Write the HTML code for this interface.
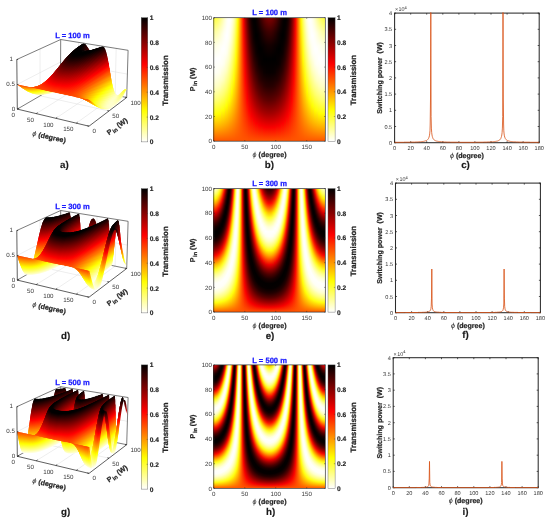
<!DOCTYPE html>
<html><head><meta charset="utf-8"><title>Transmission and switching power</title>
<style>
html,body{margin:0;padding:0;background:#fff}
#fig{position:relative;width:550px;height:520px;overflow:hidden;background:#fff;font-family:"Liberation Sans",sans-serif}
.hm{position:absolute;width:112px;display:flex}
.hm i{display:block;width:1px;height:100%}
svg{position:absolute;left:0;top:0}
text{font-family:"Liberation Sans",sans-serif;fill:#262626;text-rendering:geometricPrecision}
.tk{font-size:6.2px;fill:#383838}
.t2{font-size:5.6px}
.cbt{font-size:6.6px;font-weight:bold;stroke:#262626;stroke-width:.2px}
.cbl{font-size:7.8px;font-weight:bold;stroke:#262626;stroke-width:.25px}
.al{font-size:7.1px;font-weight:bold;stroke:#262626;stroke-width:.22px}
.ph{stroke:none;font-weight:normal;font-style:italic;font-family:"Liberation Sans","DejaVu Sans",sans-serif;font-size:7.2px}
.ti{font-size:7.6px;font-weight:bold;fill:#1a1aff;stroke:#1a1aff;stroke-width:.25px}
.pl{font-size:9.8px;font-weight:bold;fill:#1a1a1a;stroke:#1a1a1a;stroke-width:.15px}
.ex{font-size:5.4px;fill:#333}
.gr{stroke:#dcdcdc;stroke-width:.5;fill:none}
.bx{stroke:#444;stroke-width:.7;fill:none}
.ax{stroke:#222;stroke-width:.72;fill:none}
.ax2{stroke:#262626;stroke-width:.45;fill:none}
.ax3{stroke:#222;stroke-width:.75;fill:none}
.s3{position:absolute;left:0;top:0;width:5500px;height:5200px;transform:scale(.1);transform-origin:0 0}
.s3 i{position:absolute;display:block}
</style></head><body>
<div id="fig">
<svg width="550" height="520" viewBox="0 0 550 520">
<path d="M36.2 113.6L78 87.6" class="gr"/>
<path d="M78 87.6L78.6 42.4" class="gr"/>
<path d="M55.9 118.3L96.2 91.3" class="gr"/>
<path d="M96.2 91.3L97.1 45.3" class="gr"/>
<path d="M76.3 123.2L115.1 95.2" class="gr"/>
<path d="M115.1 95.2L116.2 48.4" class="gr"/>
<path d="M40.1 95.8L109 111" class="gr"/>
<path d="M40.1 95.8L40 48.9" class="gr"/>
<path d="M17.1 84.5L60.6 62" class="gr"/>
<path d="M60.6 62L127.4 74.1" class="gr"/>
<path d="M16.8 59.5L60.7 39.5" class="bx"/>
<path d="M60.7 39.5L128.1 50.3" class="bx"/>
<path d="M128.1 50.3L126.7 97.5" class="bx"/>
<path d="M60.7 39.5L60.5 84" class="bx"/>
<path d="M17.3 109.1L60.5 84" class="bx"/>
<path d="M60.5 84L126.7 97.5" class="bx"/>
<path d="M36.2 284.6L78 258.6" class="gr"/>
<path d="M78 258.6L78.6 213.4" class="gr"/>
<path d="M55.9 289.3L96.2 262.3" class="gr"/>
<path d="M96.2 262.3L97.1 216.3" class="gr"/>
<path d="M76.3 294.2L115.1 266.2" class="gr"/>
<path d="M115.1 266.2L116.2 219.4" class="gr"/>
<path d="M40.1 266.8L109 282" class="gr"/>
<path d="M40.1 266.8L40 219.9" class="gr"/>
<path d="M17.1 255.5L60.6 233" class="gr"/>
<path d="M60.6 233L127.4 245.1" class="gr"/>
<path d="M16.8 230.5L60.7 210.5" class="bx"/>
<path d="M60.7 210.5L128.1 221.3" class="bx"/>
<path d="M128.1 221.3L126.7 268.5" class="bx"/>
<path d="M60.7 210.5L60.5 255" class="bx"/>
<path d="M17.3 280.1L60.5 255" class="bx"/>
<path d="M60.5 255L126.7 268.5" class="bx"/>
<path d="M36.2 460.8L78 434.8" class="gr"/>
<path d="M78 434.8L78.6 389.6" class="gr"/>
<path d="M55.9 465.5L96.2 438.5" class="gr"/>
<path d="M96.2 438.5L97.1 392.5" class="gr"/>
<path d="M76.3 470.4L115.1 442.4" class="gr"/>
<path d="M115.1 442.4L116.2 395.6" class="gr"/>
<path d="M40.1 443L109 458.2" class="gr"/>
<path d="M40.1 443L40 396.1" class="gr"/>
<path d="M17.1 431.7L60.6 409.2" class="gr"/>
<path d="M60.6 409.2L127.4 421.3" class="gr"/>
<path d="M16.8 406.7L60.7 386.7" class="bx"/>
<path d="M60.7 386.7L128.1 397.5" class="bx"/>
<path d="M128.1 397.5L126.7 444.7" class="bx"/>
<path d="M60.7 386.7L60.5 431.2" class="bx"/>
<path d="M17.3 456.3L60.5 431.2" class="bx"/>
<path d="M60.5 431.2L126.7 444.7" class="bx"/>
</svg>
<div class="s3"><i style="left:168px;top:756px;width:448px;height:194px;clip-path:path('M3 89l54 38 52 32 51 23 49 8 48-6 47-23 45-39 45-54 43-66 9 4 -44 65 -44 53 -45 39 -47 22 -48 7 -49-9 -51-22 -52-32 -54-38z');background:linear-gradient(-27.4deg,#fff 87px,#ff0 192px,red 349px,#000 506px)"></i><i style="left:168px;top:756px;width:457px;height:195px;clip-path:path('M3 89l54 38 52 32 51 23 49 8 48-6 47-23 45-39 45-54 43-66 17 10 -43 64 -44 52 -46 37 -46 22 -48 6 -49-9 -50-22 -53-32 -54-37z');background:linear-gradient(-27.5deg,#fff 86px,#ff0 191px,red 348px,#000 505px)"></i><i style="left:172px;top:757px;width:462px;height:194px;clip-path:path('M2 89l55 38 52 32 51 22 49 9 48-6 46-23 46-39 44-54 44-66 22 18 -43 62 -44 49 -46 35 -46 20 -48 5 -49-9 -50-21 -52-31 -54-36z');background:linear-gradient(-27.5deg,#fff 85px,#ff0 190px,red 347px,#000 504px)"></i><i style="left:181px;top:761px;width:461px;height:190px;clip-path:path('M3 87l54 38 52 31 51 22 49 9 48-6 46-22 45-39 45-52 43-65 23 25 -43 58 -45 46 -45 32 -46 18 -48 4 -49-10 -50-20 -52-30 -54-34z');background:linear-gradient(-27.6deg,#fff 83px,#ff0 188px,red 345px,#000 502px)"></i><i style="left:191px;top:769px;width:460px;height:182px;clip-path:path('M2 81l54 37 52 31 51 21 49 10 48-6 46-21 45-37 45-51 43-63 22 32 -43 53 -44 41 -45 29 -46 16 -48 2 -48-9 -51-20 -52-28 -53-32z');background:linear-gradient(-27.7deg,#fff 81px,#ff0 186px,red 343px,#000 500px)"></i><i style="left:200px;top:779px;width:460px;height:171px;clip-path:path('M3 73l60 39 58 33 56 19 55 4 53-14 51-33 50-52 49-66 22 35 -48 53 -50 39 -51 24 -53 8 -54-5 -56-18 -58-28 -60-33z');background:linear-gradient(-27.8deg,#fff 79px,#ff0 184px,red 341px,#000 498px)"></i><i style="left:210px;top:792px;width:458px;height:156px;clip-path:path('M2 62l60 37 58 31 57 19 54 5 53-12 51-30 50-48 48-62 23 37 -49 46 -49 33 -51 20 -53 6 -54-6 -56-16 -57-25 -60-30z');background:linear-gradient(-27.8deg,#fff 75px,#ff0 180px,red 337px,#000 494px)"></i><i style="left:219px;top:806px;width:458px;height:140px;clip-path:path('M2 50l61 35 58 28 56 19 54 5 52-10 52-26 49-42 49-57 22 35 -48 39 -49 28 -51 16 -53 4 -54-6 -55-15 -58-22 -60-26z');background:linear-gradient(-27.9deg,#fff 72px,#ff0 177px,red 334px,#000 491px)"></i><i style="left:228px;top:820px;width:458px;height:120px;clip-path:path('M3 38l68 36 66 28 63 16 61-1 59-20 57-38 55-56 23 30 -55 35 -57 23 -58 10 -61-2 -63-12 -65-20 -68-24z');background:linear-gradient(-28.0deg,#fff 65px,#ff0 170px,red 327px,#000 484px)"></i><i style="left:238px;top:834px;width:456px;height:101px;clip-path:path('M2 26l69 32 65 25 63 15 61 0 59-15 57-32 55-49 23 22 -55 28 -57 17 -58 8 -61-2 -63-10 -65-15 -68-19z');background:linear-gradient(-28.1deg,#fff 59px,#ff0 163px,red 321px,#000 478px)"></i><i style="left:247px;top:845px;width:456px;height:83px;clip-path:path('M3 17l68 27 65 22 63 13 61 2 59-12 57-26 55-40 23 9 -55 21 -57 14 -58 6 -61-1 -62-6 -66-11 -67-13z');background:linear-gradient(-28.2deg,#fff 51px,#ff0 156px,red 313px,#000 470px)"></i><i style="left:257px;top:847px;width:455px;height:73px;clip-path:path('M2 17l79 25 76 20 72 8 70-4 66-21 65-36 22-7 -63 19 -67 11 -69 4 -72-1 -75-5 -79-8z');background:linear-gradient(-28.3deg,#fff 42px,#ff0 147px,red 304px,#000 461px)"></i><i style="left:266px;top:831px;width:455px;height:78px;clip-path:path('M3 35l79 19 75 14 72 7 70-4 66-15 64-29 23-25 -63 16 -67 11 -69 6 -72 4 -75 1 -78 0z');background:linear-gradient(-28.3deg,#fff 31px,#ff0 136px,red 293px,#000 450px)"></i><i style="left:276px;top:806px;width:454px;height:88px;clip-path:path('M2 62l94 14 90 9 84 0 81-11 77-25 24-46 -77 18 -81 14 -84 12 -89 11 -94 9z');background:linear-gradient(-28.4deg,#fff 17px,#ff0 121px,red 278px,#000 435px)"></i><i style="left:286px;top:775px;width:453px;height:104px;clip-path:path('M2 95l117 6 109 1 102-10 97-23 24-67 -97 26 -102 24 -109 24 -116 24z');background:linear-gradient(-28.5deg,#fff 2px,#ff0 106px,red 263px,#000 420px)"></i><i style="left:295px;top:736px;width:454px;height:144px;clip-path:path('M3 136l116-5 109-8 102-13 97-22 24-86 -96 33 -103 34 -109 35 -115 37z');background:linear-gradient(-28.6deg,#fff 2px,#ff0 106px,red 263px,#000 420px)"></i><i style="left:305px;top:692px;width:453px;height:190px;clip-path:path('M2 182l153-23 141-24 130-30 24-102 -130 57 -140 61 -153 66z');background:linear-gradient(-28.7deg,#fff 2px,#ff0 107px,red 263px,#000 420px)"></i><i style="left:314px;top:646px;width:453px;height:238px;clip-path:path('M3 230l225-58 198-56 25-114 -199 110 -224 124z');background:linear-gradient(-28.8deg,#fff 2px,#ff0 107px,red 264px,#000 421px)"></i><i style="left:324px;top:599px;width:453px;height:287px;clip-path:path('M2 279l225-82 199-75 24-119 -199 132 -223 150z');background:linear-gradient(-28.8deg,#fff 3px,#ff0 107px,red 264px,#000 421px)"></i><i style="left:334px;top:555px;width:453px;height:333px;clip-path:path('M2 325l224-108 199-96 25-118 -199 153 -224 175z');background:linear-gradient(-28.9deg,#fff 3px,#ff0 108px,red 265px,#000 422px)"></i><i style="left:343px;top:515px;width:453px;height:375px;clip-path:path('M3 367l152-91 141-84 130-77 25-112 -131 110 -140 124 -152 136z');background:linear-gradient(-29.0deg,#fff 4px,#ff0 108px,red 265px,#000 422px)"></i><i style="left:353px;top:482px;width:453px;height:410px;clip-path:path('M3 402l151-108 141-100 130-92 25-99 -130 117 -141 136 -151 152z');background:linear-gradient(-29.1deg,#fff 4px,#ff0 109px,red 266px,#000 423px)"></i><i style="left:363px;top:457px;width:452px;height:437px;clip-path:path('M2 429l115-95 109-89 102-83 97-78 25-81 -97 86 -103 102 -108 116 -114 128z');background:linear-gradient(-29.2deg,#fff 4px,#ff0 109px,red 266px,#000 423px)"></i><i style="left:372px;top:440px;width:452px;height:456px;clip-path:path('M3 449l92-87 88-83 85-77 80-72 77-66 25-61 -77 64 -80 79 -85 92 -88 104 -92 112z');background:linear-gradient(-29.3deg,#fff 5px,#ff0 109px,red 266px,#000 423px)"></i><i style="left:382px;top:431px;width:452px;height:468px;clip-path:path('M3 460l92-97 88-92 84-84 81-76 77-68 24-40 -77 57 -80 78 -84 95 -88 111 -92 121z');background:linear-gradient(-29.4deg,#fff 6px,#ff0 111px,red 267px,#000 424px)"></i><i style="left:392px;top:430px;width:451px;height:471px;clip-path:path('M3 463l77-90 74-84 71-78 69-72 66-63 64-54 24-20 -63 39 -66 57 -69 73 -71 88 -74 101 -77 108z');background:linear-gradient(-29.5deg,#fff 6px,#ff0 111px,red 267px,#000 424px)"></i><i style="left:402px;top:435px;width:450px;height:468px;clip-path:path('M2 460l77-97 74-91 72-83 69-73 66-63 64-50 24-1 -64 30 -66 51 -68 72 -72 90 -73 105 -77 115z');background:linear-gradient(-29.5deg,#fff 6px,#ff0 111px,red 268px,#000 424px)"></i><i style="left:412px;top:430px;width:449px;height:475px;clip-path:path('M2 467l66-90 64-85 62-77 60-69 58-59 56-48 55-37 24 15 -54 16 -56 33 -58 52 -60 69 -62 85 -63 96 -66 104z');background:linear-gradient(-29.6deg,#fff 6px,#ff0 111px,red 268px,#000 424px)"></i><i style="left:421px;top:431px;width:449px;height:476px;clip-path:path('M3 468l66-96 64-89 62-81 60-70 58-57 56-43 54-29 24 26 -54 7 -56 27 -57 48 -60 68 -62 86 -64 100 -65 109z');background:linear-gradient(-29.7deg,#fff 7px,#ff0 111px,red 268px,#000 424px)"></i><i style="left:431px;top:438px;width:448px;height:471px;clip-path:path('M3 463l58-89 56-84 54-76 54-66 51-55 50-43 49-30 47-17 24 33 -47-2 -48 15 -50 31 -51 50 -53 66 -55 81 -56 92 -57 100z');background:linear-gradient(-29.8deg,#fff 7px,#ff0 111px,red 268px,#000 424px)"></i><i style="left:441px;top:449px;width:447px;height:462px;clip-path:path('M3 454l57-93 56-87 55-79 53-66 52-54 50-38 48-24 47-10 24 37 -47-8 -48 8 -49 28 -52 47 -53 66 -54 82 -56 94 -58 103z');background:linear-gradient(-29.9deg,#fff 7px,#ff0 111px,red 268px,#000 424px)"></i><i style="left:451px;top:463px;width:446px;height:450px;clip-path:path('M3 442l57-97 56-90 55-80 53-67 51-51 50-34 49-18 46-3 24 38 -46-14 -48 4 -50 24 -51 45 -53 65 -54 82 -56 97 -58 105z');background:linear-gradient(-30.0deg,#fff 7px,#ff0 111px,red 268px,#000 424px)"></i><i style="left:461px;top:473px;width:445px;height:442px;clip-path:path('M2 434l58-100 56-93 55-82 53-66 51-48 50-30 48-12 46 4 24 35 -46-18 -48 0 -49 20 -51 43 -53 64 -54 84 -56 98 -58 107z');background:linear-gradient(-30.1deg,#fff 7px,#ff0 111px,red 268px,#000 424px)"></i><i style="left:471px;top:482px;width:445px;height:436px;clip-path:path('M2 428l52-93 50-86 48-77 48-64 46-50 45-34 44-18 42-4 41 10 24 30 -41-19 -42-6 -43 11 -45 29 -46 46 -47 64 -49 79 -50 90 -51 97z');background:linear-gradient(-30.2deg,#fff 8px,#ff0 113px,red 269px,#000 425px)"></i><i style="left:481px;top:490px;width:444px;height:430px;clip-path:path('M2 422l51-95 50-88 49-78 48-64 46-48 45-32 43-15 43 1 40 15 24 23 -40-21 -42-8 -43 10 -45 27 -46 47 -47 64 -49 79 -50 90 -51 98z');background:linear-gradient(-30.3deg,#fff 8px,#ff0 113px,red 269px,#000 425px)"></i><i style="left:491px;top:494px;width:443px;height:428px;clip-path:path('M2 420l51-96 50-90 49-78 47-64 46-48 45-29 44-12 42 4 41 18 24 15 -41-22 -42-7 -43 8 -44 28 -46 46 -48 64 -48 79 -50 91 -51 98z');background:linear-gradient(-30.4deg,#fff 8px,#ff0 113px,red 269px,#000 425px)"></i><i style="left:501px;top:498px;width:442px;height:426px;clip-path:path('M2 418l51-97 50-91 49-79 47-64 46-46 45-28 43-10 42 6 41 20 24 7 -40-21 -42-7 -43 9 -45 28 -46 46 -47 64 -48 79 -50 91 -51 99z');background:linear-gradient(-30.5deg,#fff 8px,#ff0 113px,red 269px,#000 425px)"></i><i style="left:511px;top:501px;width:442px;height:425px;clip-path:path('M2 417l51-98 50-91 49-79 47-64 46-46 44-28 44-9 42 8 40 21 24-2 -40-19 -42-6 -43 11 -44 29 -46 47 -47 65 -48 79 -50 90 -51 98z');background:linear-gradient(-30.6deg,#fff 9px,#ff0 113px,red 269px,#000 425px)"></i><i style="left:521px;top:502px;width:441px;height:426px;clip-path:path('M2 418l51-98 50-91 48-79 48-64 45-46 45-28 43-9 42 8 40 21 25-10 -40-17 -42-3 -43 14 -44 30 -46 49 -47 64 -48 79 -50 89 -50 97z');background:linear-gradient(-30.7deg,#fff 9px,#ff0 113px,red 269px,#000 425px)"></i><i style="left:531px;top:500px;width:441px;height:431px;clip-path:path('M2 422l51-98 50-90 48-80 47-64 46-46 45-28 43-10 41 6 41 21 24-18 -40-13 -41 1 -43 16 -45 33 -45 50 -47 65 -48 78 -50 88 -50 95z');background:linear-gradient(-30.7deg,#fff 10px,#ff0 114px,red 270px,#000 427px)"></i><i style="left:541px;top:494px;width:441px;height:439px;clip-path:path('M3 431l50-98 50-90 48-79 47-64 46-48 44-29 43-12 42 5 40 18 25-24 -40-8 -42 6 -43 20 -44 35 -45 51 -47 66 -48 77 -50 87 -50 92z');background:linear-gradient(-30.8deg,#fff 11px,#ff0 115px,red 271px,#000 427px)"></i><i style="left:551px;top:488px;width:440px;height:447px;clip-path:path('M3 439l56-108 56-98 54-84 52-65 50-44 49-22 47-2 46 17 25-29 -46-1 -47 15 -48 32 -51 50 -52 68 -53 82 -55 93 -57 101z');background:linear-gradient(-30.9deg,#fff 11px,#ff0 115px,red 271px,#000 427px)"></i><i style="left:561px;top:478px;width:440px;height:459px;clip-path:path('M3 451l57-105 55-97 54-84 52-66 50-46 49-26 47-6 45 12 25-30 -45 6 -47 20 -49 37 -50 53 -52 68 -53 81 -55 91 -57 98z');background:linear-gradient(-31.0deg,#fff 11px,#ff0 115px,red 271px,#000 427px)"></i><i style="left:571px;top:468px;width:440px;height:471px;clip-path:path('M3 463l57-103 55-95 53-82 52-67 51-49 49-30 47-11 45 5 25-28 -45 13 -47 28 -49 41 -50 55 -52 68 -53 79 -55 88 -57 94z');background:linear-gradient(-31.1deg,#fff 12px,#ff0 115px,red 271px,#000 427px)"></i><i style="left:582px;top:462px;width:438px;height:479px;clip-path:path('M2 471l65-113 62-103 61-88 58-69 56-46 55-24 52-2 25-24 -52 25 -54 41 -57 57 -58 71 -60 85 -62 94 -64 102z');background:linear-gradient(-31.2deg,#fff 11px,#ff0 115px,red 271px,#000 427px)"></i><i style="left:592px;top:460px;width:438px;height:484px;clip-path:path('M2 475l65-109 62-100 60-87 59-70 56-51 54-30 52-11 25-15 -52 34 -54 46 -56 60 -58 71 -60 82 -62 90 -64 96z');background:linear-gradient(-31.3deg,#fff 13px,#ff0 117px,red 272px,#000 428px)"></i><i style="left:602px;top:464px;width:437px;height:482px;clip-path:path('M2 474l65-105 62-97 60-85 59-71 56-55 54-37 52-20 25-1 -52 40 -54 51 -56 61 -58 70 -60 79 -62 85 -64 90z');background:linear-gradient(-31.4deg,#fff 13px,#ff0 116px,red 272px,#000 428px)"></i><i style="left:612px;top:460px;width:437px;height:488px;clip-path:path('M3 480l74-116 72-105 69-92 67-75 64-54 61-35 24 16 -61 54 -63 65 -66 75 -69 84 -72 91 -74 97z');background:linear-gradient(-31.5deg,#fff 13px,#ff0 117px,red 272px,#000 428px)"></i><i style="left:622px;top:461px;width:436px;height:489px;clip-path:path('M3 481l74-109 72-101 69-89 66-76 64-60 61-44 24 36 -61 58 -63 65 -66 72 -68 79 -71 85 -74 90z');background:linear-gradient(-31.6deg,#fff 13px,#ff0 117px,red 272px,#000 428px)"></i><i style="left:633px;top:468px;width:434px;height:484px;clip-path:path('M2 476l89-121 85-112 81-97 77-81 74-62 23 57 -73 70 -77 78 -80 85 -84 92 -88 97z');background:linear-gradient(-31.7deg,#fff 13px,#ff0 116px,red 272px,#000 427px)"></i><i style="left:643px;top:483px;width:433px;height:472px;clip-path:path('M2 463l110-139 104-126 98-108 93-87 23 79 -92 85 -97 93 -103 101 -109 108z');background:linear-gradient(-31.8deg,#fff 13px,#ff0 117px,red 272px,#000 428px)"></i><i style="left:653px;top:507px;width:431px;height:450px;clip-path:path('M3 442l109-128 104-117 98-105 92-89 23 99 -91 78 -97 83 -103 89 -108 95z');background:linear-gradient(-31.9deg,#fff 13px,#ff0 116px,red 272px,#000 427px)"></i><i style="left:663px;top:539px;width:430px;height:420px;clip-path:path('M3 412l145-153 133-136 124-120 22 116 -122 91 -132 100 -143 107z');background:linear-gradient(-32.0deg,#fff 13px,#ff0 116px,red 271px,#000 427px)"></i><i style="left:674px;top:579px;width:427px;height:382px;clip-path:path('M2 374l212-199 189-172 22 127 -186 117 -210 133z');background:linear-gradient(-32.1deg,#fff 12px,#ff0 115px,red 270px,#000 426px)"></i><i style="left:684px;top:626px;width:426px;height:337px;clip-path:path('M3 329l211-174 187-153 22 132 -184 95 -209 106z');background:linear-gradient(-32.3deg,#fff 12px,#ff0 115px,red 270px,#000 425px)"></i><i style="left:695px;top:676px;width:423px;height:290px;clip-path:path('M2 281l210-148 187-131 22 131 -184 73 -208 81z');background:linear-gradient(-32.4deg,#fff 12px,#ff0 115px,red 270px,#000 425px)"></i><i style="left:705px;top:727px;width:422px;height:241px;clip-path:path('M2 233l143-83 131-77 121-70 22 123 -119 38 -129 37 -141 37z');background:linear-gradient(-32.5deg,#fff 11px,#ff0 115px,red 270px,#000 425px)"></i><i style="left:715px;top:778px;width:420px;height:192px;clip-path:path('M3 184l142-65 130-61 120-56 23 109 -119 33 -128 24 -141 22z');background:linear-gradient(-32.6deg,#fff 11px,#ff0 114px,red 269px,#000 424px)"></i><i style="left:726px;top:825px;width:418px;height:147px;clip-path:path('M2 139l108-36 100-35 94-33 89-33 23 91 -88 25 -93 15 -99 8 -106 4z');background:linear-gradient(-32.7deg,#fff 10px,#ff0 114px,red 268px,#000 423px)"></i><i style="left:736px;top:866px;width:417px;height:118px;clip-path:path('M3 100l86-18 81-19 78-19 73-20 71-22 23 70 -70 25 -73 14 -76 4 -81-2 -85-7z');background:linear-gradient(-32.8deg,#fff 19px,#ff0 122px,red 276px,#000 431px)"></i><i style="left:747px;top:899px;width:416px;height:102px;clip-path:path('M2 70l86-9 81-10 77-12 73-16 70-20 24 49 -69 31 -73 15 -76 2 -81-9 -84-16z');background:linear-gradient(-32.9deg,#fff 31px,#ff0 134px,red 289px,#000 444px)"></i><i style="left:757px;top:925px;width:415px;height:95px;clip-path:path('M3 46l71 1 68-1 66-4 62-8 60-13 58-19 25 28 -58 35 -60 21 -62 6 -65-5 -67-15 -71-20z');background:linear-gradient(-33.0deg,#fff 45px,#ff0 148px,red 303px,#000 457px)"></i><i style="left:768px;top:942px;width:414px;height:93px;clip-path:path('M2 31l72 9 67 6 65 0 63-6 60-14 58-24 24 10 -57 44 -60 26 -62 8 -65-7 -67-19 -70-27z');background:linear-gradient(-33.1deg,#fff 56px,#ff0 159px,red 314px,#000 468px)"></i><i style="left:778px;top:945px;width:414px;height:102px;clip-path:path('M3 30l61 14 58 11 57 6 54 0 53-9 51-17 49-27 25-5 -49 47 -51 32 -53 16 -53 1 -56-12 -58-23 -60-28z');background:linear-gradient(-33.2deg,#fff 65px,#ff0 168px,red 322px,#000 476px)"></i><i style="left:789px;top:936px;width:413px;height:122px;clip-path:path('M3 42l60 19 59 16 56 9 54 0 52-10 51-22 50-34 25-17 -49 56 -51 38 -53 20 -53 3 -56-14 -58-26 -60-33z');background:linear-gradient(-33.3deg,#fff 73px,#ff0 175px,red 329px,#000 484px)"></i><i style="left:800px;top:925px;width:412px;height:143px;clip-path:path('M2 55l53 22 51 19 50 12 48 5 46-5 46-16 44-27 43-38 26-24 -43 57 -45 43 -45 27 -46 11 -48-4 -49-17 -51-27 -52-32z');background:linear-gradient(-33.4deg,#fff 79px,#ff0 182px,red 336px,#000 490px)"></i><i style="left:810px;top:914px;width:412px;height:162px;clip-path:path('M3 68l53 27 51 22 49 15 48 4 46-7 46-20 44-33 43-46 26-28 -43 64 -45 49 -45 31 -46 14 -48-3 -49-18 -50-29 -53-36z');background:linear-gradient(-33.6deg,#fff 84px,#ff0 187px,red 341px,#000 495px)"></i><i style="left:821px;top:903px;width:411px;height:180px;clip-path:path('M2 81l53 31 51 25 49 16 48 5 46-10 45-24 45-40 43-53 27-28 -44 69 -45 54 -45 35 -46 16 -48-2 -48-19 -51-30 -52-39z');background:linear-gradient(-33.7deg,#fff 89px,#ff0 191px,red 345px,#000 499px)"></i><i style="left:832px;top:895px;width:410px;height:193px;clip-path:path('M2 92l52 34 51 27 49 18 48 3 46-12 45-29 45-45 43-60 27-26 -44 74 -45 58 -45 38 -46 18 -47-1 -49-19 -50-32 -52-40z');background:linear-gradient(-33.8deg,#fff 91px,#ff0 194px,red 347px,#000 501px)"></i><i style="left:842px;top:889px;width:410px;height:205px;clip-path:path('M3 100l46 33 45 28 44 19 43 8 41-5 41-19 40-34 40-47 38-60 27-21 -39 69 -40 57 -40 42 -40 25 -42 8 -42-8 -44-20 -44-32 -46-37z');background:linear-gradient(-33.9deg,#fff 94px,#ff0 197px,red 351px,#000 504px)"></i><i style="left:853px;top:886px;width:409px;height:212px;clip-path:path('M2 105l47 35 45 30 43 20 43 8 41-7 41-22 40-37 40-52 39-64 26-14 -39 71 -40 58 -40 43 -40 27 -42 9 -42-8 -43-21 -45-32 -46-38z');background:linear-gradient(-34.0deg,#fff 96px,#ff0 198px,red 352px,#000 505px)"></i><i style="left:864px;top:886px;width:408px;height:215px;clip-path:path('M2 107l46 37 45 31 44 21 42 7 41-8 41-24 40-40 40-55 39-67 25-7 -38 72 -40 59 -40 43 -40 27 -41 9 -42-7 -44-21 -44-32 -46-39z');background:linear-gradient(-34.1deg,#fff 97px,#ff0 199px,red 353px,#000 506px)"></i></div>
<div class="s3"><i style="left:168px;top:2169px;width:448px;height:580px;clip-path:path('M3 386l20 62 20 54 19 42 19 26 19 6 18-15 18-34 18-52 18-67 17-75 18-79 17-76 17-68 17-54 18-36 17-17 16 4 17 22 17 39 16 51 16 58 16 57 15 53 16 43 15 28 9-1 -16-29 -15-44 -16-53 -15-58 -16-57 -16-50 -17-38 -17-21 -16-3 -17 18 -17 38 -18 55 -17 68 -17 76 -18 78 -17 75 -18 66 -18 52 -18 34 -18 14 -19-7 -19-25 -19-42 -20-55 -20-61z');background:linear-gradient(-27.4deg,#fff 166px,#ff0 271px,red 428px,#000 585px)"></i><i style="left:168px;top:2169px;width:457px;height:582px;clip-path:path('M3 386l20 62 20 54 19 42 19 26 19 6 18-15 18-34 18-52 18-67 17-75 18-79 17-76 17-68 17-54 18-36 17-17 16 4 17 22 17 39 16 51 16 58 16 57 15 53 16 43 15 28 17-8 -15-34 -15-46 -16-54 -15-57 -16-55 -17-47 -16-35 -17-17 -16 1 -17 22 -17 40 -18 56 -17 69 -17 76 -18 78 -17 74 -18 63 -18 50 -18 33 -18 12 -18-7 -19-26 -20-42 -19-53 -21-61z');background:linear-gradient(-27.5deg,#fff 166px,#ff0 271px,red 428px,#000 585px)"></i><i style="left:172px;top:2169px;width:462px;height:583px;clip-path:path('M2 387l21 61 19 55 20 42 19 25 18 7 19-15 18-34 18-52 17-67 18-75 17-79 18-76 17-68 17-54 17-37 17-17 17 4 17 23 16 38 16 51 16 57 16 58 16 53 15 43 15 29 23-26 -15-39 -15-49 -16-55 -16-56 -15-51 -17-42 -16-28 -17-11 -16 8 -17 27 -17 44 -17 59 -18 70 -17 76 -17 76 -18 71 -18 61 -17 46 -18 30 -19 11 -18-9 -19-26 -20-42 -19-53 -20-59z');background:linear-gradient(-27.5deg,#fff 166px,#ff0 270px,red 427px,#000 585px)"></i><i style="left:181px;top:2168px;width:461px;height:585px;clip-path:path('M3 390l20 61 20 54 19 42 19 26 19 6 18-13 18-34 18-51 17-65 18-74 17-79 18-76 17-68 17-56 17-38 17-19 17 1 17 20 16 37 16 49 16 56 16 58 15 54 16 44 15 31 23-51 -15-45 -15-52 -16-54 -16-52 -15-45 -17-34 -16-19 -16-2 -17 16 -17 34 -17 49 -17 62 -18 71 -17 75 -17 73 -18 67 -17 57 -18 42 -18 26 -19 8 -18-10 -19-27 -19-41 -20-51 -20-58z');background:linear-gradient(-27.6deg,#fff 164px,#ff0 269px,red 426px,#000 583px)"></i><i style="left:191px;top:2163px;width:460px;height:589px;clip-path:path('M2 397l20 60 20 53 19 42 19 26 19 8 18-12 18-31 18-49 18-63 17-73 17-77 18-76 17-69 17-58 17-41 17-24 17-3 17 15 16 32 16 45 16 54 16 57 15 54 16 48 15 35 23-85 -15-49 -15-52 -16-51 -15-45 -16-35 -16-23 -17-8 -16 10 -17 25 -17 42 -17 54 -17 65 -17 71 -18 72 -17 69 -18 62 -17 52 -18 37 -18 21 -18 5 -19-12 -19-28 -19-40 -19-50 -20-55z');background:linear-gradient(-27.7deg,#fff 162px,#ff0 267px,red 424px,#000 581px)"></i><i style="left:200px;top:2158px;width:461px;height:594px;clip-path:path('M3 404l20 61 21 54 20 42 20 25 19 6 19-15 18-34 19-53 18-66 18-75 19-79 18-77 17-68 18-55 18-38 18-18 17 2 17 21 17 38 16 49 17 56 16 58 16 53 16 43 23-127 -16-51 -15-49 -17-44 -16-34 -17-21 -17-5 -17 10 -17 28 -17 42 -18 56 -18 65 -18 70 -18 73 -18 69 -18 62 -18 50 -19 38 -18 21 -19 5 -20-12 -19-27 -20-40 -20-49 -21-55z');background:linear-gradient(-27.8deg,#fff 161px,#ff0 266px,red 423px,#000 580px)"></i><i style="left:210px;top:2153px;width:460px;height:599px;clip-path:path('M2 411l22 61 21 54 21 42 20 24 20 5 20-17 19-36 20-55 19-68 18-77 19-81 19-77 19-67 18-54 18-35 19-15 18 6 17 25 18 40 17 52 17 58 16 57 17 51 24-167 -17-47 -17-40 -16-30 -18-16 -17-2 -18 15 -18 30 -18 45 -18 58 -19 65 -18 71 -19 72 -19 67 -19 61 -19 49 -19 36 -19 20 -20 4 -20-12 -20-27 -21-39 -21-48 -21-53z');background:linear-gradient(-27.8deg,#fff 159px,#ff0 264px,red 421px,#000 578px)"></i><i style="left:219px;top:2144px;width:459px;height:608px;clip-path:path('M2 422l23 61 22 54 22 41 21 24 21 3 20-17 21-38 20-56 19-69 20-78 20-81 19-77 20-68 19-53 19-34 19-14 18 7 19 26 18 42 17 52 18 57 17 57 23-186 -17-36 -18-25 -18-11 -18 3 -18 19 -19 34 -19 48 -19 58 -19 67 -19 70 -19 71 -20 66 -20 59 -19 48 -20 34 -21 19 -20 3 -21-12 -21-26 -22-38 -22-47 -22-52z');background:linear-gradient(-27.9deg,#fff 158px,#ff0 262px,red 419px,#000 576px)"></i><i style="left:229px;top:2134px;width:457px;height:617px;clip-path:path('M3 434l23 60 23 53 23 41 22 23 22 3 21-17 21-37 21-55 21-69 20-78 21-81 20-77 20-69 20-54 20-36 20-16 19 4 19 23 18 39 19 51 17 56 22-169 -19-20 -18-6 -19 8 -19 24 -19 38 -20 50 -20 60 -20 67 -20 70 -20 69 -20 65 -21 57 -20 46 -21 32 -21 18 -22 3 -21-13 -23-25 -22-38 -23-45 -23-51z');background:linear-gradient(-28.0deg,#fff 155px,#ff0 260px,red 417px,#000 574px)"></i><i style="left:238px;top:2125px;width:455px;height:624px;clip-path:path('M2 445l25 59 24 52 24 40 23 22 23 4 22-17 22-37 22-54 22-68 21-77 21-81 22-78 21-69 21-56 20-39 20-19 20 2 20 20 19 36 19 48 20-130 -20 0 -19 14 -20 28 -20 41 -21 53 -20 62 -21 67 -21 69 -21 68 -21 63 -21 54 -22 44 -22 31 -22 16 -22 2 -23-12 -23-25 -24-36 -24-44 -24-49z');background:linear-gradient(-28.1deg,#fff 152px,#ff0 257px,red 414px,#000 571px)"></i><i style="left:246px;top:2117px;width:454px;height:630px;clip-path:path('M3 455l25 57 26 51 24 39 25 22 23 4 24-17 23-36 23-53 23-67 22-77 22-80 23-78 22-70 21-58 22-41 21-22 21-2 20 16 20 33 18-73 -20 19 -21 33 -21 45 -21 55 -22 63 -21 67 -22 69 -22 66 -22 60 -23 53 -22 41 -23 29 -23 15 -24 1 -24-12 -24-25 -24-34 -26-43 -25-47z');background:linear-gradient(-28.1deg,#fff 150px,#ff0 254px,red 411px,#000 568px)"></i><i style="left:253px;top:2130px;width:453px;height:615px;clip-path:path('M3 443l27 57 27 49 26 38 25 22 25 3 25-16 24-35 24-52 24-67 24-75 23-80 23-78 23-71 23-60 23-43 22-26 21-6 22 12 16-6 -21 38 -22 48 -23 57 -22 64 -23 67 -23 67 -23 64 -23 58 -23 49 -24 39 -24 27 -24 14 -25 0 -25-12 -25-24 -26-33 -27-41 -27-44z');background:linear-gradient(-28.2deg,#fff 147px,#ff0 251px,red 408px,#000 565px)"></i><i style="left:261px;top:2119px;width:450px;height:622px;clip-path:path('M2 456l29 54 28 49 27 36 27 21 26 4 26-16 26-34 25-51 25-65 25-74 25-79 24-79 24-72 24-61 24-47 23-29 23-11 15 63 -23 51 -24 59 -23 64 -24 66 -24 65 -24 62 -24 55 -25 46 -25 37 -25 24 -26 13 -26-1 -26-12 -27-23 -27-31 -28-39 -28-42z');background:linear-gradient(-28.2deg,#fff 142px,#ff0 246px,red 403px,#000 560px)"></i><i style="left:267px;top:2122px;width:449px;height:615px;clip-path:path('M3 454l30 53 30 46 29 36 28 20 28 4 27-15 27-34 27-49 26-64 27-73 26-78 25-78 26-73 25-64 24-49 25-33 14 123 -25 60 -24 64 -25 64 -25 63 -26 58 -25 52 -26 44 -27 33 -26 22 -27 11 -28-1 -27-12 -29-21 -29-30 -29-36 -30-39z');background:linear-gradient(-28.3deg,#fff 137px,#ff0 241px,red 398px,#000 555px)"></i><i style="left:274px;top:2152px;width:447px;height:580px;clip-path:path('M2 425l35 55 33 46 33 34 32 17 32-3 31-23 30-42 30-60 30-73 29-81 29-84 29-80 29-71 27-57 13 169 -27 67 -28 67 -29 63 -29 57 -29 49 -29 39 -30 27 -30 15 -31 3 -32-9 -32-19 -33-28 -33-35 -34-39z');background:linear-gradient(-28.3deg,#fff 131px,#ff0 236px,red 393px,#000 550px)"></i><i style="left:280px;top:2206px;width:446px;height:520px;clip-path:path('M2 373l37 52 36 44 35 32 35 16 34-3 33-23 32-42 32-58 32-72 31-80 31-84 31-80 30-73 12 195 -30 64 -30 59 -30 54 -31 45 -32 35 -31 25 -33 14 -33 2 -33-8 -35-18 -35-26 -36-32 -37-35z');background:linear-gradient(-28.4deg,#fff 124px,#ff0 229px,red 386px,#000 543px)"></i><i style="left:286px;top:2276px;width:444px;height:442px;clip-path:path('M2 304l40 49 39 42 38 30 37 15 36-4 36-22 35-41 34-57 34-71 33-79 33-83 33-81 12 198 -32 55 -33 48 -33 41 -33 32 -35 22 -34 12 -36 2 -36-7 -37-16 -38-23 -38-28 -40-31z');background:linear-gradient(-28.4deg,#fff 116px,#ff0 221px,red 378px,#000 535px)"></i><i style="left:291px;top:2354px;width:444px;height:356px;clip-path:path('M3 227l43 46 43 39 41 28 40 13 39-4 38-22 38-40 37-56 36-69 36-77 35-82 12 176 -35 43 -35 36 -36 28 -37 20 -37 10 -38 2 -39-6 -40-13 -41-19 -42-24 -44-26z');background:linear-gradient(-28.5deg,#fff 108px,#ff0 212px,red 369px,#000 526px)"></i><i style="left:297px;top:2432px;width:442px;height:267px;clip-path:path('M3 150l47 42 46 36 45 25 44 11 43-5 41-22 41-39 40-54 39-66 39-76 12 134 -38 31 -39 24 -40 17 -40 9 -42 3 -42-4 -44-10 -45-15 -46-17 -47-20z');background:linear-gradient(-28.5deg,#fff 97px,#ff0 201px,red 358px,#000 515px)"></i><i style="left:303px;top:2499px;width:441px;height:186px;clip-path:path('M2 85l53 37 51 31 49 21 48 9 47-6 46-22 44-37 44-52 42-64 13 77 -43 20 -43 15 -44 9 -45 3 -47-1 -48-5 -49-8 -51-12 -53-12z');background:linear-gradient(-28.6deg,#fff 83px,#ff0 188px,red 345px,#000 502px)"></i><i style="left:308px;top:2548px;width:441px;height:117px;clip-path:path('M3 37l67 35 65 28 62 15 60-1 58-19 56-38 55-55 13 10 -55 16 -56 10 -58 7 -60 2 -62 0 -64-3 -67-4z');background:linear-gradient(-28.6deg,#fff 65px,#ff0 170px,red 327px,#000 484px)"></i><i style="left:314px;top:2516px;width:440px;height:128px;clip-path:path('M2 70l78 27 75 20 71 9 69-6 66-22 64-39 13-57 -63 16 -66 13 -69 12 -72 10 -74 10 -78 10z');background:linear-gradient(-28.7deg,#fff 46px,#ff0 150px,red 307px,#000 464px)"></i><i style="left:319px;top:2454px;width:441px;height:161px;clip-path:path('M2 133l94 15 88 10 84 0 80-12 77-26 14-117 -77 25 -80 26 -85 26 -88 27 -93 29z');background:linear-gradient(-28.7deg,#fff 20px,#ff0 125px,red 282px,#000 439px)"></i><i style="left:324px;top:2380px;width:442px;height:214px;clip-path:path('M3 208l115-2 109-6 102-12 96-22 14-164 -96 48 -103 51 -108 53 -116 57z');background:linear-gradient(-28.8deg,#fff 1px,#ff0 106px,red 263px,#000 420px)"></i><i style="left:329px;top:2302px;width:442px;height:293px;clip-path:path('M3 287l152-30 141-31 129-32 15-191 -131 88 -140 96 -152 103z');background:linear-gradient(-28.8deg,#fff 1px,#ff0 106px,red 263px,#000 420px)"></i><i style="left:335px;top:2231px;width:442px;height:365px;clip-path:path('M2 359l224-85 199-77 15-195 -200 167 -224 193z');background:linear-gradient(-28.9deg,#fff 2px,#ff0 107px,red 263px,#000 420px)"></i><i style="left:340px;top:2174px;width:443px;height:423px;clip-path:path('M2 418l116-66 108-62 103-58 96-55 15-174 -97 86 -103 99 -109 111 -115 122z');background:linear-gradient(-28.9deg,#fff 2px,#ff0 107px,red 264px,#000 421px)"></i><i style="left:345px;top:2140px;width:443px;height:458px;clip-path:path('M3 453l92-70 89-67 84-63 81-61 77-57 15-132 -78 61 -81 79 -84 93 -89 105 -93 115z');background:linear-gradient(-28.9deg,#fff 3px,#ff0 107px,red 264px,#000 421px)"></i><i style="left:350px;top:2133px;width:443px;height:466px;clip-path:path('M3 461l77-73 75-70 72-66 69-63 67-59 64-54 14-74 -64 36 -67 54 -69 72 -72 88 -75 102 -77 110z');background:linear-gradient(-29.0deg,#fff 3px,#ff0 107px,red 264px,#000 421px)"></i><i style="left:356px;top:2153px;width:442px;height:447px;clip-path:path('M2 442l67-75 64-72 63-68 60-63 59-58 56-52 55-47 14-5 -55 9 -56 28 -59 49 -60 67 -63 85 -64 98 -67 107z');background:linear-gradient(-29.0deg,#fff 3px,#ff0 107px,red 264px,#000 421px)"></i><i style="left:361px;top:2134px;width:442px;height:468px;clip-path:path('M3 462l58-77 57-73 55-68 53-63 53-56 50-49 50-41 48-33 12 65 -47-15 -49 2 -50 22 -52 43 -54 64 -55 82 -57 96 -58 104z');background:linear-gradient(-29.1deg,#fff 3px,#ff0 108px,red 265px,#000 422px)"></i><i style="left:366px;top:2137px;width:441px;height:466px;clip-path:path('M3 460l52-78 50-74 50-69 48-62 47-53 46-45 45-35 43-25 43-16 12 127 -42-35 -43-21 -44-4 -46 17 -47 39 -48 61 -49 80 -51 94 -52 102z');background:linear-gradient(-29.1deg,#fff 3px,#ff0 107px,red 264px,#000 421px)"></i><i style="left:372px;top:2165px;width:440px;height:439px;clip-path:path('M2 433l43-71 42-69 40-64 41-58 39-50 38-42 38-33 37-23 36-15 35-5 34 3 12 173 -34-43 -34-37 -35-27 -37-13 -37 3 -39 23 -39 41 -40 59 -41 74 -41 85 -43 93z');background:linear-gradient(-29.2deg,#fff 3px,#ff0 107px,red 264px,#000 421px)"></i><i style="left:378px;top:2191px;width:438px;height:414px;clip-path:path('M2 409l39-74 38-69 38-65 37-57 36-49 36-38 35-29 34-18 33-7 33 2 32 11 31 18 11 199 -30-46 -31-47 -32-41 -33-32 -34-19 -35 0 -35 18 -36 39 -37 57 -38 73 -38 85 -39 92z');background:linear-gradient(-29.2deg,#fff 2px,#ff0 106px,red 263px,#000 420px)"></i><i style="left:383px;top:2211px;width:438px;height:396px;clip-path:path('M3 390l36-75 35-70 35-65 34-56 34-47 33-36 32-24 32-13 31-1 31 9 30 18 29 25 28 30 12 200 -28-41 -28-48 -30-50 -30-45 -30-36 -32-23 -32-4 -33 15 -34 36 -34 56 -35 72 -35 84 -36 92z');background:linear-gradient(-29.3deg,#fff 2px,#ff0 107px,red 264px,#000 420px)"></i><i style="left:389px;top:2226px;width:437px;height:382px;clip-path:path('M2 376l34-75 33-72 32-64 32-56 32-45 31-33 30-21 30-7 29 4 28 15 28 25 28 30 27 35 26 37 12 178 -26-29 -26-42 -27-49 -28-52 -28-49 -28-40 -30-26 -30-8 -31 13 -31 34 -32 54 -32 71 -33 84 -34 92z');background:linear-gradient(-29.4deg,#fff 2px,#ff0 106px,red 263px,#000 420px)"></i><i style="left:395px;top:2239px;width:436px;height:370px;clip-path:path('M2 364l32-76 30-72 31-65 30-55 29-43 29-31 29-16 28-3 27 10 27 20 26 30 26 35 25 40 25 39 24 37 14 135 -25-12 -24-28 -25-42 -26-51 -25-54 -27-52 -27-43 -27-29 -29-11 -29 10 -29 32 -30 53 -30 71 -31 84 -31 91z');background:linear-gradient(-29.4deg,#fff 1px,#ff0 106px,red 263px,#000 419px)"></i><i style="left:401px;top:2251px;width:436px;height:360px;clip-path:path('M3 354l29-77 29-73 28-65 28-54 28-42 27-28 27-13 27 1 25 15 26 25 25 35 24 39 24 43 23 41 23 37 23 31 15 76 -23 10 -23-9 -24-28 -23-42 -24-51 -25-57 -25-54 -25-46 -26-32 -27-13 -27 8 -28 30 -28 52 -28 70 -29 83 -29 91z');background:linear-gradient(-29.5deg,#fff 2px,#ff0 106px,red 263px,#000 420px)"></i><i style="left:407px;top:2260px;width:437px;height:365px;clip-path:path('M3 346l26-73 25-70 26-62 25-53 25-42 24-28 24-15 24-1 24 12 22 23 23 32 22 38 22 42 21 42 21 40 21 34 20 27 20 17 17 9 -21 31 -21 14 -21-5 -21-22 -21-37 -21-47 -22-53 -22-55 -22-50 -23-40 -24-26 -24-8 -24 13 -25 32 -25 52 -25 67 -26 80 -26 86z');background:linear-gradient(-29.5deg,#fff 13px,#ff0 118px,red 274px,#000 431px)"></i><i style="left:414px;top:2267px;width:438px;height:372px;clip-path:path('M2 340l25-74 24-70 24-62 24-53 24-40 23-26 23-12 23 2 22 16 22 27 21 36 21 41 21 45 20 44 20 40 20 33 19 25 20 14 19 1 19-59 -20 51 -20 34 -20 17 -20-3 -20-20 -20-36 -21-47 -21-55 -21-56 -21-52 -22-43 -22-28 -23-11 -23 11 -24 31 -23 51 -24 67 -25 79 -24 87z');background:linear-gradient(-29.6deg,#fff 25px,#ff0 129px,red 286px,#000 442px)"></i><i style="left:421px;top:2274px;width:440px;height:378px;clip-path:path('M2 335l24-75 23-70 23-63 22-52 23-39 22-24 22-10 21 6 22 19 20 31 21 39 20 44 19 47 20 45 19 40 19 33 19 22 18 10 19-3 18-16 21-120 -19 66 -19 53 -19 38 -20 19 -19 0 -19-18 -19-35 -20-48 -19-55 -20-58 -21-55 -21-45 -21-31 -22-12 -22 9 -22 30 -23 50 -23 67 -23 79 -23 86z');background:linear-gradient(-29.7deg,#fff 35px,#ff0 140px,red 297px,#000 453px)"></i><i style="left:428px;top:2280px;width:442px;height:385px;clip-path:path('M3 330l22-75 22-71 22-63 21-51 22-38 21-23 21-6 20 8 21 23 19 33 20 43 19 47 19 48 18 46 19 40 18 31 18 20 18 7 18-8 18-21 17-35 24-167 -19 76 -18 68 -19 56 -18 41 -19 22 -18 2 -18-17 -19-34 -19-48 -18-56 -20-60 -19-56 -20-47 -20-33 -21-14 -21 7 -21 28 -22 50 -22 66 -22 80 -22 86z');background:linear-gradient(-29.8deg,#fff 46px,#ff0 150px,red 307px,#000 463px)"></i><i style="left:436px;top:2286px;width:445px;height:391px;clip-path:path('M3 326l21-76 21-71 21-63 20-51 21-37 20-21 20-4 19 11 20 25 19 37 18 45 19 50 18 49 18 47 17 39 18 30 17 17 17 3 17-11 18-26 17-39 17-51 26-189 -18 76 -18 77 -18 69 -17 58 -18 42 -18 23 -17 3 -18-16 -18-34 -18-48 -18-57 -18-60 -19-58 -19-48 -19-35 -20-15 -20 6 -20 28 -21 48 -21 67 -21 79 -21 86z');background:linear-gradient(-29.8deg,#fff 56px,#ff0 160px,red 317px,#000 473px)"></i><i style="left:445px;top:2265px;width:446px;height:421px;clip-path:path('M2 349l21-77 20-72 20-62 19-51 20-36 19-19 20-2 18 14 19 29 18 39 18 48 17 52 18 51 17 46 17 39 16 28 17 14 17-1 16-16 17-30 17-44 17-55 17-63 26-178 -17 72 -17 77 -17 76 -18 68 -17 57 -17 41 -17 22 -17 2 -17-17 -17-35 -17-49 -17-58 -18-60 -17-58 -19-49 -18-34 -19-16 -19 6 -20 27 -20 49 -20 66 -20 79 -20 86z');background:linear-gradient(-29.9deg,#fff 62px,#ff0 167px,red 323px,#000 480px)"></i><i style="left:455px;top:2225px;width:446px;height:468px;clip-path:path('M2 391l20-77 19-72 19-63 19-51 19-34 18-18 19 1 18 16 17 31 18 43 17 50 17 53 16 52 17 47 16 38 16 26 16 11 16-5 17-20 16-35 16-48 16-59 17-66 16-68 26-141 -16 64 -17 73 -16 77 -17 74 -16 66 -17 54 -16 37 -17 18 -16-1 -16-20 -17-37 -16-50 -17-58 -17-61 -17-57 -17-48 -18-33 -18-15 -18 7 -19 28 -19 48 -19 66 -20 78 -19 85z');background:linear-gradient(-30.0deg,#fff 67px,#ff0 171px,red 328px,#000 484px)"></i><i style="left:465px;top:2199px;width:445px;height:501px;clip-path:path('M2 419l20-80 19-75 19-64 19-50 19-32 18-13 18 6 18 24 18 39 17 49 17 56 17 56 17 52 16 44 16 32 16 16 17-1 16-19 16-35 16-50 17-61 16-69 17-72 16-71 26-99 -16 59 -17 70 -16 77 -17 78 -17 73 -16 61 -17 46 -16 27 -17 6 -16-14 -16-33 -17-48 -16-58 -17-63 -17-60 -17-52 -18-37 -18-19 -19 4 -18 26 -19 48 -19 66 -20 79 -19 87z');background:linear-gradient(-30.1deg,#fff 71px,#ff0 176px,red 332px,#000 489px)"></i><i style="left:475px;top:2185px;width:445px;height:519px;clip-path:path('M2 435l19-80 18-74 19-64 18-49 18-32 18-13 17 6 17 24 17 39 17 49 16 56 16 57 16 53 16 44 16 33 15 17 16 0 15-17 16-35 16-48 16-61 16-69 16-71 16-71 15-65 25-62 -15 51 -16 64 -16 73 -16 77 -16 74 -16 66 -16 54 -16 37 -15 18 -16-1 -16-21 -15-38 -16-50 -16-59 -16-61 -17-58 -16-48 -17-34 -18-15 -17 6 -18 28 -18 48 -19 66 -18 78 -19 84z');background:linear-gradient(-30.2deg,#fff 74px,#ff0 178px,red 334px,#000 491px)"></i><i style="left:485px;top:2179px;width:444px;height:528px;clip-path:path('M2 444l19-83 18-76 19-64 18-49 18-30 17-10 18 11 17 28 17 44 16 53 17 59 16 58 16 52 15 42 16 27 16 10 15-9 16-26 16-44 16-58 16-68 16-73 16-74 15-69 16-59 25-33 -16 47 -15 63 -16 72 -16 77 -16 76 -16 69 -16 56 -16 40 -16 21 -16 1 -15-18 -16-36 -16-50 -15-59 -17-62 -16-59 -16-50 -17-35 -18-16 -17 5 -18 27 -19 48 -18 66 -18 78 -19 85z');background:linear-gradient(-30.3deg,#fff 74px,#ff0 179px,red 335px,#000 491px)"></i><i style="left:495px;top:2180px;width:444px;height:529px;clip-path:path('M2 445l19-84 18-77 19-65 18-49 18-28 17-8 18 14 17 32 17 47 16 56 16 61 16 59 16 51 16 39 15 22 16 5 16-16 15-34 16-50 16-64 16-73 16-76 16-73 16-66 16-53 24-12 -15 47 -16 62 -16 73 -16 77 -16 76 -16 69 -16 56 -16 41 -16 21 -15 2 -16-19 -15-36 -16-50 -16-59 -16-62 -16-59 -17-50 -17-35 -17-16 -17 5 -18 27 -18 48 -19 66 -18 78 -19 85z');background:linear-gradient(-30.4deg,#fff 75px,#ff0 179px,red 335px,#000 492px)"></i><i style="left:505px;top:2182px;width:443px;height:528px;clip-path:path('M2 445l19-85 18-78 18-65 19-48 18-28 17-6 18 16 17 34 16 49 17 59 16 61 16 59 15 50 16 37 16 20 15 0 16-19 16-39 16-55 16-68 16-75 16-76 16-73 16-64 15-49 24 6 -15 49 -16 64 -16 73 -16 77 -16 75 -16 67 -16 55 -15 38 -16 19 -16 0 -15-20 -16-37 -15-51 -16-59 -16-62 -16-58 -17-49 -17-34 -17-15 -17 6 -18 27 -18 49 -19 65 -18 78 -19 85z');background:linear-gradient(-30.5deg,#fff 74px,#ff0 178px,red 334px,#000 491px)"></i><i style="left:515px;top:2179px;width:442px;height:532px;clip-path:path('M2 450l19-85 18-79 18-65 19-48 18-27 17-5 17 16 17 35 17 50 16 59 16 62 16 59 16 50 15 36 16 19 16-2 15-21 16-41 16-57 16-69 17-76 16-77 15-72 16-62 16-48 23 23 -15 55 -16 66 -16 74 -16 76 -16 72 -15 64 -16 50 -16 33 -16 15 -15-5 -16-24 -15-39 -16-51 -15-59 -16-61 -16-56 -17-47 -17-31 -17-14 -17 8 -18 29 -18 49 -19 65 -18 78 -19 83z');background:linear-gradient(-30.6deg,#fff 73px,#ff0 177px,red 333px,#000 490px)"></i><i style="left:525px;top:2182px;width:441px;height:528px;clip-path:path('M2 449l19-85 18-78 19-66 18-48 18-28 17-5 17 16 17 35 17 50 16 59 16 62 16 59 15 50 16 36 16 19 15-1 16-21 16-40 16-56 16-68 16-76 16-77 16-73 15-62 16-48 23 45 -15 60 -16 70 -16 74 -16 73 -16 68 -15 57 -16 42 -16 26 -15 8 -15-11 -16-28 -15-43 -16-52 -15-58 -16-59 -16-53 -17-43 -17-28 -17-10 -17 10 -18 31 -18 49 -19 65 -18 76 -19 83z');background:linear-gradient(-30.7deg,#fff 70px,#ff0 175px,red 331px,#000 487px)"></i><i style="left:535px;top:2192px;width:440px;height:519px;clip-path:path('M2 441l19-84 18-78 19-66 18-48 18-28 17-7 17 15 17 33 17 48 16 58 16 61 16 59 15 51 16 38 15 21 16 2 15-17 16-37 16-53 16-66 16-74 16-77 16-73 16-65 15-52 23 76 -15 65 -16 72 -16 72 -16 68 -16 60 -15 47 -16 33 -15 16 -15-1 -16-19 -15-33 -15-45 -16-54 -15-56 -16-56 -16-49 -17-38 -17-23 -17-6 -17 14 -18 32 -18 50 -19 65 -18 74 -19 81z');background:linear-gradient(-30.8deg,#fff 70px,#ff0 174px,red 330px,#000 486px)"></i><i style="left:545px;top:2210px;width:438px;height:501px;clip-path:path('M2 425l20-86 19-80 19-66 19-49 18-26 18-4 18 18 18 37 17 51 16 60 17 63 16 58 16 49 16 33 16 15 17-5 16-26 16-45 17-61 16-72 17-78 17-77 16-72 16-59 22 114 -16 71 -16 72 -16 69 -17 60 -16 49 -16 33 -16 17 -16-1 -15-17 -16-33 -16-45 -16-53 -16-56 -16-55 -17-49 -17-38 -18-23 -18-5 -18 14 -18 32 -19 51 -19 65 -19 75 -19 81z');background:linear-gradient(-30.9deg,#fff 67px,#ff0 171px,red 327px,#000 483px)"></i><i style="left:555px;top:2241px;width:436px;height:467px;clip-path:path('M2 397l20-86 19-78 19-66 19-49 18-29 18-7 18 14 18 33 17 47 16 57 17 61 16 58 16 51 16 37 16 22 16 2 16-17 16-36 17-53 16-65 17-74 16-77 17-74 16-65 21 156 -16 69 -16 65 -16 57 -16 47 -16 33 -16 18 -15 3 -16-13 -15-27 -16-39 -16-47 -16-53 -16-53 -16-50 -17-41 -17-30 -18-16 -18 1 -18 18 -18 36 -19 51 -19 63 -19 73 -19 78z');background:linear-gradient(-31.0deg,#fff 62px,#ff0 166px,red 322px,#000 478px)"></i><i style="left:565px;top:2288px;width:433px;height:415px;clip-path:path('M3 352l20-87 20-79 19-66 20-50 19-28 19-7 19 15 18 34 17 48 18 57 17 61 16 58 17 50 17 36 16 19 17-1 16-20 17-40 17-55 17-68 17-76 18-77 17-74 20 191 -17 62 -16 54 -17 42 -16 29 -16 14 -16 0 -16-16 -16-29 -17-40 -16-47 -16-51 -17-52 -17-47 -18-39 -17-28 -19-13 -18 3 -19 20 -19 37 -20 51 -19 64 -20 73 -20 77z');background:linear-gradient(-31.1deg,#fff 55px,#ff0 159px,red 315px,#000 471px)"></i><i style="left:575px;top:2314px;width:430px;height:383px;clip-path:path('M3 328l21-87 21-80 20-67 21-50 20-29 19-7 20 15 18 33 19 48 18 57 17 60 18 57 17 49 17 36 17 18 17-1 18-21 17-39 18-56 17-69 18-75 18-78 19 195 -17 50 -17 38 -17 24 -17 10 -16-4 -17-18 -17-31 -16-40 -17-47 -17-51 -18-49 -17-45 -19-36 -18-25 -19-10 -19 5 -20 22 -20 38 -20 52 -21 64 -21 72 -21 77z');background:linear-gradient(-31.2deg,#fff 48px,#ff0 152px,red 308px,#000 463px)"></i><i style="left:586px;top:2311px;width:426px;height:379px;clip-path:path('M2 333l22-87 22-80 22-67 21-51 21-30 20-8 20 12 20 31 19 46 19 56 18 59 18 56 18 49 18 36 17 20 18 1 18-19 18-37 18-53 19-67 18-74 17 166 -17 33 -18 20 -17 6 -17-9 -17-21 -17-32 -18-40 -17-47 -18-48 -18-48 -19-41 -19-34 -19-21 -20-8 -20 8 -20 24 -21 39 -21 52 -22 64 -22 72 -22 77z');background:linear-gradient(-31.2deg,#fff 40px,#ff0 144px,red 300px,#000 456px)"></i><i style="left:595px;top:2307px;width:423px;height:374px;clip-path:path('M2 339l24-87 22-80 23-68 22-51 22-32 21-10 21 11 21 29 20 44 19 53 19 58 19 56 19 49 18 36 19 21 18 3 19-16 18-34 19-51 19-64 17 118 -18 14 -18 2 -18-12 -18-24 -18-33 -18-41 -18-46 -18-46 -19-45 -20-38 -19-30 -21-18 -20-4 -21 10 -22 26 -22 40 -22 53 -22 64 -23 72 -23 75z');background:linear-gradient(-31.3deg,#fff 30px,#ff0 134px,red 290px,#000 446px)"></i><i style="left:603px;top:2303px;width:422px;height:368px;clip-path:path('M3 345l24-87 24-80 24-69 23-52 23-33 22-12 22 9 22 27 21 41 20 51 20 56 20 55 19 49 19 37 19 23 19 5 20-13 19-31 19-48 17 56 -18-4 -19-15 -18-26 -19-35 -19-41 -19-44 -19-44 -20-41 -20-35 -21-26 -21-14 -21-1 -22 13 -23 27 -23 42 -23 54 -24 63 -24 72 -24 75z');background:linear-gradient(-31.4deg,#fff 21px,#ff0 125px,red 280px,#000 436px)"></i><i style="left:611px;top:2296px;width:421px;height:362px;clip-path:path('M3 354l27-92 26-85 27-70 26-53 25-30 25-8 24 14 23 33 23 47 23 55 22 58 21 54 21 43 21 29 21 11 22-9 21-29 17-13 -20-20 -21-31 -20-38 -21-43 -21-45 -22-43 -22-37 -23-29 -23-17 -24-3 -24 11 -25 27 -25 42 -26 55 -26 66 -27 75 -27 78z');background:linear-gradient(-31.5deg,#fff 9px,#ff0 113px,red 268px,#000 424px)"></i><i style="left:619px;top:2290px;width:420px;height:367px;clip-path:path('M2 361l29-92 28-85 28-71 27-53 27-33 26-10 26 12 25 30 24 44 23 54 23 56 23 52 22 44 22 30 22 12 22-6 18-80 -21-32 -22-38 -22-42 -22-42 -23-39 -23-33 -24-24 -25-13 -25 1 -25 14 -27 30 -27 43 -27 56 -28 67 -28 74 -28 78z');background:linear-gradient(-31.5deg,#fff 7px,#ff0 111px,red 267px,#000 422px)"></i><i style="left:626px;top:2279px;width:420px;height:380px;clip-path:path('M2 374l31-93 30-85 29-72 29-55 29-34 28-12 27 9 26 27 25 41 25 51 24 54 24 51 24 44 23 30 23 15 19-138 -23-37 -23-39 -24-39 -24-35 -25-28 -25-19 -26-8 -27 5 -27 19 -28 32 -28 45 -29 57 -30 66 -29 74 -31 77z');background:linear-gradient(-31.6deg,#fff 9px,#ff0 112px,red 268px,#000 423px)"></i><i style="left:632px;top:2268px;width:421px;height:392px;clip-path:path('M3 386l32-93 33-85 31-73 31-56 30-36 30-15 29 5 27 24 28 38 26 48 26 51 25 50 24 43 25 32 19-179 -24-36 -25-34 -26-30 -26-22 -27-13 -28-3 -28 10 -29 22 -30 35 -30 47 -31 57 -31 67 -32 73 -33 77z');background:linear-gradient(-31.7deg,#fff 9px,#ff0 113px,red 268px,#000 424px)"></i><i style="left:639px;top:2252px;width:422px;height:409px;clip-path:path('M2 403l35-93 35-86 34-74 33-57 32-39 32-17 30 2 30 19 29 35 28 44 27 49 27 48 26 42 19-199 -26-28 -28-23 -27-16 -29-7 -30 3 -30 15 -31 26 -32 38 -32 49 -33 58 -33 67 -35 72 -34 76z');background:linear-gradient(-31.7deg,#fff 10px,#ff0 114px,red 269px,#000 425px)"></i><i style="left:645px;top:2234px;width:423px;height:429px;clip-path:path('M3 423l38-94 37-86 36-75 36-60 34-40 34-22 33-2 32 16 31 29 30 40 29 46 29 46 18-195 -29-16 -30-8 -30 0 -32 10 -32 21 -34 30 -34 41 -34 51 -36 59 -36 66 -37 71 -37 75z');background:linear-gradient(-31.8deg,#fff 12px,#ff0 115px,red 271px,#000 426px)"></i><i style="left:651px;top:2207px;width:423px;height:457px;clip-path:path('M3 451l45-103 44-94 43-80 43-61 40-39 40-16 38 5 37 23 36 37 34 45 18-166 -36 1 -36 10 -38 22 -38 32 -40 43 -41 53 -42 63 -43 71 -44 77 -45 80z');background:linear-gradient(-31.8deg,#fff 12px,#ff0 116px,red 271px,#000 426px)"></i><i style="left:658px;top:2181px;width:422px;height:484px;clip-path:path('M2 478l50-104 49-96 47-82 46-64 45-43 44-20 41 0 40 18 39 31 17-116 -40 19 -41 29 -42 38 -44 47 -45 56 -46 64 -47 71 -48 76 -50 80z');background:linear-gradient(-31.9deg,#fff 12px,#ff0 116px,red 271px,#000 427px)"></i><i style="left:663px;top:2183px;width:423px;height:483px;clip-path:path('M3 478l56-107 54-98 53-85 52-67 49-46 48-26 46-6 44 11 15-51 -45 36 -46 43 -48 52 -50 58 -51 65 -52 70 -54 75 -56 79z');background:linear-gradient(-31.9deg,#fff 13px,#ff0 116px,red 271px,#000 427px)"></i><i style="left:669px;top:2193px;width:421px;height:475px;clip-path:path('M3 469l63-109 62-101 60-87 57-71 56-52 53-33 51-13 14 20 -52 49 -53 55 -56 60 -57 65 -59 70 -61 73 -63 77z');background:linear-gradient(-32.0deg,#fff 13px,#ff0 116px,red 271px,#000 427px)"></i><i style="left:675px;top:2178px;width:419px;height:491px;clip-path:path('M3 485l73-112 72-104 68-92 66-75 63-59 60-40 12 89 -60 57 -63 61 -65 64 -68 68 -70 72 -74 74z');background:linear-gradient(-32.1deg,#fff 12px,#ff0 115px,red 271px,#000 426px)"></i><i style="left:681px;top:2192px;width:417px;height:478px;clip-path:path('M2 472l88-117 84-108 81-96 76-82 73-67 10 149 -72 58 -75 62 -80 65 -83 68 -87 72z');background:linear-gradient(-32.1deg,#fff 11px,#ff0 115px,red 270px,#000 425px)"></i><i style="left:686px;top:2233px;width:415px;height:438px;clip-path:path('M3 433l144-164 133-144 124-123 9 189 -121 75 -132 81 -142 89z');background:linear-gradient(-32.2deg,#fff 10px,#ff0 114px,red 269px,#000 424px)"></i><i style="left:692px;top:2295px;width:413px;height:377px;clip-path:path('M3 372l211-198 187-171 9 206 -184 79 -209 87z');background:linear-gradient(-32.2deg,#fff 9px,#ff0 113px,red 268px,#000 423px)"></i><i style="left:698px;top:2372px;width:410px;height:302px;clip-path:path('M2 296l143-106 132-97 122-90 9 199 -120 35 -130 31 -141 31z');background:linear-gradient(-32.3deg,#fff 9px,#ff0 112px,red 268px,#000 423px)"></i><i style="left:703px;top:2454px;width:409px;height:221px;clip-path:path('M3 215l108-58 101-55 95-51 90-49 10 169 -89 25 -93 14 -100 7 -107 1z');background:linear-gradient(-32.3deg,#fff 8px,#ff0 112px,red 267px,#000 422px)"></i><i style="left:709px;top:2531px;width:408px;height:171px;clip-path:path('M3 139l86-29 82-28 78-27 75-26 71-27 10 119 -70 31 -74 15 -77 1 -81-9 -86-16z');background:linear-gradient(-32.4deg,#fff 30px,#ff0 133px,red 288px,#000 443px)"></i><i style="left:715px;top:2594px;width:407px;height:140px;clip-path:path('M2 78l72-10 70-10 66-11 63-13 61-14 58-17 13 54 -59 45 -61 27 -63 8 -65-8 -68-20 -72-28z');background:linear-gradient(-32.5deg,#fff 56px,#ff0 159px,red 314px,#000 469px)"></i><i style="left:720px;top:2620px;width:408px;height:139px;clip-path:path('M3 53l54 4 53 2 50 2 49-2 48-4 46-8 45-12 44-16 14-16 -45 55 -45 42 -46 26 -47 10 -49-4 -50-17 -52-27 -54-32z');background:linear-gradient(-32.5deg,#fff 77px,#ff0 180px,red 335px,#000 490px)"></i><i style="left:726px;top:2568px;width:409px;height:212px;clip-path:path('M3 106l48 13 47 12 45 9 44 4 43 0 41-5 41-11 40-18 38-23 17-84 -40 70 -41 59 -41 42 -42 26 -42 9 -44-7 -45-22 -46-32 -48-39z');background:linear-gradient(-32.6deg,#fff 94px,#ff0 197px,red 352px,#000 507px)"></i><i style="left:732px;top:2498px;width:410px;height:299px;clip-path:path('M3 177l43 21 42 19 41 14 40 10 38 3 38-4 38-12 36-20 36-28 35-35 18-142 -36 82 -37 73 -37 60 -38 44 -38 27 -39 7 -40-10 -40-25 -42-37 -43-43z');background:linear-gradient(-32.6deg,#fff 108px,#ff0 211px,red 366px,#000 521px)"></i><i style="left:738px;top:2419px;width:412px;height:392px;clip-path:path('M2 258l40 27 38 24 37 19 37 13 35 5 35-4 34-13 34-22 33-32 33-41 32-48 20-183 -34 87 -34 84 -34 75 -34 62 -35 45 -35 27 -36 6 -36-12 -37-28 -38-40 -39-48z');background:linear-gradient(-32.7deg,#fff 120px,#ff0 223px,red 378px,#000 533px)"></i><i style="left:744px;top:2340px;width:414px;height:483px;clip-path:path('M2 338l36 32 35 29 35 23 33 16 33 6 32-4 32-14 31-26 31-36 31-45 30-54 30-60 21-202 -31 85 -31 88 -32 86 -32 77 -32 63 -32 46 -33 26 -33 6 -33-13 -34-31 -35-43 -35-52z');background:linear-gradient(-32.8deg,#fff 131px,#ff0 234px,red 388px,#000 543px)"></i><i style="left:750px;top:2271px;width:416px;height:562px;clip-path:path('M3 408l33 37 32 33 31 26 31 18 31 7 30-4 30-17 29-28 29-39 29-50 28-58 29-65 28-68 20-197 -28 75 -29 85 -29 89 -30 86 -30 78 -30 65 -30 47 -30 27 -31 5 -31-15 -31-33 -32-46 -33-54z');background:linear-gradient(-32.8deg,#fff 139px,#ff0 242px,red 397px,#000 551px)"></i><i style="left:756px;top:2221px;width:418px;height:621px;clip-path:path('M3 460l28 37 28 35 28 28 27 20 26 11 27 0 26-11 26-23 25-34 26-44 25-53 25-59 25-64 25-67 25-66 20-167 -24 53 -25 67 -26 78 -25 82 -26 83 -27 78 -26 67 -26 53 -27 37 -26 17 -27-1 -27-20 -27-34 -28-47 -28-53z');background:linear-gradient(-32.9deg,#fff 146px,#ff0 249px,red 404px,#000 559px)"></i><i style="left:763px;top:2196px;width:418px;height:654px;clip-path:path('M2 486l27 41 26 37 26 31 25 22 25 11 25-1 25-13 24-25 24-37 25-48 24-56 24-63 24-68 23-68 24-67 23-63 19-116 -22 32 -23 50 -24 65 -24 76 -24 83 -25 84 -25 79 -25 69 -25 55 -25 38 -25 18 -25-2 -25-20 -25-36 -26-49 -27-55z');background:linear-gradient(-33.0deg,#fff 152px,#ff0 255px,red 410px,#000 564px)"></i><i style="left:770px;top:2200px;width:418px;height:658px;clip-path:path('M2 483l25 44 25 40 24 33 24 23 23 11 24-1 23-15 23-27 23-40 23-51 23-60 23-66 23-70 23-70 22-67 22-62 21-53 19-49 -20 7 -21 28 -22 47 -23 63 -23 75 -23 83 -24 85 -23 80 -24 71 -24 56 -23 39 -24 18 -24-1 -23-21 -24-38 -24-50 -25-58z');background:linear-gradient(-33.1deg,#fff 158px,#ff0 261px,red 415px,#000 570px)"></i><i style="left:776px;top:2209px;width:418px;height:656px;clip-path:path('M3 476l23 46 24 42 22 35 23 24 22 11 22-2 22-16 23-30 22-42 22-54 22-63 22-69 21-71 22-71 21-66 21-60 21-50 20-38 18 24 -19-17 -19 3 -20 24 -21 44 -22 61 -21 75 -23 83 -22 85 -23 81 -22 72 -23 58 -22 39 -23 20 -22-2 -23-22 -22-39 -23-52 -23-59z');background:linear-gradient(-33.1deg,#fff 162px,#ff0 265px,red 419px,#000 573px)"></i><i style="left:784px;top:2194px;width:417px;height:678px;clip-path:path('M2 492l22 49 22 44 22 36 21 25 21 12 21-3 21-18 21-32 21-45 22-57 21-65 21-71 21-72 20-71 21-66 20-57 19-47 19-33 19-18 17 94 -17-37 -17-21 -19-1 -19 20 -20 41 -20 59 -21 74 -22 83 -21 86 -22 82 -21 73 -22 59 -21 40 -22 20 -21-2 -21-22 -21-40 -22-53 -22-61z');background:linear-gradient(-33.2deg,#fff 166px,#ff0 269px,red 423px,#000 577px)"></i><i style="left:791px;top:2206px;width:416px;height:672px;clip-path:path('M3 482l21 51 20 46 21 37 20 25 20 12 20-3 20-19 20-34 21-48 20-59 20-67 20-73 20-73 20-72 20-64 19-55 19-42 18-28 18-13 17 2 17 154 -16-52 -16-41 -17-25 -17-4 -19 17 -18 38 -20 57 -20 73 -21 82 -20 87 -21 83 -21 74 -20 60 -21 41 -20 20 -20-2 -20-22 -20-41 -21-55 -20-62z');background:linear-gradient(-33.3deg,#fff 168px,#ff0 271px,red 425px,#000 580px)"></i><i style="left:799px;top:2219px;width:416px;height:667px;clip-path:path('M3 471l19 50 18 46 19 38 18 27 19 14 18 0 18-15 19-29 18-43 19-54 18-63 19-69 18-71 19-70 18-66 18-57 17-47 17-34 17-20 16-5 15 9 15 21 18 196 -14-57 -14-53 -14-44 -16-29 -15-12 -17 8 -17 28 -18 47 -18 63 -19 75 -18 81 -19 83 -19 77 -19 67 -19 53 -19 34 -18 14 -18-6 -19-25 -18-42 -18-54 -19-61z');background:linear-gradient(-33.4deg,#fff 173px,#ff0 276px,red 430px,#000 584px)"></i><i style="left:808px;top:2233px;width:414px;height:658px;clip-path:path('M2 459l18 52 18 47 18 39 17 27 18 15 17-1 18-16 18-31 18-45 17-56 18-65 18-71 18-72 18-70 17-65 17-55 17-44 16-30 16-15 16 0 14 14 15 27 13 38 20 206 -13-56 -13-58 -14-55 -14-45 -14-31 -15-13 -16 6 -17 27 -17 46 -17 62 -18 75 -18 81 -19 83 -18 77 -18 68 -18 52 -18 34 -18 15 -17-7 -18-26 -17-42 -18-55 -17-62z');background:linear-gradient(-33.5deg,#fff 174px,#ff0 276px,red 430px,#000 584px)"></i><i style="left:818px;top:2244px;width:413px;height:651px;clip-path:path('M3 450l18 56 17 50 18 41 17 27 18 11 17-5 18-23 18-40 18-54 18-66 18-73 18-76 18-75 18-70 17-60 17-46 16-31 16-13 16 4 14 19 14 34 14 43 14 51 20 178 -13-52 -13-59 -13-61 -14-55 -14-44 -15-28 -15-7 -16 15 -17 36 -18 56 -17 72 -19 82 -18 86 -18 83 -19 74 -18 59 -18 41 -17 18 -18-3 -17-25 -18-43 -17-57 -18-64z');background:linear-gradient(-33.6deg,#fff 175px,#ff0 277px,red 431px,#000 585px)"></i><i style="left:829px;top:2254px;width:410px;height:646px;clip-path:path('M2 442l17 57 17 52 17 41 17 28 16 11 17-6 17-24 17-41 18-55 17-67 18-75 17-77 17-75 17-69 17-58 16-44 16-28 15-9 15 8 14 24 14 37 13 47 13 52 12 54 22 136 -13-44 -12-55 -13-60 -12-59 -14-53 -13-40 -15-24 -15-3 -15 19 -17 40 -16 58 -18 73 -17 82 -18 84 -18 81 -17 72 -17 57 -18 37 -17 17 -16-5 -17-26 -16-43 -17-57 -17-64z');background:linear-gradient(-33.8deg,#fff 176px,#ff0 279px,red 432px,#000 586px)"></i><i style="left:839px;top:2263px;width:409px;height:641px;clip-path:path('M3 435l16 58 16 53 16 42 16 28 16 12 17-6 16-25 16-41 17-55 17-68 17-74 17-77 16-76 17-68 16-58 16-43 15-26 15-9 14 10 13 25 13 39 13 48 12 54 12 54 12 50 23 95 -12-37 -12-48 -12-57 -12-60 -13-57 -12-48 -14-34 -14-17 -14 4 -15 24 -16 44 -17 62 -16 74 -17 81 -17 83 -17 78 -17 68 -17 53 -16 34 -17 14 -16-7 -15-26 -16-44 -16-56 -16-64z');background:linear-gradient(-33.9deg,#fff 177px,#ff0 280px,red 433px,#000 587px)"></i><i style="left:850px;top:2271px;width:408px;height:636px;clip-path:path('M3 430l16 60 16 54 16 43 16 28 16 9 16-9 16-29 17-47 17-61 17-72 17-79 17-80 16-75 17-66 16-52 15-35 15-17 15 4 13 21 13 36 13 48 12 56 13 57 12 53 12 46 23 60 -12-32 -12-46 -12-56 -12-61 -12-59 -13-52 -13-39 -13-21 -15-1 -15 20 -16 41 -16 59 -17 74 -17 81 -17 84 -17 81 -17 70 -16 55 -17 37 -16 15 -16-6 -16-26 -16-44 -15-57 -16-64z');background:linear-gradient(-34.0deg,#fff 178px,#ff0 280px,red 434px,#000 587px)"></i><i style="left:861px;top:2276px;width:409px;height:634px;clip-path:path('M2 427l16 62 16 56 16 43 16 27 16 8 16-12 17-33 17-51 16-66 17-76 17-82 17-81 17-74 16-63 16-47 16-28 14-8 14 13 14 30 13 44 12 55 12 58 12 58 12 51 12 39 28 35 -13-30 -12-44 -11-56 -12-61 -12-60 -13-53 -13-41 -14-24 -14-3 -15 18 -16 40 -16 58 -17 73 -16 82 -18 85 -17 81 -17 71 -16 57 -17 37 -16 17 -16-6 -16-26 -15-44 -16-58 -16-65z');background:linear-gradient(-34.1deg,#fff 179px,#ff0 281px,red 434px,#000 588px)"></i></div>
<div class="s3"><i style="left:168px;top:3884px;width:449px;height:649px;clip-path:path('M3 433l12 65 12 59 12 46 12 30 11 11 11-9 11-30 11-47 11-62 10-72 11-76 10-74 11-66 10-54 11-36 11-17 10 4 11 24 11 41 10 54 11 61 10 63 11 59 10 50 10 35 10 19 10 0 10-20 10-38 9-53 10-64 10-71 10-71 10-66 10-56 9-42 10-23 9-4 10 15 9 33 9 46 9 56 9-8 -9-55 -9-44 -9-31 -10-12 -9 7 -10 26 -10 43 -9 58 -10 67 -10 71 -10 70 -10 63 -10 51 -9 36 -10 18 -10-2 -10-20 -10-37 -10-51 -11-59 -10-63 -11-60 -10-53 -11-40 -11-22 -10-3 -11 18 -11 37 -10 54 -11 67 -10 74 -11 76 -10 71 -11 61 -11 47 -11 29 -11 9 -11-11 -12-30 -12-47 -12-58 -12-65z');background:linear-gradient(-27.4deg,#fff 186px,#ff0 291px,red 448px,#000 605px)"></i><i style="left:168px;top:3884px;width:458px;height:650px;clip-path:path('M3 433l12 65 12 59 12 46 12 30 11 11 11-9 11-30 11-47 11-62 10-72 11-76 10-74 11-66 10-54 11-36 11-17 10 4 11 24 11 41 10 54 11 61 10 63 11 59 10 50 10 35 10 19 10 0 10-20 10-38 9-53 10-64 10-71 10-71 10-66 10-56 9-42 10-23 9-4 10 15 9 33 9 46 9 56 18-36 -9-50 -9-38 -9-22 -10-4 -9 15 -10 33 -10 50 -10 61 -9 68 -10 71 -10 67 -10 59 -10 46 -10 30 -9 12 -10-8 -10-25 -10-40 -10-53 -11-60 -10-62 -11-59 -10-49 -11-36 -10-19 -11 1 -11 22 -10 40 -11 55 -10 68 -11 74 -10 74 -11 70 -11 60 -10 45 -11 27 -11 8 -12-12 -11-31 -12-46 -12-58 -13-64z');background:linear-gradient(-27.5deg,#fff 185px,#ff0 290px,red 447px,#000 604px)"></i><i style="left:172px;top:3882px;width:463px;height:654px;clip-path:path('M2 436l13 65 12 58 12 47 11 30 12 11 11-9 11-30 11-47 10-62 11-72 10-76 11-74 10-66 11-54 11-36 10-17 11 4 11 23 10 41 11 54 10 61 11 63 10 59 10 50 10 36 10 19 10-1 10-19 10-37 10-53 10-64 10-71 9-71 10-66 10-57 10-41 9-24 10-5 9 15 10 32 9 46 9 56 23-78 -9-40 -9-25 -10-8 -9 10 -10 27 -9 44 -10 57 -10 65 -10 70 -9 68 -10 61 -10 51 -10 37 -10 19 -10 2 -9-16 -10-32 -10-46 -11-56 -10-60 -10-60 -11-54 -10-44 -11-30 -10-11 -11 7 -10 26 -11 44 -11 59 -10 68 -11 73 -10 73 -11 67 -10 57 -11 42 -11 25 -11 5 -12-13 -11-31 -12-46 -12-57 -12-63z');background:linear-gradient(-27.5deg,#fff 186px,#ff0 290px,red 447px,#000 604px)"></i><i style="left:181px;top:3879px;width:463px;height:658px;clip-path:path('M3 441l12 66 13 59 12 47 12 29 11 10 12-12 11-32 11-50 11-65 11-74 10-78 11-74 11-65 11-51 11-33 11-11 10 10 11 29 11 47 11 57 11 64 10 63 11 57 10 46 10 29 11 11 10-9 10-29 10-47 10-60 10-69 10-73 10-71 10-62 10-49 10-31 10-12 10 8 9 27 9 43 9 55 24-110 -9-23 -10-5 -9 12 -10 30 -10 46 -10 57 -10 66 -10 69 -10 68 -10 60 -10 50 -10 35 -10 18 -10 0 -10-17 -10-34 -11-46 -10-56 -10-60 -11-60 -10-53 -11-43 -11-28 -11-10 -10 8 -11 28 -11 45 -11 58 -11 69 -11 73 -10 73 -11 67 -11 56 -11 42 -11 24 -12 5 -11-13 -12-31 -12-46 -12-56 -13-63z');background:linear-gradient(-27.6deg,#fff 185px,#ff0 290px,red 447px,#000 604px)"></i><i style="left:191px;top:3876px;width:461px;height:661px;clip-path:path('M2 446l13 65 12 59 12 46 12 30 12 11 11-10 11-30 11-48 11-63 11-72 11-76 10-75 11-66 11-54 11-36 11-16 11 5 11 24 10 42 11 54 11 61 10 63 11 59 10 49 10 35 11 18 10-2 10-21 10-39 10-54 10-65 10-71 10-71 10-66 10-56 10-40 10-22 9-3 10 17 9 34 9 47 23-105 -10-1 -9 15 -10 32 -10 46 -10 57 -10 64 -10 67 -10 65 -10 59 -10 49 -10 35 -10 20 -9 3 -10-14 -10-29 -11-42 -10-52 -10-58 -10-58 -11-54 -11-46 -10-33 -11-18 -11 0 -11 17 -10 35 -11 50 -11 62 -11 69 -10 71 -11 70 -11 62 -11 52 -11 37 -11 20 -12 2 -11-15 -12-31 -12-45 -12-56 -13-60z');background:linear-gradient(-27.7deg,#fff 183px,#ff0 288px,red 445px,#000 602px)"></i><i style="left:201px;top:3874px;width:458px;height:663px;clip-path:path('M2 450l13 65 13 59 12 46 12 30 12 10 12-10 11-30 11-48 12-63 11-72 11-77 11-74 11-67 11-54 11-36 11-16 11 4 11 25 11 41 11 54 11 61 11 63 10 59 11 49 10 34 11 18 10-2 10-21 11-39 10-54 10-65 10-71 11-71 10-66 10-56 10-40 10-23 10-3 10 17 9 33 19-57 -9 19 -10 36 -10 49 -11 59 -10 65 -10 66 -10 64 -10 57 -11 46 -10 32 -10 16 -10 0 -10-17 -10-31 -11-44 -10-52 -10-58 -11-57 -11-53 -10-43 -11-31 -11-16 -11 2 -11 20 -11 36 -11 52 -12 62 -11 69 -11 71 -11 69 -11 62 -11 50 -11 36 -12 20 -11 2 -12-16 -12-31 -13-45 -12-55 -13-60z');background:linear-gradient(-27.7deg,#fff 182px,#ff0 287px,red 444px,#000 601px)"></i><i style="left:210px;top:3877px;width:455px;height:661px;clip-path:path('M2 449l13 65 13 58 13 46 12 30 12 10 12-10 12-29 11-48 12-62 11-72 11-77 12-74 11-67 11-55 12-37 11-18 12 3 11 23 11 40 11 53 11 60 11 63 11 58 11 50 10 36 11 19 10 0 11-19 10-37 11-52 10-64 11-70 10-72 11-67 10-57 11-42 10-25 10-6 10 13 16 7 -10 39 -10 52 -11 60 -10 66 -11 66 -10 62 -10 54 -11 42 -10 29 -10 13 -11-4 -10-19 -11-34 -10-45 -11-53 -10-56 -11-57 -11-51 -11-41 -11-29 -11-13 -11 5 -12 22 -11 38 -11 52 -12 63 -11 69 -11 71 -12 68 -11 61 -12 49 -11 35 -12 19 -12 2 -12-16 -12-31 -13-45 -13-54 -12-59z');background:linear-gradient(-27.8deg,#fff 182px,#ff0 286px,red 443px,#000 600px)"></i><i style="left:217px;top:3873px;width:452px;height:665px;clip-path:path('M3 454l13 66 14 59 13 46 13 29 13 9 12-13 12-33 13-52 12-66 12-76 12-78 11-75 12-66 12-50 12-32 12-11 12 10 12 31 12 46 11 58 12 63 11 63 11 55 12 44 11 28 11 8 11-12 11-31 11-48 11-62 11-70 11-74 11-70 11-61 11-47 10-30 11-10 14 73 -11 56 -11 64 -11 67 -11 66 -10 61 -11 50 -11 38 -11 23 -11 5 -11-11 -10-27 -11-40 -11-50 -11-57 -12-58 -11-54 -11-46 -12-35 -12-18 -12-2 -11 17 -12 35 -12 49 -12 62 -12 69 -12 73 -12 70 -12 64 -12 53 -12 38 -13 22 -12 3 -13-14 -13-31 -13-44 -13-55 -14-60z');background:linear-gradient(-27.9deg,#fff 180px,#ff0 284px,red 442px,#000 599px)"></i><i style="left:224px;top:3881px;width:450px;height:658px;clip-path:path('M2 448l14 65 14 59 13 46 14 28 13 9 13-12 12-33 13-52 12-65 12-75 13-78 12-75 12-67 12-51 13-33 12-13 12 9 12 28 12 45 12 57 12 62 11 63 12 56 11 45 11 29 12 10 11-9 11-29 11-47 12-60 11-69 11-73 12-71 11-62 11-50 11-32 12 131 -11 64 -11 67 -11 65 -11 58 -11 48 -11 34 -11 19 -11 2 -11-14 -12-29 -11-42 -11-51 -11-57 -12-57 -11-52 -12-44 -12-32 -12-16 -12 1 -12 19 -12 36 -12 51 -13 63 -12 69 -12 72 -12 70 -13 63 -12 52 -13 37 -12 21 -13 3 -13-14 -13-31 -14-44 -14-54 -13-60z');background:linear-gradient(-27.9deg,#fff 180px,#ff0 284px,red 441px,#000 599px)"></i><i style="left:230px;top:3916px;width:448px;height:623px;clip-path:path('M2 414l14 65 15 58 13 46 14 28 13 9 14-12 13-32 12-51 13-65 13-74 12-78 13-76 13-66 12-53 13-35 12-14 13 7 12 27 12 43 13 55 11 62 12 62 12 56 12 46 11 31 12 12 11-7 12-26 11-44 12-59 11-68 12-72 11-71 12-64 11-52 11 174 -11 66 -11 63 -12 55 -11 44 -11 31 -12 15 -11-2 -11-17 -11-31 -12-44 -11-52 -12-56 -12-55 -11-51 -12-42 -13-29 -12-13 -12 4 -13 22 -12 37 -13 53 -12 63 -13 69 -12 72 -13 69 -13 62 -12 51 -13 36 -13 20 -13 3 -14-15 -13-31 -14-43 -14-54 -15-59z');background:linear-gradient(-27.9deg,#fff 178px,#ff0 283px,red 440px,#000 597px)"></i><i style="left:235px;top:3968px;width:447px;height:571px;clip-path:path('M3 363l14 65 15 57 14 46 14 28 14 9 13-12 14-31 13-50 13-65 13-74 13-78 13-75 13-67 13-54 13-36 13-16 12 5 13 25 13 41 12 54 12 61 12 61 12 57 12 47 12 32 12 15 11-5 12-24 12-41 12-56 11-67 12-72 12-71 12-65 10 195 -11 60 -12 53 -12 40 -11 27 -12 11 -11-6 -12-20 -11-34 -12-45 -12-52 -11-55 -12-55 -12-48 -13-39 -12-26 -13-11 -12 7 -13 24 -13 40 -13 53 -13 64 -13 69 -13 72 -12 68 -14 61 -13 49 -13 36 -13 19 -14 2 -14-15 -14-30 -14-44 -14-53 -15-58z');background:linear-gradient(-28.0deg,#fff 177px,#ff0 282px,red 439px,#000 596px)"></i><i style="left:240px;top:3964px;width:445px;height:574px;clip-path:path('M3 368l15 64 15 57 14 45 15 29 14 9 14-11 14-32 13-49 14-64 13-73 13-78 14-75 13-68 13-54 14-38 13-18 13 3 13 23 13 39 12 52 13 59 12 62 12 57 13 47 12 34 12 17 12-2 12-21 12-39 12-53 12-65 12-71 12-71 10 193 -12 48 -12 37 -12 22 -11 7 -12-9 -12-24 -12-36 -12-46 -12-52 -12-55 -12-53 -12-46 -13-36 -13-23 -12-7 -13 10 -14 26 -13 42 -13 54 -13 64 -13 70 -14 71 -13 67 -14 60 -13 48 -14 34 -13 19 -14 1 -14-15 -15-30 -14-43 -15-53 -15-57z');background:linear-gradient(-28.0deg,#fff 175px,#ff0 280px,red 437px,#000 594px)"></i><i style="left:245px;top:3961px;width:444px;height:577px;clip-path:path('M2 372l16 64 15 56 15 45 15 28 15 9 14-10 14-31 14-49 14-63 14-72 14-77 13-76 14-68 14-56 13-39 14-20 13 1 14 20 13 37 13 50 13 59 12 60 13 57 12 49 13 36 12 19 12 1 13-18 12-36 12-52 13-62 12-70 9 168 -12 32 -12 18 -12 2 -12-12 -12-27 -12-38 -12-47 -12-53 -13-54 -12-50 -13-44 -13-33 -13-20 -13-3 -13 12 -14 29 -13 44 -14 56 -14 64 -13 70 -14 70 -14 66 -13 58 -14 47 -14 34 -15 17 -14 1 -14-15 -15-31 -15-42 -16-52 -15-56z');background:linear-gradient(-28.1deg,#fff 174px,#ff0 279px,red 436px,#000 593px)"></i><i style="left:250px;top:3956px;width:443px;height:581px;clip-path:path('M2 378l17 65 16 57 16 45 16 27 15 7 15-15 15-35 15-54 15-67 15-77 14-79 15-76 15-67 14-52 14-32 15-12 14 9 14 29 14 45 14 56 13 62 13 60 13 54 14 42 13 25 12 7 13-13 14-33 13-49 13-62 9 123 -13 13 -12-3 -13-18 -13-32 -12-43 -13-51 -13-54 -14-54 -13-48 -13-39 -14-26 -14-10 -14 6 -14 24 -15 40 -14 53 -15 64 -14 71 -15 72 -14 69 -15 62 -15 51 -15 37 -15 20 -15 4 -16-14 -15-29 -16-43 -16-52 -17-57z');background:linear-gradient(-28.1deg,#fff 172px,#ff0 277px,red 434px,#000 591px)"></i><i style="left:254px;top:3952px;width:442px;height:584px;clip-path:path('M3 383l17 64 16 57 17 44 16 27 16 7 16-14 15-35 16-53 15-67 15-76 15-79 15-76 15-67 15-53 15-35 15-13 15 7 14 26 14 43 14 55 14 60 14 60 13 54 14 43 13 28 13 9 14-11 13-29 13-47 10 65 -13-7 -13-22 -13-35 -13-44 -14-51 -13-54 -13-51 -14-46 -14-36 -14-22 -15-7 -14 10 -15 26 -14 42 -15 55 -15 65 -15 70 -15 72 -15 68 -16 61 -15 49 -15 36 -16 20 -15 2 -16-14 -17-29 -16-42 -17-51 -17-56z');background:linear-gradient(-28.1deg,#fff 170px,#ff0 275px,red 432px,#000 589px)"></i><i style="left:258px;top:3947px;width:442px;height:588px;clip-path:path('M3 389l17 63 18 57 17 43 17 27 16 7 16-14 16-34 16-52 16-66 16-76 15-79 16-76 15-68 16-54 15-36 15-16 16 5 14 24 15 41 14 52 15 59 14 60 13 55 14 44 14 29 14 12 13-8 14-26 10-2 -14-25 -13-37 -13-46 -14-51 -14-52 -14-50 -14-42 -14-33 -15-18 -15-3 -14 13 -16 29 -15 44 -15 57 -16 65 -15 70 -16 71 -15 67 -16 59 -16 49 -15 34 -17 18 -16 3 -16-14 -17-29 -17-42 -17-50 -18-56z');background:linear-gradient(-28.2deg,#fff 169px,#ff0 274px,red 431px,#000 588px)"></i><i style="left:262px;top:3942px;width:442px;height:592px;clip-path:path('M3 395l18 62 18 56 18 43 17 27 17 7 17-14 17-33 16-51 16-65 17-75 16-79 16-76 16-69 16-55 16-38 15-19 16 3 15 21 15 38 15 51 15 58 14 59 14 54 14 46 15 31 14 14 14-4 10-68 -14-39 -14-47 -14-50 -14-51 -14-47 -15-39 -15-29 -15-14 -15 1 -15 16 -16 33 -16 46 -15 58 -16 65 -16 70 -16 70 -17 66 -16 58 -16 47 -17 33 -16 17 -17 2 -17-15 -17-28 -18-41 -18-49 -18-55z');background:linear-gradient(-28.2deg,#fff 168px,#ff0 272px,red 429px,#000 586px)"></i><i style="left:266px;top:3935px;width:442px;height:598px;clip-path:path('M3 403l19 61 18 55 19 43 18 26 17 7 18-12 17-33 17-50 17-65 17-74 16-78 17-77 17-69 16-57 17-39 16-21 16-1 16 19 15 35 15 49 16 56 14 58 15 55 14 46 15 34 14 17 11-126 -15-48 -14-50 -15-48 -14-44 -15-36 -16-24 -15-10 -16 5 -16 21 -16 35 -16 48 -16 59 -17 66 -16 70 -17 69 -17 64 -17 57 -16 45 -17 31 -18 17 -17 0 -18-14 -18-28 -18-40 -18-49 -19-53z');background:linear-gradient(-28.2deg,#fff 166px,#ff0 271px,red 428px,#000 585px)"></i><i style="left:270px;top:3927px;width:442px;height:604px;clip-path:path('M3 412l19 60 20 54 19 42 18 26 19 8 18-12 17-32 18-50 18-63 17-73 18-78 17-77 17-70 17-58 17-42 17-23 16-3 17 15 16 33 16 46 15 54 15 57 15 55 15 47 15 36 11-170 -15-48 -15-47 -15-40 -16-31 -16-20 -16-5 -16 9 -16 24 -17 39 -17 50 -17 60 -17 67 -17 69 -17 68 -18 62 -17 55 -17 43 -18 30 -18 16 -18 0 -18-15 -19-28 -19-39 -19-47 -20-52z');background:linear-gradient(-28.3deg,#fff 164px,#ff0 269px,red 426px,#000 583px)"></i><i style="left:274px;top:3920px;width:442px;height:609px;clip-path:path('M3 420l21 62 21 54 20 42 20 24 20 4 20-17 19-38 19-55 19-70 19-78 19-81 18-78 19-67 18-53 19-35 17-13 18 7 18 27 17 42 16 53 17 59 16 57 16 50 11-192 -17-45 -16-37 -17-26 -17-13 -17 2 -18 18 -18 34 -18 47 -18 58 -18 67 -19 71 -18 70 -19 67 -19 59 -19 48 -19 34 -19 19 -20 3 -19-12 -21-27 -20-39 -21-48 -21-52z');background:linear-gradient(-28.3deg,#fff 162px,#ff0 267px,red 424px,#000 581px)"></i><i style="left:278px;top:3910px;width:442px;height:617px;clip-path:path('M2 430l22 61 22 54 22 41 21 24 20 4 21-17 20-37 20-54 19-69 20-78 20-81 19-77 19-69 19-54 19-37 19-16 18 4 18 24 18 39 17 51 17 57 17 57 11-192 -17-33 -18-22 -18-7 -18 7 -18 22 -18 37 -19 50 -19 60 -19 67 -19 70 -20 70 -19 65 -20 57 -19 46 -20 33 -20 18 -21 2 -20-13 -21-26 -22-38 -21-46 -22-52z');background:linear-gradient(-28.3deg,#fff 160px,#ff0 265px,red 422px,#000 579px)"></i><i style="left:281px;top:3901px;width:443px;height:623px;clip-path:path('M3 440l23 60 23 53 22 40 22 24 22 4 21-17 21-36 21-54 20-67 21-77 20-81 20-78 21-69 19-56 20-39 19-19 20 1 18 20 19 36 18 48 17 55 10-168 -18-15 -18-2 -19 12 -19 27 -19 40 -20 53 -19 61 -20 67 -20 70 -20 68 -21 63 -20 55 -21 44 -20 31 -21 17 -22 1 -21-13 -22-25 -22-37 -23-45 -23-50z');background:linear-gradient(-28.4deg,#fff 157px,#ff0 262px,red 419px,#000 576px)"></i><i style="left:285px;top:3889px;width:442px;height:632px;clip-path:path('M2 453l25 59 24 51 23 40 23 23 22 4 23-16 22-35 21-53 22-67 21-76 22-80 21-78 21-70 20-58 21-42 20-22 20-2 20 16 19 33 18 45 10-123 -19 4 -20 18 -20 32 -20 44 -20 54 -21 63 -20 67 -21 68 -21 67 -21 61 -22 53 -21 42 -22 29 -22 15 -22 1 -22-13 -23-25 -24-36 -23-43 -25-48z');background:linear-gradient(-28.4deg,#fff 154px,#ff0 258px,red 415px,#000 573px)"></i><i style="left:288px;top:3886px;width:443px;height:632px;clip-path:path('M3 457l25 57 25 50 25 39 24 23 24 4 23-16 23-34 23-52 22-65 23-76 22-79 22-78 22-71 22-60 21-44 21-26 21-6 20 13 20 29 9-62 -20 23 -21 36 -21 47 -21 57 -21 63 -22 67 -22 68 -22 64 -22 59 -22 50 -23 40 -22 27 -23 14 -24 0 -23-13 -24-25 -25-34 -25-42 -25-45z');background:linear-gradient(-28.4deg,#fff 151px,#ff0 256px,red 413px,#000 570px)"></i><i style="left:292px;top:3896px;width:441px;height:619px;clip-path:path('M2 447l27 56 27 49 25 38 26 22 25 4 24-15 24-33 24-51 24-64 23-74 24-79 23-78 23-72 23-62 22-46 22-29 22-11 21 8 8 7 -22 41 -22 50 -22 59 -22 64 -23 66 -22 65 -23 63 -24 56 -23 47 -23 37 -24 25 -24 13 -25-1 -25-13 -25-24 -26-32 -26-40 -27-44z');background:linear-gradient(-28.4deg,#fff 147px,#ff0 252px,red 409px,#000 566px)"></i><i style="left:295px;top:3884px;width:441px;height:625px;clip-path:path('M3 460l30 57 29 50 29 36 28 19 28-1 28-22 26-42 27-59 26-73 27-81 26-83 25-80 26-70 25-55 24-37 24-16 8 75 -25 57 -24 64 -25 68 -26 69 -25 67 -26 61 -26 53 -26 42 -26 30 -27 17 -27 3 -28-10 -28-22 -29-32 -30-39 -29-44z');background:linear-gradient(-28.5deg,#fff 141px,#ff0 246px,red 403px,#000 560px)"></i><i style="left:299px;top:3893px;width:439px;height:611px;clip-path:path('M2 452l32 55 32 48 30 35 30 18 30-1 29-21 28-42 28-58 28-72 28-80 27-83 27-80 27-71 26-58 26-40 7 134 -26 65 -26 67 -27 68 -27 64 -27 58 -27 49 -28 40 -28 27 -28 15 -29 3 -30-10 -30-21 -30-30 -31-37 -32-40z');background:linear-gradient(-28.5deg,#fff 136px,#ff0 240px,red 397px,#000 554px)"></i><i style="left:302px;top:3928px;width:439px;height:570px;clip-path:path('M3 418l34 53 33 46 33 33 32 18 31-2 31-21 30-40 30-58 30-70 29-79 29-83 29-80 28-73 28-60 6 177 -27 66 -28 64 -29 61 -28 55 -29 46 -30 36 -30 25 -30 14 -31 1 -31-9 -32-19 -33-28 -33-34 -34-38z');background:linear-gradient(-28.5deg,#fff 130px,#ff0 235px,red 392px,#000 549px)"></i><i style="left:305px;top:3985px;width:438px;height:506px;clip-path:path('M3 361l37 51 35 44 36 31 34 17 33-2 33-21 33-39 32-56 31-69 31-78 31-82 31-81 30-74 5 198 -29 61 -30 57 -31 50 -30 42 -32 33 -31 23 -33 12 -33 1 -33-9 -34-18 -35-25 -36-30 -37-34z');background:linear-gradient(-28.6deg,#fff 123px,#ff0 227px,red 384px,#000 541px)"></i><i style="left:309px;top:4057px;width:436px;height:426px;clip-path:path('M2 290l40 48 39 41 37 30 37 15 36-3 36-20 34-38 35-55 33-67 34-77 32-81 33-80 6 194 -32 52 -33 46 -32 38 -34 29 -34 20 -34 10 -36 1 -36-8 -37-15 -37-22 -39-27 -40-29z');background:linear-gradient(-28.6deg,#fff 115px,#ff0 219px,red 376px,#000 533px)"></i><i style="left:312px;top:4136px;width:436px;height:337px;clip-path:path('M2 212l44 44 42 38 41 27 40 14 39-3 38-20 37-37 37-53 36-65 36-75 35-79 6 168 -34 40 -36 33 -36 25 -36 17 -37 9 -38 2 -39-7 -40-12 -41-18 -42-22 -43-25z');background:linear-gradient(-28.6deg,#fff 105px,#ff0 210px,red 367px,#000 524px)"></i><i style="left:315px;top:4212px;width:435px;height:250px;clip-path:path('M3 136l52 45 51 36 49 24 48 6 47-13 45-33 45-51 44-68 42-80 7 123 -42 30 -44 23 -44 14 -45 6 -47-1 -48-8 -49-13 -51-18 -52-20z');background:linear-gradient(-28.6deg,#fff 95px,#ff0 199px,red 356px,#000 513px)"></i><i style="left:318px;top:4275px;width:435px;height:171px;clip-path:path('M3 74l59 39 57 32 55 20 53 3 52-14 50-33 49-52 48-66 7 62 -48 20 -48 13 -50 8 -52 2 -53-3 -55-7 -57-10 -59-12z');background:linear-gradient(-28.7deg,#fff 80px,#ff0 185px,red 342px,#000 499px)"></i><i style="left:321px;top:4314px;width:435px;height:111px;clip-path:path('M3 36l67 32 65 26 62 15 60 0 58-17 56-34 54-50 8-6 -54 15 -56 10 -58 7 -60 4 -62 1 -65 0 -67-2z');background:linear-gradient(-28.7deg,#fff 61px,#ff0 166px,red 323px,#000 480px)"></i><i style="left:325px;top:4267px;width:435px;height:136px;clip-path:path('M2 83l78 24 75 18 71 8 69-5 65-19 64-35 8-72 -63 16 -66 15 -69 14 -71 13 -75 12 -78 13z');background:linear-gradient(-28.7deg,#fff 42px,#ff0 147px,red 304px,#000 460px)"></i><i style="left:328px;top:4201px;width:435px;height:171px;clip-path:path('M2 150l93 12 89 7 84-1 80-12 76-23 9-130 -77 27 -80 29 -84 29 -89 31 -92 33z');background:linear-gradient(-28.8deg,#fff 14px,#ff0 119px,red 276px,#000 433px)"></i><i style="left:331px;top:4125px;width:436px;height:231px;clip-path:path('M2 227l116-7 108-9 102-14 96-22 10-173 -97 52 -102 55 -109 58 -115 61z');background:linear-gradient(-28.8deg,#fff 0px,#ff0 105px,red 262px,#000 419px)"></i><i style="left:334px;top:4047px;width:437px;height:310px;clip-path:path('M3 305l224-54 198-53 9-195 -199 143 -224 161z');background:linear-gradient(-28.8deg,#fff 1px,#ff0 106px,red 263px,#000 420px)"></i><i style="left:337px;top:3978px;width:438px;height:379px;clip-path:path('M3 375l152-64 140-60 130-55 10-193 -131 111 -141 125 -152 138z');background:linear-gradient(-28.8deg,#fff 1px,#ff0 106px,red 263px,#000 420px)"></i><i style="left:340px;top:3926px;width:438px;height:432px;clip-path:path('M3 428l115-71 109-66 102-62 97-59 10-168 -98 86 -103 101 -109 115 -115 125z');background:linear-gradient(-28.9deg,#fff 2px,#ff0 106px,red 263px,#000 420px)"></i><i style="left:344px;top:3897px;width:437px;height:462px;clip-path:path('M2 457l93-73 88-71 85-66 81-63 77-60 9-122 -78 59 -81 78 -84 94 -89 108 -93 118z');background:linear-gradient(-28.9deg,#fff 2px,#ff0 107px,red 263px,#000 420px)"></i><i style="left:347px;top:3895px;width:437px;height:464px;clip-path:path('M2 460l78-76 74-73 72-69 70-64 66-60 65-56 8-59 -64 31 -67 51 -69 71 -72 89 -75 104 -78 113z');background:linear-gradient(-28.9deg,#fff 1px,#ff0 106px,red 263px,#000 420px)"></i><i style="left:350px;top:3911px;width:437px;height:449px;clip-path:path('M2 445l67-78 65-74 62-70 61-64 58-59 57-52 55-45 8 10 -55 3 -56 24 -59 45 -61 67 -62 85 -65 100 -66 110z');background:linear-gradient(-29.0deg,#fff 2px,#ff0 106px,red 263px,#000 420px)"></i><i style="left:353px;top:3893px;width:437px;height:468px;clip-path:path('M3 463l52-70 50-68 50-63 48-59 47-53 46-47 45-41 44-33 42-27 7 79 -42-19 -43-6 -45 11 -46 28 -47 47 -48 62 -50 78 -50 88 -52 95z');background:linear-gradient(-29.0deg,#fff 2px,#ff0 107px,red 264px,#000 421px)"></i><i style="left:356px;top:3902px;width:436px;height:459px;clip-path:path('M3 455l47-72 45-69 45-65 44-58 43-52 42-44 41-36 40-27 39-19 38-10 6 137 -37-35 -39-26 -39-11 -41 5 -42 23 -43 43 -44 60 -44 76 -46 87 -47 95z');background:linear-gradient(-29.0deg,#fff 1px,#ff0 106px,red 263px,#000 420px)"></i><i style="left:359px;top:3932px;width:435px;height:430px;clip-path:path('M3 426l43-74 41-70 41-65 40-58 40-50 38-41 38-31 37-21 36-12 35-2 35 7 5 179 -33-45 -35-40 -35-31 -37-17 -37 0 -39 20 -39 39 -40 59 -41 74 -42 87 -43 94z');background:linear-gradient(-29.0deg,#fff 1px,#ff0 106px,red 263px,#000 419px)"></i><i style="left:363px;top:3955px;width:433px;height:408px;clip-path:path('M2 403l39-74 39-71 37-66 37-57 37-48 35-38 35-26 35-16 33-4 33 5 32 15 31 21 6 199 -31-46 -32-48 -32-45 -33-35 -34-22 -34-4 -36 17 -36 36 -37 57 -38 73 -38 86 -39 93z');background:linear-gradient(-29.1deg,#fff 1px,#ff0 106px,red 262px,#000 419px)"></i><i style="left:366px;top:3974px;width:432px;height:390px;clip-path:path('M2 385l36-76 36-71 35-66 34-56 34-47 33-34 33-23 32-9 31 1 30 13 30 21 30 28 28 32 6 196 -28-40 -29-48 -30-51 -30-48 -31-40 -31-25 -32-8 -34 13 -33 35 -35 55 -35 72 -35 85 -36 93z');background:linear-gradient(-29.1deg,#fff 1px,#ff0 105px,red 262px,#000 419px)"></i><i style="left:369px;top:3988px;width:432px;height:376px;clip-path:path('M3 372l33-77 33-72 33-65 32-56 31-45 31-31 31-19 30-5 29 8 29 18 28 27 27 34 27 37 26 38 6 167 -26-26 -27-40 -27-49 -27-54 -29-51 -28-42 -30-29 -30-11 -31 10 -32 33 -32 53 -32 71 -33 85 -34 93z');background:linear-gradient(-29.1deg,#fff 0px,#ff0 105px,red 262px,#000 418px)"></i><i style="left:373px;top:4000px;width:430px;height:365px;clip-path:path('M2 361l29-73 29-69 29-62 28-54 28-44 27-31 27-19 27-7 26 5 26 17 25 25 24 32 24 37 24 38 23 37 23 34 7 121 -23-6 -23-22 -24-36 -24-46 -24-51 -25-52 -25-46 -26-37 -26-22 -27-5 -28 15 -27 34 -29 53 -28 69 -29 80 -29 86z');background:linear-gradient(-29.2deg,#fff 0px,#ff0 105px,red 261px,#000 418px)"></i><i style="left:376px;top:4010px;width:431px;height:357px;clip-path:path('M2 351l28-73 27-70 27-62 27-54 26-42 26-29 25-16 26-3 24 10 25 21 23 31 24 36 23 40 22 41 22 39 22 34 22 26 7 60 -22 15 -22-4 -22-20 -22-35 -23-47 -23-52 -24-54 -24-49 -24-40 -25-25 -25-8 -26 13 -27 33 -26 51 -27 69 -27 80 -28 86z');background:linear-gradient(-29.2deg,#fff 2px,#ff0 106px,red 263px,#000 420px)"></i><i style="left:379px;top:4019px;width:431px;height:363px;clip-path:path('M3 343l26-74 25-70 26-63 25-53 25-41 25-27 24-13 24 1 23 15 23 25 23 34 22 41 22 43 21 43 21 39 21 33 21 25 20 14 9-8 -21 35 -21 18 -21-1 -22-19 -21-34 -21-46 -22-54 -23-56 -23-52 -23-42 -23-28 -25-10 -24 10 -25 32 -25 51 -26 67 -25 80 -26 87z');background:linear-gradient(-29.2deg,#fff 14px,#ff0 119px,red 275px,#000 432px)"></i><i style="left:383px;top:4025px;width:431px;height:371px;clip-path:path('M2 338l25-75 24-71 24-63 24-52 24-40 23-25 23-10 23 5 22 18 22 29 22 38 21 44 21 45 20 45 20 39 20 32 20 22 20 11 19-3 10-75 -21 55 -20 39 -20 21 -20 1 -20-17 -21-34 -20-46 -21-55 -22-57 -21-54 -22-45 -23-31 -23-12 -23 9 -24 30 -24 50 -24 67 -24 80 -25 87z');background:linear-gradient(-29.2deg,#fff 26px,#ff0 131px,red 287px,#000 444px)"></i><i style="left:386px;top:4031px;width:432px;height:378px;clip-path:path('M3 332l23-75 23-71 23-63 23-52 22-38 23-23 22-8 21 8 22 22 21 33 20 41 20 46 20 48 20 45 19 39 19 31 19 19 19 7 19-7 18-21 11-133 -20 69 -19 57 -19 42 -20 23 -19 4 -19-15 -20-33 -20-47 -20-55 -20-59 -21-56 -21-47 -21-33 -22-14 -22 7 -23 29 -23 49 -23 67 -23 80 -23 86z');background:linear-gradient(-29.3deg,#fff 37px,#ff0 142px,red 298px,#000 455px)"></i><i style="left:390px;top:4037px;width:433px;height:383px;clip-path:path('M2 327l22-76 22-71 22-63 22-52 22-37 21-21 21-5 20 11 21 25 20 36 20 44 19 49 19 49 19 46 18 39 19 28 18 17 18 3 18-12 18-26 18-39 11-175 -19 77 -18 71 -19 60 -18 44 -19 26 -19 6 -18-14 -19-32 -19-46 -19-56 -20-60 -19-58 -20-49 -21-35 -21-16 -21 5 -22 27 -21 49 -22 67 -22 79 -22 87z');background:linear-gradient(-29.3deg,#fff 47px,#ff0 151px,red 308px,#000 465px)"></i><i style="left:393px;top:4041px;width:434px;height:390px;clip-path:path('M3 324l20-73 20-70 20-61 20-50 20-38 19-22 20-7 19 8 18 22 19 33 18 42 18 47 17 49 18 47 17 41 17 34 17 22 17 10 16-3 17-18 17-30 16-43 17-52 12-197 -17 73 -18 75 -17 70 -17 62 -17 48 -17 31 -18 13 -17-5 -17-24 -17-39 -18-50 -17-57 -18-59 -19-54 -18-44 -19-30 -19-11 -20 9 -19 29 -20 49 -20 65 -20 77 -21 83z');background:linear-gradient(-29.3deg,#fff 56px,#ff0 161px,red 317px,#000 474px)"></i><i style="left:397px;top:3985px;width:435px;height:455px;clip-path:path('M2 381l20-74 19-70 19-61 19-50 19-37 19-20 19-5 18 10 18 25 18 36 17 44 17 50 17 50 17 48 16 41 17 32 16 20 16 7 16-8 17-22 16-35 16-47 16-56 16-63 12-194 -16 66 -17 72 -16 76 -17 72 -17 64 -16 50 -17 34 -16 16 -17-4 -16-22 -17-38 -17-50 -17-58 -17-59 -18-56 -18-47 -18-31 -18-13 -19 7 -19 28 -19 49 -19 65 -19 76 -20 84z');background:linear-gradient(-29.4deg,#fff 64px,#ff0 169px,red 325px,#000 482px)"></i><i style="left:400px;top:3933px;width:436px;height:515px;clip-path:path('M3 434l19-75 18-70 19-62 18-49 18-36 18-19 18-3 18 13 17 28 17 38 17 47 16 51 17 52 16 48 16 40 16 31 15 17 16 4 16-12 15-26 16-39 16-51 15-59 16-65 16-67 11-167 -15 50 -16 63 -16 73 -16 76 -16 73 -16 66 -16 53 -16 37 -16 18 -16-2 -16-20 -16-38 -17-50 -16-58 -17-61 -16-58 -18-48 -17-33 -18-15 -18 6 -18 28 -18 47 -19 65 -18 77 -19 84z');background:linear-gradient(-29.4deg,#fff 71px,#ff0 175px,red 332px,#000 489px)"></i><i style="left:404px;top:3905px;width:436px;height:550px;clip-path:path('M3 462l18-75 18-70 17-62 18-49 17-34 18-18 17-1 17 15 17 30 16 41 16 49 16 53 16 52 15 48 16 40 15 29 15 15 16 1 15-16 15-30 15-43 15-54 16-63 15-66 15-67 15-64 12-120 -15 29 -15 48 -15 62 -16 72 -16 76 -15 75 -16 68 -15 55 -16 39 -15 20 -16 0 -15-19 -16-36 -15-51 -16-59 -16-62 -17-58 -16-50 -17-35 -17-16 -17 4 -18 27 -17 47 -18 65 -18 77 -18 84z');background:linear-gradient(-29.5deg,#fff 76px,#ff0 181px,red 337px,#000 494px)"></i><i style="left:408px;top:3905px;width:436px;height:558px;clip-path:path('M3 463l17-75 17-71 17-62 17-49 17-33 17-17 16 1 17 18 16 32 16 43 15 51 16 54 15 53 15 49 15 39 15 27 14 13 15-3 15-19 15-33 14-47 15-58 15-65 15-68 15-67 14-62 15-54 10-57 -13 6 -15 26 -14 44 -15 61 -15 71 -15 77 -15 75 -15 70 -16 57 -15 41 -15 23 -15 2 -15-18 -15-36 -15-50 -15-60 -15-62 -16-61 -16-51 -16-36 -17-18 -16 3 -17 26 -17 47 -17 64 -18 77 -17 84z');background:linear-gradient(-29.5deg,#fff 83px,#ff0 187px,red 344px,#000 500px)"></i><i style="left:412px;top:3915px;width:436px;height:556px;clip-path:path('M3 454l16-76 17-71 16-62 17-48 16-33 16-15 16 3 16 19 15 34 16 45 15 53 15 56 14 54 15 48 14 38 15 25 14 11 14-6 15-22 14-37 14-50 15-60 14-67 15-69 14-67 14-61 14-51 14-38 10 13 -13-18 -13 2 -14 23 -14 43 -15 58 -14 71 -15 76 -15 77 -14 71 -15 59 -15 43 -14 25 -15 3 -14-16 -15-36 -14-49 -15-60 -15-64 -15-61 -15-53 -16-38 -16-19 -16 3 -16 25 -17 46 -16 64 -17 77 -17 84z');background:linear-gradient(-29.5deg,#fff 89px,#ff0 193px,red 350px,#000 507px)"></i><i style="left:416px;top:3902px;width:435px;height:576px;clip-path:path('M3 468l15-74 16-69 15-61 15-48 16-34 15-16 15 0 14 17 15 31 14 42 15 51 14 55 13 54 14 49 14 42 13 30 14 16 13 1 13-14 14-30 13-43 14-54 13-62 14-67 14-67 13-64 13-56 14-45 12-32 13-17 10 82 -12-38 -12-21 -13-3 -13 16 -13 36 -14 52 -13 65 -14 73 -14 76 -14 72 -13 63 -14 50 -14 33 -13 15 -14-6 -14-24 -13-40 -14-53 -14-61 -14-62 -14-59 -14-48 -15-34 -15-15 -15 5 -15 27 -16 46 -15 64 -16 75 -15 81z');background:linear-gradient(-29.6deg,#fff 94px,#ff0 198px,red 355px,#000 512px)"></i><i style="left:420px;top:3909px;width:434px;height:575px;clip-path:path('M3 462l15-75 15-69 15-61 15-48 14-33 15-15 14 2 15 18 14 33 14 45 14 52 13 56 14 55 13 49 13 41 13 29 13 14 13-2 13-17 13-33 13-46 14-57 13-65 13-68 13-67 13-63 13-53 13-42 13-28 12-12 12 4 9 141 -11-52 -12-41 -12-25 -12-7 -12 13 -13 33 -13 50 -13 64 -14 73 -13 75 -14 74 -13 65 -13 52 -14 35 -13 16 -13-3 -13-23 -14-40 -13-53 -13-61 -14-63 -14-60 -14-50 -14-35 -14-17 -15 5 -15 26 -14 46 -15 63 -15 76 -15 81z');background:linear-gradient(-29.6deg,#fff 98px,#ff0 202px,red 359px,#000 515px)"></i><i style="left:425px;top:3916px;width:433px;height:573px;clip-path:path('M2 456l15-75 14-70 15-61 14-48 14-31 15-15 14 4 13 20 14 35 14 46 13 54 13 56 13 56 13 49 13 40 12 27 13 12 13-4 13-20 12-36 13-49 13-60 13-66 13-69 13-67 13-61 12-52 13-38 12-23 12-7 11 9 11 24 9 183 -10-59 -11-55 -11-44 -12-29 -12-10 -12 10 -12 30 -13 48 -13 62 -13 72 -13 76 -13 75 -13 66 -13 54 -13 38 -13 18 -13-3 -13-21 -12-39 -13-53 -13-61 -14-64 -13-61 -13-52 -14-36 -14-18 -14 4 -15 25 -14 46 -14 63 -15 75 -15 82z');background:linear-gradient(-29.7deg,#fff 101px,#ff0 205px,red 362px,#000 519px)"></i><i style="left:429px;top:3925px;width:432px;height:569px;clip-path:path('M3 448l14-76 14-70 14-61 14-47 14-31 13-14 14 5 14 22 13 37 13 47 13 56 13 58 12 55 13 50 12 39 12 25 13 10 12-6 13-24 12-38 13-52 12-62 13-67 12-70 13-67 12-60 13-48 12-35 11-19 12-2 11 14 11 29 11 40 9 203 -10-59 -11-61 -10-56 -11-47 -11-32 -12-14 -11 7 -13 27 -12 45 -12 62 -13 71 -13 77 -13 75 -13 68 -12 56 -13 39 -12 20 -13-1 -12-21 -13-38 -12-53 -13-61 -13-65 -13-62 -13-52 -13-38 -14-19 -13 2 -14 25 -14 46 -14 63 -14 75 -14 82z');background:linear-gradient(-29.7deg,#fff 104px,#ff0 208px,red 365px,#000 521px)"></i><i style="left:434px;top:3932px;width:431px;height:568px;clip-path:path('M2 442l14-76 14-71 13-60 14-47 13-31 14-12 13 6 13 23 13 38 13 50 12 56 13 59 12 56 12 49 12 38 12 25 12 8 12-10 12-25 12-42 13-54 12-64 12-69 13-70 12-66 12-58 12-46 12-31 11-15 11 2 11 19 11 33 10 44 10 52 10 199 -10-51 -10-59 -10-62 -10-59 -11-49 -11-35 -11-17 -11 4 -12 24 -12 44 -12 59 -13 71 -12 77 -13 76 -12 70 -13 57 -12 41 -12 21 -12 1 -12-19 -12-38 -13-53 -12-61 -12-66 -13-63 -13-53 -13-39 -13-20 -13 1 -13 24 -14 46 -14 63 -13 75 -14 83z');background:linear-gradient(-29.7deg,#fff 108px,#ff0 212px,red 369px,#000 525px)"></i><i style="left:439px;top:3938px;width:431px;height:568px;clip-path:path('M2 437l14-76 13-71 13-61 13-47 13-30 13-11 13 7 13 25 12 40 13 51 12 57 12 60 12 56 12 49 11 38 12 22 12 6 12-11 11-29 12-43 12-57 12-65 12-70 12-71 12-65 12-56 12-44 11-28 11-10 11 6 11 23 10 37 10 48 10 54 10 56 11 170 -10-35 -10-50 -10-59 -10-62 -10-60 -10-52 -10-38 -11-19 -11 0 -12 22 -11 41 -12 59 -13 70 -12 77 -12 77 -12 70 -12 59 -12 43 -12 23 -12 2 -12-18 -11-38 -12-52 -12-62 -12-66 -12-64 -13-55 -12-40 -13-21 -13 1 -13 24 -13 45 -14 62 -13 76 -13 83z');background:linear-gradient(-29.8deg,#fff 112px,#ff0 216px,red 373px,#000 529px)"></i><i style="left:444px;top:3945px;width:432px;height:567px;clip-path:path('M3 431l12-75 13-69 12-60 13-47 12-31 12-13 13 6 12 22 11 37 12 48 12 56 11 59 11 57 12 51 11 40 11 27 11 12 11-6 11-21 12-38 11-50 11-61 12-67 11-70 12-67 11-60 11-49 11-36 11-20 10-3 10 13 10 29 10 41 10 49 9 55 9 55 9 51 13 122 -10-14 -9-32 -9-46 -10-56 -9-61 -9-61 -10-54 -10-42 -10-26 -10-8 -11 13 -11 33 -11 50 -12 64 -11 72 -12 76 -12 73 -11 65 -11 51 -12 34 -11 15 -11-5 -11-25 -12-41 -11-55 -11-62 -12-65 -11-62 -12-51 -12-37 -12-18 -12 4 -13 25 -12 45 -13 62 -12 75 -13 80z');background:linear-gradient(-29.9deg,#fff 116px,#ff0 220px,red 377px,#000 533px)"></i><i style="left:450px;top:3952px;width:432px;height:564px;clip-path:path('M2 425l12-75 13-69 12-61 12-46 12-30 12-12 12 6 12 23 11 39 11 50 12 57 11 59 11 58 11 50 11 40 10 25 11 10 11-7 11-24 11-40 11-53 11-62 12-69 11-70 11-66 11-59 11-47 11-33 10-16 10 1 10 17 10 33 9 44 9 52 10 56 9 55 8 50 9 41 16 61 -10 8 -9-12 -10-29 -9-44 -9-56 -9-61 -9-61 -9-56 -10-45 -10-30 -10-10 -11 10 -10 30 -11 48 -12 63 -11 72 -11 77 -11 73 -12 66 -11 53 -11 36 -11 17 -11-4 -11-24 -11-40 -11-55 -11-63 -11-66 -11-62 -11-52 -12-38 -12-19 -12 3 -12 24 -12 45 -12 62 -12 75 -13 81z');background:linear-gradient(-29.9deg,#fff 118px,#ff0 223px,red 379px,#000 536px)"></i><i style="left:456px;top:3957px;width:434px;height:564px;clip-path:path('M2 421l12-75 12-70 12-60 12-46 11-30 12-11 12 7 11 25 11 40 11 51 11 58 11 60 11 58 10 50 11 39 11 24 10 8 11-9 11-26 10-42 11-55 11-64 11-70 11-70 11-66 11-57 10-45 11-30 10-12 10 4 10 22 9 36 9 47 9 54 9 57 9 55 9 48 8 39 9 26 19-8 -10 30 -10 11 -9-8 -9-27 -9-42 -9-55 -9-61 -8-63 -10-58 -9-47 -10-32 -9-13 -11 7 -10 28 -11 46 -11 62 -11 72 -11 76 -11 75 -11 67 -11 55 -11 38 -11 18 -10-3 -11-23 -10-40 -11-54 -11-64 -10-66 -11-63 -12-54 -11-38 -11-20 -12 2 -12 24 -11 45 -12 62 -12 74 -12 82z');background:linear-gradient(-30.0deg,#fff 122px,#ff0 226px,red 382px,#000 539px)"></i><i style="left:462px;top:3962px;width:438px;height:564px;clip-path:path('M3 418l11-76 12-70 11-60 12-46 11-30 12-10 11 8 11 26 11 41 11 53 11 59 10 61 11 57 10 50 10 39 11 23 10 6 10-11 11-28 10-44 11-57 11-65 10-71 11-70 11-65 10-56 11-43 10-27 10-9 10 8 9 25 9 39 9 49 9 56 8 58 9 54 9 48 8 36 9 22 9 7 23-73 -10 49 -10 33 -9 13 -9-5 -9-25 -9-42 -9-53 -8-62 -9-63 -9-59 -9-50 -9-34 -10-15 -10 5 -10 26 -10 45 -11 61 -11 72 -11 76 -11 76 -10 68 -11 55 -11 39 -10 20 -11-2 -10-22 -10-40 -11-54 -10-64 -11-67 -10-64 -11-54 -11-40 -11-20 -11 1 -12 24 -11 45 -12 62 -12 74 -11 82z');background:linear-gradient(-30.1deg,#fff 125px,#ff0 229px,red 386px,#000 542px)"></i><i style="left:469px;top:3968px;width:441px;height:563px;clip-path:path('M3 413l11-75 12-71 11-60 11-46 11-29 11-10 11 10 11 27 11 42 10 53 11 60 10 62 10 58 10 49 10 38 10 22 11 5 10-13 10-30 10-46 11-58 10-67 11-71 10-70 11-65 10-54 10-41 10-24 10-6 9 11 9 28 9 42 9 52 9 57 8 58 8 54 9 46 8 34 9 19 9 2 9-14 25-111 -9 60 -10 47 -9 30 -9 10 -9-9 -9-27 -8-43 -9-56 -8-62 -9-63 -8-58 -9-48 -9-32 -10-13 -10 7 -10 28 -10 47 -10 62 -11 72 -11 76 -10 75 -11 67 -10 54 -10 38 -11 17 -10-3 -10-23 -10-41 -10-55 -10-63 -10-67 -11-64 -10-54 -11-39 -11-20 -11 2 -11 24 -11 45 -12 61 -11 75 -11 81z');background:linear-gradient(-30.2deg,#fff 128px,#ff0 232px,red 389px,#000 545px)"></i><i style="left:479px;top:3974px;width:441px;height:559px;clip-path:path('M3 409l11-78 11-72 12-61 11-46 11-26 11-6 11 14 11 33 11 47 10 59 10 63 11 63 10 57 10 47 10 31 10 14 10-5 10-25 11-42 10-56 11-67 10-73 11-73 10-69 11-58 10-44 10-26 10-7 9 12 9 30 9 44 9 54 8 60 9 60 8 55 9 46 8 31 9 15 9-3 9-21 10-38 25-104 -10 66 -9 55 -10 39 -9 20 -9 1 -9-20 -8-37 -9-52 -8-61 -9-64 -8-62 -9-53 -9-39 -9-21 -10 0 -10 22 -10 42 -11 58 -10 71 -11 77 -10 77 -11 70 -10 59 -11 42 -10 22 -10 1 -10-20 -10-39 -10-53 -10-64 -11-68 -10-65 -10-56 -11-42 -11-22 -11 1 -11 22 -11 45 -12 62 -11 75 -11 82z');background:linear-gradient(-30.3deg,#fff 129px,#ff0 233px,red 389px,#000 546px)"></i><i style="left:489px;top:3980px;width:440px;height:558px;clip-path:path('M3 405l11-78 11-72 11-61 11-45 11-27 11-6 10 15 11 33 10 48 10 59 10 64 10 63 10 58 10 46 10 31 10 14 10-6 10-25 10-42 10-57 10-67 11-73 10-74 10-68 10-58 10-43 10-26 10-6 9 13 9 31 9 45 8 55 8 61 9 60 8 55 8 45 8 31 9 14 9-4 9-22 9-39 9-52 26-69 -10 67 -10 57 -9 42 -9 26 -9 6 -8-14 -9-31 -8-46 -8-57 -8-63 -8-62 -9-57 -9-45 -9-29 -9-10 -9 11 -10 31 -10 49 -11 63 -10 73 -10 76 -11 74 -10 65 -10 53 -10 35 -10 15 -10-5 -10-25 -10-42 -9-56 -10-64 -10-66 -10-63 -10-53 -11-39 -10-19 -11 3 -11 24 -11 45 -11 62 -11 74 -11 80z');background:linear-gradient(-30.4deg,#fff 131px,#ff0 235px,red 392px,#000 548px)"></i><i style="left:499px;top:3984px;width:439px;height:556px;clip-path:path('M3 404l11-80 11-73 11-62 11-45 11-25 11-4 10 18 11 36 10 51 10 61 10 66 10 63 10 57 10 44 9 27 10 9 10-11 10-31 10-48 11-62 10-72 10-75 11-73 10-66 10-53 10-36 10-17 9 3 9 23 9 39 9 53 8 60 8 62 8 59 9 50 8 38 9 21 8 2 9-16 9-35 10-50 9-61 25-20 -10 66 -9 55 -10 41 -9 23 -8 5 -9-15 -8-33 -8-47 -9-58 -8-63 -8-62 -8-56 -9-43 -9-28 -9-9 -10 12 -10 33 -10 50 -10 64 -10 73 -11 76 -10 73 -10 65 -11 52 -10 34 -10 14 -10-6 -9-25 -10-43 -10-56 -9-64 -10-66 -10-63 -10-53 -11-37 -10-19 -11 3 -11 24 -11 45 -11 62 -11 74 -11 80z');background:linear-gradient(-30.4deg,#fff 131px,#ff0 235px,red 391px,#000 548px)"></i><i style="left:509px;top:3988px;width:438px;height:551px;clip-path:path('M3 402l11-82 12-76 11-62 11-44 11-23 11 0 11 23 11 42 10 56 10 66 10 68 11 64 10 53 10 38 10 20 10-2 10-24 10-43 11-59 11-72 10-77 11-77 10-70 11-58 10-40 10-20 10 1 9 23 9 40 9 55 8 62 9 65 8 60 8 50 9 36 9 18 9-3 9-22 9-41 10-57 10-67 24 32 -10 63 -10 50 -9 34 -9 15 -9-6 -9-24 -8-41 -8-55 -9-61 -8-64 -8-60 -9-50 -9-35 -9-17 -10 5 -10 26 -10 45 -11 60 -10 72 -11 77 -11 76 -10 69 -11 56 -10 39 -10 20 -10-2 -10-21 -10-41 -10-54 -10-64 -10-68 -10-64 -10-55 -11-40 -11-21 -11 1 -11 24 -11 45 -11 62 -12 75 -11 81z');background:linear-gradient(-30.5deg,#fff 128px,#ff0 232px,red 389px,#000 545px)"></i><i style="left:519px;top:3988px;width:437px;height:553px;clip-path:path('M3 404l11-81 11-74 11-62 11-44 11-25 11-2 10 19 11 38 10 53 10 63 10 67 9 64 10 56 10 42 10 25 9 5 10-15 11-35 10-53 10-65 10-74 11-76 10-73 11-63 10-50 9-31 10-10 9 9 9 30 9 45 8 56 9 63 8 62 8 57 8 47 8 31 9 13 9-6 9-25 9-42 10-57 9-67 23 81 -9 52 -10 38 -8 21 -9 3 -9-15 -8-32 -8-46 -8-55 -8-61 -8-61 -8-55 -9-44 -8-30 -10-12 -9 7 -10 27 -10 44 -10 58 -10 69 -11 74 -10 73 -10 67 -10 57 -11 42 -10 24 -9 6 -10-14 -10-32 -9-47 -10-57 -10-64 -9-64 -10-59 -10-48 -11-33 -10-14 -11 6 -11 26 -11 46 -11 61 -11 73 -11 78z');background:linear-gradient(-30.6deg,#fff 128px,#ff0 232px,red 388px,#000 545px)"></i><i style="left:529px;top:3986px;width:435px;height:554px;clip-path:path('M3 408l11-82 12-75 11-63 11-44 11-23 11 0 11 22 11 41 10 56 10 65 10 68 10 64 10 54 10 39 10 20 10-1 10-22 11-42 10-58 11-71 10-77 11-77 11-71 10-58 10-43 10-22 10 0 9 20 9 39 9 53 8 62 9 64 8 61 8 52 9 38 8 20 9 0 9-20 10-38 9-55 10-66 22 116 -9 36 -9 20 -9 1 -8-16 -9-33 -8-46 -8-56 -8-60 -8-60 -9-54 -8-44 -9-28 -9-11 -10 8 -10 28 -10 45 -11 59 -10 69 -11 74 -10 73 -11 67 -10 56 -11 41 -10 24 -10 5 -10-15 -10-32 -9-46 -10-58 -10-63 -10-64 -10-58 -10-48 -11-33 -11-13 -11 6 -11 27 -11 46 -11 61 -12 73 -11 79z');background:linear-gradient(-30.7deg,#fff 125px,#ff0 229px,red 385px,#000 541px)"></i><i style="left:539px;top:3984px;width:433px;height:556px;clip-path:path('M3 412l11-81 12-75 11-62 11-45 11-24 11-2 11 20 11 39 10 54 10 64 10 66 10 64 10 56 10 41 10 23 10 4 10-17 10-38 11-54 10-67 11-75 10-76 11-73 11-62 10-48 10-28 9-9 10 13 9 32 9 47 8 58 8 63 9 63 8 55 8 44 9 29 8 9 9-9 10-29 9-46 10-60 21 117 -9 15 -9-1 -8-19 -8-33 -8-45 -8-55 -8-58 -9-58 -8-53 -8-42 -9-29 -9-13 -10 6 -10 23 -10 41 -10 54 -11 65 -10 71 -11 72 -10 68 -11 59 -10 47 -10 31 -10 13 -10-4 -10-22 -10-37 -9-50 -10-59 -10-62 -10-60 -10-54 -10-43 -11-28 -11-9 -11 10 -11 28 -11 47 -11 61 -12 71 -11 77z');background:linear-gradient(-30.8deg,#fff 123px,#ff0 227px,red 383px,#000 539px)"></i><i style="left:550px;top:3980px;width:428px;height:560px;clip-path:path('M3 419l11-82 12-75 12-62 11-45 11-25 12-1 11 20 10 39 11 54 10 63 10 67 11 64 10 55 10 41 10 23 10 3 10-19 11-37 11-55 10-68 11-75 11-77 11-73 11-62 10-47 10-28 10-7 10 14 9 32 9 48 8 58 9 64 8 62 9 55 8 43 9 27 9 8 9-11 9-30 10-47 19 75 -9-6 -8-22 -9-36 -8-48 -8-55 -8-58 -9-56 -8-51 -9-39 -9-26 -9-9 -10 10 -10 26 -10 43 -11 57 -11 65 -10 71 -11 72 -11 66 -11 58 -10 44 -10 29 -11 12 -10-6 -10-24 -10-38 -10-50 -10-58 -10-62 -10-60 -10-53 -11-41 -10-26 -11-9 -12 11 -11 29 -11 47 -12 61 -12 71 -11 76z');background:linear-gradient(-30.9deg,#fff 121px,#ff0 225px,red 381px,#000 537px)"></i><i style="left:560px;top:3977px;width:425px;height:562px;clip-path:path('M2 424l12-82 12-75 12-63 12-45 12-24 11-3 11 19 11 39 11 53 11 63 10 66 10 64 11 55 10 41 10 24 11 4 10-17 11-37 11-54 11-66 11-75 11-77 11-73 11-63 11-48 10-30 10-10 10 12 9 30 9 46 9 57 9 63 8 62 9 55 8 45 9 29 9 11 10-9 9-28 17 11 -8-26 -9-39 -8-49 -8-56 -9-57 -8-55 -9-47 -9-36 -9-22 -10-5 -10 13 -10 30 -11 45 -10 58 -11 67 -11 71 -11 70 -11 65 -11 56 -11 42 -10 27 -11 10 -10-8 -10-25 -10-39 -10-51 -11-58 -10-61 -10-58 -11-52 -11-40 -11-25 -11-8 -11 12 -12 30 -12 47 -12 61 -12 71 -12 76z');background:linear-gradient(-31.0deg,#fff 119px,#ff0 223px,red 379px,#000 535px)"></i><i style="left:568px;top:3974px;width:423px;height:564px;clip-path:path('M3 428l12-81 12-75 12-63 12-45 12-25 12-4 12 19 11 37 11 53 11 62 10 66 11 63 10 55 11 42 10 25 11 5 11-16 11-35 11-53 11-66 11-74 12-76 11-74 11-64 11-50 11-32 10-12 10 9 10 28 9 44 9 55 9 62 8 61 9 57 9 46 9 31 9 14 9-6 17-56 -9-42 -8-51 -8-55 -9-57 -9-52 -9-45 -9-32 -9-18 -10-1 -11 17 -10 33 -11 48 -11 60 -11 67 -11 71 -12 69 -11 63 -11 54 -11 40 -10 25 -11 7 -11-10 -10-26 -10-40 -11-51 -10-58 -11-60 -10-58 -11-50 -11-39 -11-23 -12-7 -12 13 -12 30 -12 48 -12 60 -12 71 -12 76z');background:linear-gradient(-31.0deg,#fff 117px,#ff0 221px,red 377px,#000 533px)"></i><i style="left:575px;top:3967px;width:423px;height:568px;clip-path:path('M3 437l13-84 13-76 13-64 12-45 13-24 12 0 12 21 12 41 11 56 12 65 11 67 11 63 11 53 11 37 11 19 11-3 12-24 11-44 12-60 12-71 12-78 12-78 12-71 11-58 12-42 11-21 10 1 10 21 10 39 10 53 9 62 9 63 9 59 9 50 9 35 10 18 16-118 -8-53 -9-58 -9-56 -9-51 -10-40 -10-27 -10-11 -10 7 -11 25 -11 42 -12 55 -12 66 -11 71 -12 72 -12 68 -12 59 -11 46 -11 31 -12 14 -11-4 -11-21 -11-37 -10-49 -11-58 -11-61 -11-59 -12-53 -11-41 -12-27 -12-8 -13 11 -12 29 -13 48 -13 62 -13 72 -13 77z');background:linear-gradient(-31.1deg,#fff 114px,#ff0 218px,red 374px,#000 530px)"></i><i style="left:582px;top:3962px;width:422px;height:570px;clip-path:path('M2 443l14-83 13-77 13-63 13-46 13-24 13-2 12 21 12 40 12 55 11 64 12 66 11 63 11 53 12 38 11 20 12-2 11-22 12-42 12-59 12-71 13-77 12-78 12-71 12-60 11-44 12-23 10-2 11 18 10 37 10 51 9 60 9 62 10 60 9 51 9 37 17-165 -9-56 -9-55 -10-48 -10-37 -10-23 -10-6 -11 11 -11 29 -12 44 -11 58 -12 66 -12 71 -12 71 -12 67 -12 57 -12 44 -12 29 -11 11 -11-6 -12-23 -11-38 -11-49 -11-57 -11-61 -12-58 -11-51 -12-40 -12-25 -13-8 -13 12 -12 31 -13 47 -14 62 -13 72 -13 77z');background:linear-gradient(-31.1deg,#fff 111px,#ff0 215px,red 371px,#000 527px)"></i><i style="left:588px;top:3958px;width:423px;height:571px;clip-path:path('M2 449l14-84 14-77 13-63 14-46 13-25 13-2 12 19 13 39 12 54 12 63 12 66 11 63 12 53 11 39 12 20 12 0 12-21 12-40 12-58 13-69 12-77 13-77 12-73 12-61 12-45 12-27 11-5 11 16 10 34 10 48 9 58 10 63 9 60 10 52 16-193 -9-52 -10-45 -10-33 -10-19 -11-1 -11 15 -12 32 -12 48 -12 59 -12 67 -12 71 -12 70 -13 65 -12 55 -12 41 -12 26 -11 9 -12-8 -11-24 -12-39 -11-50 -12-57 -11-59 -12-57 -12-50 -12-39 -13-23 -13-6 -13 13 -13 31 -13 48 -14 62 -13 72 -14 76z');background:linear-gradient(-31.2deg,#fff 109px,#ff0 213px,red 368px,#000 524px)"></i><i style="left:593px;top:3952px;width:424px;height:574px;clip-path:path('M3 456l14-84 14-76 14-64 14-46 13-26 14-3 13 19 12 37 13 53 12 62 12 66 12 62 12 53 12 40 12 21 12 1 12-19 12-39 13-55 13-69 12-75 13-78 13-73 13-63 12-47 12-29 11-8 11 12 11 31 10 46 10 56 10 62 9 60 16-198 -10-41 -10-28 -11-14 -11 3 -11 20 -12 36 -12 50 -13 61 -12 68 -13 70 -12 69 -13 63 -12 52 -13 39 -12 23 -12 7 -12-10 -11-26 -12-40 -12-50 -12-57 -11-58 -13-56 -12-48 -12-37 -13-22 -13-5 -14 14 -13 32 -14 48 -14 62 -14 72 -14 76z');background:linear-gradient(-31.2deg,#fff 106px,#ff0 210px,red 366px,#000 521px)"></i><i style="left:598px;top:3944px;width:424px;height:579px;clip-path:path('M3 465l15-83 14-77 14-64 15-47 14-26 13-4 14 18 13 36 13 52 12 61 13 64 12 62 12 54 12 40 12 23 13 2 12-17 13-37 13-54 13-67 13-75 13-77 13-74 13-64 13-49 12-32 12-11 11 8 11 28 10 43 11 55 10 60 15-178 -11-24 -11-8 -12 7 -11 25 -13 39 -12 53 -13 63 -13 68 -12 70 -13 67 -13 61 -13 49 -12 36 -13 21 -12 4 -12-13 -12-27 -12-41 -12-50 -12-56 -12-58 -13-54 -13-47 -12-35 -14-20 -13-3 -14 15 -14 32 -14 49 -15 62 -14 71 -15 76z');background:linear-gradient(-31.3deg,#fff 103px,#ff0 207px,red 363px,#000 518px)"></i><i style="left:603px;top:3938px;width:424px;height:581px;clip-path:path('M3 472l15-83 15-77 15-64 14-47 15-27 14-5 14 16 13 36 13 50 13 60 13 64 13 61 12 54 13 41 12 23 13 5 13-16 13-35 13-52 13-65 14-74 13-77 14-74 13-65 13-52 12-35 13-15 11 6 11 24 11 40 11 52 14-136 -12-3 -12 13 -12 29 -12 43 -13 55 -13 64 -13 69 -14 69 -13 65 -13 58 -13 47 -13 33 -12 17 -13 2 -12-15 -13-29 -12-41 -12-51 -13-55 -12-57 -13-53 -13-45 -14-33 -13-18 -14-2 -14 16 -15 34 -14 49 -15 62 -15 71 -15 75z');background:linear-gradient(-31.3deg,#fff 99px,#ff0 203px,red 359px,#000 514px)"></i><i style="left:608px;top:3933px;width:423px;height:582px;clip-path:path('M3 478l16-86 16-78 16-66 15-46 15-26 15-2 15 20 14 40 14 54 14 63 14 65 13 61 13 51 14 35 13 16 14-4 13-26 14-45 14-61 15-73 14-78 14-78 14-72 14-58 13-42 13-22 13 0 12 20 12 38 12-76 -13 19 -13 35 -13 50 -14 60 -14 68 -14 71 -14 70 -14 63 -13 54 -14 41 -14 25 -13 8 -13-8 -13-24 -13-38 -14-49 -13-55 -13-58 -14-55 -14-48 -14-36 -14-21 -15-4 -15 15 -15 32 -16 50 -16 63 -16 72 -16 78z');background:linear-gradient(-31.4deg,#fff 95px,#ff0 199px,red 354px,#000 510px)"></i><i style="left:613px;top:3942px;width:422px;height:567px;clip-path:path('M2 470l17-86 16-78 17-66 16-47 16-26 15-3 15 19 15 38 15 53 14 61 14 65 13 61 14 50 14 36 14 18 14-3 14-24 14-43 15-60 14-71 15-78 14-78 15-72 14-60 14-45 13-24 13-4 13 16 10-6 -13 39 -14 53 -14 62 -14 69 -15 70 -14 68 -14 61 -14 51 -14 37 -14 22 -14 6 -13-11 -14-26 -13-39 -14-49 -14-55 -13-56 -14-54 -15-45 -14-34 -15-20 -16-2 -15 16 -16 33 -16 50 -16 63 -17 73 -16 77z');background:linear-gradient(-31.4deg,#fff 89px,#ff0 193px,red 349px,#000 504px)"></i><i style="left:617px;top:3934px;width:421px;height:569px;clip-path:path('M3 479l17-86 17-78 17-66 17-48 16-27 16-4 16 18 15 36 15 52 15 60 14 64 14 60 14 51 14 37 15 19 14-2 15-21 14-42 15-57 15-70 15-77 15-78 15-73 15-62 14-47 14-28 13-7 9 64 -14 55 -14 64 -15 69 -15 69 -15 66 -14 58 -15 48 -14 34 -14 18 -14 3 -14-14 -14-27 -14-40 -14-49 -14-54 -14-55 -15-52 -15-43 -15-32 -15-18 -16 0 -16 17 -17 34 -16 51 -17 63 -17 72 -17 77z');background:linear-gradient(-31.5deg,#fff 83px,#ff0 187px,red 342px,#000 498px)"></i><i style="left:622px;top:3937px;width:418px;height:560px;clip-path:path('M2 477l18-86 18-78 17-66 17-49 17-27 17-6 16 16 16 35 16 50 15 60 15 62 14 60 15 51 15 38 14 20 15 0 15-19 15-39 15-56 16-68 15-76 16-78 15-73 15-64 15-50 14-31 8 127 -15 65 -15 69 -15 68 -15 63 -15 55 -15 44 -15 30 -15 15 -14 0 -14-16 -15-30 -14-40 -15-49 -14-54 -15-53 -15-50 -15-41 -16-30 -16-15 -16 1 -17 19 -17 36 -17 50 -18 63 -17 72 -18 77z');background:linear-gradient(-31.5deg,#fff 76px,#ff0 180px,red 336px,#000 491px)"></i><i style="left:626px;top:3968px;width:416px;height:523px;clip-path:path('M2 447l19-86 18-78 18-66 18-49 18-29 17-7 17 15 17 33 16 48 15 58 16 62 15 59 15 51 15 39 15 21 15 3 16-18 15-37 16-53 16-66 16-75 16-77 16-74 15-66 16-52 6 175 -16 67 -15 66 -16 61 -15 51 -15 40 -16 26 -15 12 -14-4 -15-19 -15-31 -15-41 -15-49 -15-52 -15-52 -16-47 -16-39 -16-27 -16-13 -17 3 -18 20 -17 37 -18 51 -19 63 -18 71 -18 77z');background:linear-gradient(-31.5deg,#fff 70px,#ff0 173px,red 329px,#000 484px)"></i><i style="left:630px;top:4024px;width:414px;height:460px;clip-path:path('M2 392l20-86 19-78 19-67 18-49 19-30 18-8 17 13 17 31 17 47 16 56 16 61 16 58 16 52 15 39 16 22 15 5 16-15 16-34 17-51 16-64 16-73 17-77 16-75 16-67 6 201 -16 63 -16 57 -16 47 -16 36 -15 22 -16 7 -15-7 -15-21 -15-32 -16-42 -15-49 -16-51 -16-50 -16-45 -16-36 -17-24 -18-11 -17 6 -18 22 -19 37 -18 51 -19 63 -19 72 -19 76z');background:linear-gradient(-31.6deg,#fff 62px,#ff0 166px,red 321px,#000 477px)"></i><i style="left:634px;top:4086px;width:412px;height:391px;clip-path:path('M2 330l21-88 21-82 21-68 20-49 20-28 19-4 19 17 19 37 17 51 18 60 17 62 17 57 17 48 17 32 17 13 17-7 17-28 18-47 17-63 18-73 18-79 18-79 5 202 -18 56 -16 44 -17 30 -17 16 -16 0 -17-14 -16-28 -17-39 -17-47 -16-51 -18-51 -17-47 -18-40 -18-27 -19-13 -19 3 -19 20 -20 37 -21 52 -20 65 -21 74 -21 79z');background:linear-gradient(-31.6deg,#fff 55px,#ff0 158px,red 314px,#000 470px)"></i><i style="left:638px;top:4082px;width:410px;height:385px;clip-path:path('M2 335l22-89 22-81 21-69 22-50 20-28 21-6 19 15 20 35 18 49 19 59 18 60 17 57 18 48 17 33 18 14 18-5 17-25 19-45 18-60 18-72 18-78 6 179 -18 40 -17 26 -17 11 -17-3 -17-17 -17-30 -18-40 -17-46 -17-50 -18-49 -19-45 -18-36 -19-25 -20-10 -20 6 -20 22 -21 38 -21 53 -21 65 -22 73 -22 78z');background:linear-gradient(-31.7deg,#fff 45px,#ff0 148px,red 304px,#000 460px)"></i><i style="left:642px;top:4077px;width:409px;height:379px;clip-path:path('M2 341l23-89 23-82 22-68 23-51 21-30 21-8 21 14 20 33 20 47 19 56 19 60 18 56 18 48 19 33 18 17 18-3 19-23 19-42 18-58 19-70 6 136 -18 21 -17 7 -18-7 -18-20 -17-32 -18-40 -18-46 -19-48 -18-47 -19-41 -20-33 -20-21 -20-8 -21 9 -21 24 -22 39 -22 54 -23 64 -22 73 -23 78z');background:linear-gradient(-31.7deg,#fff 35px,#ff0 138px,red 294px,#000 449px)"></i><i style="left:645px;top:4072px;width:409px;height:372px;clip-path:path('M3 347l24-89 24-82 24-69 23-52 23-31 22-10 21 12 22 30 20 45 20 55 20 58 19 55 19 48 19 34 19 18 19-1 19-20 20-39 19-55 7 77 -18 2 -18-11 -19-23 -18-33 -19-40 -18-45 -20-46 -19-44 -20-38 -21-29 -20-18 -22-4 -22 11 -22 26 -23 41 -23 54 -24 65 -23 73 -25 77z');background:linear-gradient(-31.7deg,#fff 24px,#ff0 127px,red 283px,#000 438px)"></i><i style="left:649px;top:4067px;width:409px;height:364px;clip-path:path('M3 353l25-89 25-82 25-70 25-53 23-32 24-12 23 9 22 28 21 43 21 52 21 56 20 55 20 47 20 35 20 20 20 2 20-18 20-35 8 8 -19-15 -19-25 -19-34 -20-40 -19-43 -20-44 -21-40 -21-35 -21-25 -22-13 -23-1 -23 14 -23 28 -24 43 -25 54 -25 65 -25 72 -25 77z');background:linear-gradient(-31.8deg,#fff 12px,#ff0 116px,red 271px,#000 427px)"></i><i style="left:653px;top:4058px;width:409px;height:367px;clip-path:path('M2 362l27-89 27-82 26-70 26-54 25-34 25-13 24 6 23 25 23 40 22 49 21 55 22 53 21 47 20 36 21 22 21 4 21-14 9-61 -19-27 -21-35 -20-39 -21-42 -21-40 -21-37 -22-30 -23-20 -23-10 -24 4 -24 17 -25 30 -25 44 -26 55 -26 65 -27 72 -26 75z');background:linear-gradient(-31.8deg,#fff 7px,#ff0 111px,red 266px,#000 422px)"></i><i style="left:656px;top:4049px;width:411px;height:377px;clip-path:path('M3 372l30-95 30-86 30-73 29-54 28-32 28-9 26 12 26 32 25 46 25 54 24 55 24 52 23 41 23 26 23 8 11-122 -22-37 -23-41 -24-41 -24-38 -24-32 -25-23 -26-12 -26 1 -27 16 -28 30 -28 45 -29 57 -30 67 -30 75 -30 80z');background:linear-gradient(-31.8deg,#fff 8px,#ff0 112px,red 267px,#000 423px)"></i><i style="left:660px;top:4037px;width:412px;height:389px;clip-path:path('M3 385l32-95 32-88 32-73 30-56 30-34 30-11 28 9 28 29 27 42 26 52 25 53 25 51 25 41 24 27 12-170 -24-38 -25-37 -25-34 -26-26 -27-18 -27-7 -29 6 -28 20 -30 33 -30 47 -31 58 -31 67 -32 75 -32 79z');background:linear-gradient(-31.9deg,#fff 9px,#ff0 112px,red 268px,#000 423px)"></i><i style="left:664px;top:4024px;width:413px;height:403px;clip-path:path('M2 399l35-96 34-88 34-75 33-56 32-37 32-14 30 6 29 25 29 39 28 48 27 51 26 49 26 41 13-197 -26-33 -27-27 -28-21 -29-11 -29-1 -30 11 -31 24 -31 36 -32 49 -33 59 -34 67 -34 74 -35 79z');background:linear-gradient(-31.9deg,#fff 10px,#ff0 113px,red 269px,#000 424px)"></i><i style="left:667px;top:4004px;width:414px;height:424px;clip-path:path('M3 419l37-96 37-88 37-76 35-59 35-39 33-17 33 2 32 21 30 35 30 44 29 49 28 47 13-201 -29-21 -30-13 -30-5 -32 6 -32 17 -33 28 -34 40 -35 50 -35 60 -36 68 -37 73 -37 77z');background:linear-gradient(-31.9deg,#fff 11px,#ff0 114px,red 270px,#000 425px)"></i><i style="left:671px;top:3980px;width:415px;height:449px;clip-path:path('M2 444l41-97 40-89 40-77 38-61 38-41 36-22 35-2 34 16 33 31 32 40 31 44 12-179 -32-5 -33 3 -33 13 -35 23 -36 33 -36 43 -38 52 -38 61 -39 67 -40 73 -41 76z');background:linear-gradient(-32.0deg,#fff 12px,#ff0 115px,red 271px,#000 426px)"></i><i style="left:674px;top:3950px;width:416px;height:479px;clip-path:path('M3 475l45-98 44-90 43-78 41-63 41-45 40-26 38-7 37 11 35 24 35 35 11-136 -35 13 -37 20 -38 29 -38 38 -40 46 -41 54 -41 61 -43 67 -44 72 -45 75z');background:linear-gradient(-32.0deg,#fff 12px,#ff0 115px,red 271px,#000 426px)"></i><i style="left:678px;top:3943px;width:415px;height:487px;clip-path:path('M2 483l56-111 54-100 53-86 51-66 50-43 47-20 46 0 44 19 10-74 -45 33 -47 41 -48 50 -49 59 -51 66 -53 73 -54 78 -55 83z');background:linear-gradient(-32.0deg,#fff 12px,#ff0 116px,red 271px,#000 426px)"></i><i style="left:681px;top:3964px;width:415px;height:467px;clip-path:path('M2 462l64-113 62-104 59-88 58-70 55-48 53-27 51-6 8-4 -51 48 -54 55 -55 61 -57 67 -59 73 -61 77 -64 81z');background:linear-gradient(-32.1deg,#fff 12px,#ff0 116px,red 271px,#000 426px)"></i><i style="left:684px;top:3944px;width:414px;height:488px;clip-path:path('M3 483l74-117 71-108 68-92 66-75 63-55 60-34 6 68 -60 58 -63 63 -65 67 -68 72 -70 76 -73 79z');background:linear-gradient(-32.1deg,#fff 12px,#ff0 116px,red 271px,#000 426px)"></i><i style="left:688px;top:3948px;width:412px;height:484px;clip-path:path('M2 480l88-123 84-112 81-99 76-81 73-63 5 131 -72 62 -76 66 -79 70 -84 73 -87 78z');background:linear-gradient(-32.1deg,#fff 11px,#ff0 114px,red 270px,#000 425px)"></i><i style="left:691px;top:3980px;width:410px;height:453px;clip-path:path('M3 449l109-131 103-120 97-106 91-89 4 177 -90 62 -96 65 -101 70 -109 73z');background:linear-gradient(-32.2deg,#fff 10px,#ff0 114px,red 269px,#000 424px)"></i><i style="left:695px;top:4036px;width:407px;height:398px;clip-path:path('M2 393l144-144 132-130 123-116 4 202 -121 59 -131 63 -142 68z');background:linear-gradient(-32.2deg,#fff 9px,#ff0 113px,red 268px,#000 423px)"></i><i style="left:698px;top:4109px;width:405px;height:325px;clip-path:path('M2 321l144-115 132-106 122-97 3 203 -120 39 -130 38 -142 40z');background:linear-gradient(-32.2deg,#fff 8px,#ff0 111px,red 266px,#000 421px)"></i><i style="left:701px;top:4190px;width:404px;height:245px;clip-path:path('M3 241l108-65 101-62 96-57 90-54 4 179 -89 24 -94 17 -100 11 -107 9z');background:linear-gradient(-32.3deg,#fff 7px,#ff0 111px,red 266px,#000 421px)"></i><i style="left:705px;top:4269px;width:403px;height:183px;clip-path:path('M2 163l87-35 82-33 79-32 74-30 71-30 5 134 -70 27 -74 14 -77 3 -82-6 -86-11z');background:linear-gradient(-32.3deg,#fff 21px,#ff0 125px,red 280px,#000 435px)"></i><i style="left:708px;top:4337px;width:403px;height:147px;clip-path:path('M3 95l72-14 69-14 66-15 64-15 61-16 59-18 6 74 -59 39 -61 22 -63 7 -65-7 -69-17 -72-24z');background:linear-gradient(-32.3deg,#fff 48px,#ff0 151px,red 306px,#000 461px)"></i><i style="left:711px;top:4386px;width:403px;height:123px;clip-path:path('M3 47l62 0 60 0 57-3 56-5 53-8 52-12 50-16 8 5 -51 55 -52 37 -53 19 -55 2 -57-14 -60-25 -61-33z');background:linear-gradient(-32.4deg,#fff 68px,#ff0 171px,red 326px,#000 481px)"></i><i style="left:715px;top:4346px;width:403px;height:185px;clip-path:path('M2 88l55 11 52 10 51 6 49 2 47-3 47-9 44-16 44-22 10-65 -45 72 -46 55 -46 37 -48 16 -49-2 -50-19 -52-32 -54-39z');background:linear-gradient(-32.4deg,#fff 87px,#ff0 190px,red 345px,#000 500px)"></i><i style="left:718px;top:4280px;width:405px;height:270px;clip-path:path('M3 154l43 19 42 16 42 13 40 8 39 3 38-3 37-10 36-17 36-23 35-31 12-126 -37 77 -36 67 -38 54 -37 39 -39 22 -39 5 -39-11 -41-24 -42-35 -43-41z');background:linear-gradient(-32.5deg,#fff 103px,#ff0 206px,red 361px,#000 516px)"></i><i style="left:722px;top:4203px;width:406px;height:361px;clip-path:path('M2 232l40 25 38 22 38 18 36 12 36 5 35-2 34-11 34-19 33-28 33-35 32-43 13-174 -34 84 -33 79 -35 70 -34 56 -35 40 -35 23 -36 4 -36-13 -38-27 -38-39 -39-45z');background:linear-gradient(-32.5deg,#fff 115px,#ff0 218px,red 373px,#000 528px)"></i><i style="left:725px;top:4122px;width:408px;height:454px;clip-path:path('M3 314l36 30 35 27 34 22 34 15 33 7 32-2 32-12 32-22 31-32 30-41 31-48 30-56 13-199 -31 84 -31 86 -32 81 -32 71 -32 58 -32 42 -33 23 -33 3 -33-14 -34-30 -35-42 -36-49z');background:linear-gradient(-32.5deg,#fff 126px,#ff0 229px,red 384px,#000 539px)"></i><i style="left:729px;top:4049px;width:410px;height:537px;clip-path:path('M2 388l33 34 33 31 32 25 31 18 30 8 31-2 29-14 30-25 29-35 29-45 28-54 29-60 28-65 13-201 -28 77 -29 84 -30 86 -29 83 -30 73 -30 60 -31 42 -30 23 -31 3 -31-15 -31-33 -33-44 -33-52z');background:linear-gradient(-32.6deg,#fff 135px,#ff0 238px,red 393px,#000 548px)"></i><i style="left:732px;top:3992px;width:411px;height:603px;clip-path:path('M3 445l31 39 30 34 29 28 29 20 29 9 28-3 28-16 27-27 28-39 27-49 27-58 27-64 27-68 26-70 13-179 -26 62 -27 76 -28 84 -27 87 -28 84 -29 75 -28 61 -28 43 -29 23 -28 3 -29-17 -30-34 -29-47 -31-55z');background:linear-gradient(-32.6deg,#fff 142px,#ff0 246px,red 400px,#000 555px)"></i><i style="left:736px;top:3958px;width:412px;height:645px;clip-path:path('M2 480l29 42 28 38 28 30 27 21 26 9 27-4 26-16 26-30 26-43 26-52 26-62 25-67 25-71 25-71 25-67 12-134 -24 41 -25 59 -25 74 -26 84 -27 87 -26 85 -27 76 -26 62 -27 45 -27 24 -27 2 -27-18 -27-36 -28-49 -28-57z');background:linear-gradient(-32.6deg,#fff 149px,#ff0 253px,red 407px,#000 562px)"></i><i style="left:739px;top:3952px;width:412px;height:658px;clip-path:path('M3 487l25 42 25 39 24 31 24 23 24 13 24 0 23-12 23-25 23-37 24-47 23-56 23-63 22-67 23-68 22-67 22-63 22-55 11-72 -21 14 -22 34 -22 51 -22 66 -23 76 -24 82 -23 82 -24 77 -24 67 -24 53 -23 35 -24 16 -24-4 -24-21 -24-37 -25-49 -25-56z');background:linear-gradient(-32.7deg,#fff 154px,#ff0 258px,red 412px,#000 567px)"></i><i style="left:743px;top:3966px;width:411px;height:650px;clip-path:path('M2 474l24 45 24 40 23 34 22 24 23 12 22 0 22-14 23-27 22-39 22-51 22-59 22-66 22-69 21-70 22-66 21-61 20-53 21-42 9 0 -19-10 -20 10 -21 30 -21 48 -21 64 -22 76 -23 82 -22 83 -23 78 -22 68 -23 54 -23 36 -22 17 -23-3 -22-23 -23-38 -23-51 -24-57z');background:linear-gradient(-32.7deg,#fff 159px,#ff0 262px,red 417px,#000 571px)"></i><i style="left:747px;top:3952px;width:409px;height:670px;clip-path:path('M2 488l23 48 22 43 21 35 22 25 21 12 22-1 21-15 21-29 21-43 21-53 21-62 21-68 21-71 21-70 20-66 21-60 19-49 20-37 19-24 7 71 -18-31 -18-14 -18 6 -20 26 -20 46 -21 62 -21 74 -21 82 -22 84 -21 79 -22 70 -21 55 -22 37 -21 18 -22-4 -21-23 -22-39 -22-52 -22-59z');background:linear-gradient(-32.7deg,#fff 162px,#ff0 265px,red 420px,#000 575px)"></i><i style="left:750px;top:3958px;width:408px;height:669px;clip-path:path('M3 483l21 50 21 44 21 37 20 26 20 12 21-2 20-16 20-32 20-44 21-56 20-65 20-70 20-72 20-71 20-65 19-57 19-46 19-32 17-18 18-4 6 135 -16-48 -17-35 -17-18 -18 2 -19 22 -19 43 -20 60 -20 74 -20 82 -21 84 -21 81 -20 71 -21 56 -21 38 -20 18 -20-4 -21-23 -20-40 -21-54 -21-61z');background:linear-gradient(-32.8deg,#fff 165px,#ff0 268px,red 423px,#000 577px)"></i><i style="left:754px;top:3972px;width:406px;height:660px;clip-path:path('M3 470l20 51 20 47 19 38 20 26 19 12 20-2 19-18 19-33 20-47 19-59 20-66 19-72 19-73 20-71 19-64 18-55 18-42 18-27 17-13 17 3 16 17 4 180 -15-57 -15-50 -16-39 -16-22 -17-2 -18 20 -18 40 -19 58 -20 73 -19 82 -20 85 -20 81 -20 72 -20 57 -20 39 -19 19 -20-4 -19-24 -20-41 -19-55 -20-62z');background:linear-gradient(-32.8deg,#fff 168px,#ff0 271px,red 425px,#000 580px)"></i><i style="left:758px;top:3983px;width:403px;height:653px;clip-path:path('M2 460l20 53 19 48 18 39 19 27 18 12 19-3 19-20 18-35 19-49 19-60 18-69 19-73 19-74 18-70 18-63 18-52 17-38 17-23 17-7 16 8 15 23 15 34 4 205 -14-59 -14-59 -15-53 -15-42 -16-25 -16-5 -17 16 -18 38 -18 56 -19 72 -19 82 -19 85 -19 82 -19 73 -19 59 -19 39 -19 19 -18-3 -19-25 -19-42 -18-55 -19-64z');background:linear-gradient(-32.9deg,#fff 169px,#ff0 272px,red 427px,#000 581px)"></i><i style="left:762px;top:3995px;width:401px;height:647px;clip-path:path('M2 449l18 52 17 48 17 39 17 28 17 15 17 0 17-16 18-30 17-44 17-56 17-65 18-70 17-72 17-69 17-65 17-55 16-43 16-29 15-14 15 1 15 15 14 28 13 38 13 45 5 205 -13-50 -13-56 -13-58 -13-55 -14-45 -14-31 -15-14 -16 6 -16 27 -17 46 -17 62 -17 73 -18 81 -17 82 -18 76 -18 67 -17 51 -17 34 -18 13 -17-7 -17-26 -17-43 -17-55 -17-62z');background:linear-gradient(-32.9deg,#fff 172px,#ff0 275px,red 430px,#000 585px)"></i><i style="left:766px;top:4004px;width:400px;height:641px;clip-path:path('M2 441l17 54 17 49 16 40 16 28 17 15 16-1 17-17 16-32 17-46 16-58 17-66 17-72 17-72 16-70 17-63 16-53 15-40 16-25 15-10 14 7 14 20 13 33 13 42 13 48 12 51 5 179 -12-35 -13-49 -12-56 -13-60 -13-56 -13-49 -14-34 -14-17 -15 3 -15 24 -16 43 -17 61 -17 73 -17 81 -17 82 -17 78 -17 67 -17 53 -16 34 -17 14 -16-7 -17-27 -16-43 -16-56 -17-63z');background:linear-gradient(-33.0deg,#fff 174px,#ff0 277px,red 431px,#000 586px)"></i><i style="left:770px;top:4013px;width:399px;height:636px;clip-path:path('M2 432l16 56 16 50 16 41 16 29 15 15 16-2 16-18 16-34 16-48 16-59 17-68 16-73 16-73 16-70 16-62 15-50 16-37 14-21 15-5 13 11 14 25 12 37 13 46 12 51 12 51 12 49 6 134 -12-16 -12-34 -13-47 -12-57 -12-60 -12-59 -13-51 -13-37 -14-21 -14 0 -15 22 -15 41 -16 59 -17 73 -16 81 -17 82 -16 79 -17 68 -16 54 -16 35 -16 15 -16-7 -15-27 -16-44 -16-57 -16-64z');background:linear-gradient(-33.0deg,#fff 176px,#ff0 279px,red 433px,#000 588px)"></i><i style="left:774px;top:4023px;width:399px;height:630px;clip-path:path('M2 423l16 57 15 51 15 42 15 30 16 14 15-2 15-20 16-35 15-50 16-61 16-69 15-74 16-74 16-69 15-60 15-49 15-34 14-17 13 0 14 15 12 30 13 41 12 49 11 53 12 52 11 48 12 40 8 72 -12 7 -13-14 -12-31 -11-46 -12-56 -12-62 -11-60 -13-53 -12-41 -14-23 -13-3 -15 19 -15 39 -15 58 -16 72 -16 81 -16 83 -16 79 -16 70 -16 54 -15 36 -16 15 -15-7 -15-27 -15-44 -15-58 -15-65z');background:linear-gradient(-33.0deg,#fff 178px,#ff0 281px,red 436px,#000 590px)"></i><i style="left:778px;top:4030px;width:400px;height:626px;clip-path:path('M3 417l15 58 14 52 15 43 14 30 15 14 15-3 14-20 15-37 16-51 15-63 15-71 15-75 16-74 15-68 14-59 15-47 14-30 14-14 13 4 13 19 12 34 12 45 11 51 11 55 12 52 11 47 11 38 11 25 11 3 -13 29 -12 10 -12-10 -12-29 -11-45 -11-57 -12-62 -11-61 -12-56 -12-43 -13-26 -13-6 -14 17 -15 37 -14 57 -16 71 -15 81 -16 83 -15 80 -16 71 -15 55 -15 37 -15 15 -14-6 -15-28 -14-45 -15-58 -15-66z');background:linear-gradient(-33.1deg,#fff 181px,#ff0 284px,red 438px,#000 592px)"></i><i style="left:783px;top:4036px;width:400px;height:623px;clip-path:path('M2 412l14 59 14 53 14 44 14 30 15 13 14-3 14-21 15-38 14-53 15-64 15-73 15-75 15-74 14-68 15-58 14-44 13-27 14-11 12 8 12 23 12 38 12 48 11 53 11 56 10 53 11 46 11 35 11 21 12 7 13-68 -13 51 -13 33 -12 12 -12-7 -11-27 -11-44 -11-56 -11-62 -11-63 -11-58 -12-45 -12-29 -13-8 -14 14 -14 36 -14 55 -15 71 -15 80 -15 84 -15 81 -15 71 -15 56 -14 38 -15 15 -14-6 -14-28 -14-45 -14-59 -14-67z');background:linear-gradient(-33.1deg,#fff 183px,#ff0 286px,red 440px,#000 594px)"></i><i style="left:787px;top:4044px;width:402px;height:618px;clip-path:path('M3 405l13 58 13 53 13 44 13 30 13 16 14-1 13-18 14-34 13-49 14-60 14-69 14-73 14-73 14-69 14-60 13-48 13-33 13-16 12 0 11 17 12 31 10 43 11 51 10 54 11 54 10 50 10 42 10 30 11 16 11 1 11-15 15-129 -13 65 -12 52 -12 36 -11 18 -11-2 -11-21 -11-38 -10-51 -10-59 -10-63 -11-59 -11-51 -11-37 -12-19 -12 1 -13 22 -13 42 -14 60 -14 73 -14 79 -14 82 -15 76 -14 67 -13 51 -14 32 -14 12 -13-9 -13-29 -13-46 -13-59 -13-65z');background:linear-gradient(-33.2deg,#fff 185px,#ff0 288px,red 442px,#000 597px)"></i><i style="left:792px;top:4049px;width:404px;height:616px;clip-path:path('M2 401l13 59 13 54 12 44 13 31 13 15 13-1 13-19 13-35 13-51 14-62 13-70 14-74 14-73 13-68 13-59 13-46 13-30 12-13 12 4 11 20 11 35 10 46 11 53 10 56 9 54 10 49 10 39 10 27 11 13 11-4 11-20 11-34 17-176 -13 74 -12 67 -12 55 -12 40 -11 21 -11 1 -11-19 -10-36 -10-50 -10-59 -10-63 -10-61 -10-53 -11-40 -11-22 -12-1 -13 20 -13 41 -13 58 -14 72 -13 80 -14 82 -14 77 -14 67 -13 52 -14 34 -13 12 -12-9 -13-29 -13-47 -12-59 -13-66z');background:linear-gradient(-33.2deg,#fff 188px,#ff0 291px,red 445px,#000 600px)"></i><i style="left:797px;top:4055px;width:406px;height:613px;clip-path:path('M2 396l12 60 13 55 12 44 12 32 12 15 13-2 13-20 13-37 13-51 13-64 13-71 13-74 14-74 13-68 13-57 12-44 12-28 12-10 12 8 10 23 11 38 10 49 10 55 9 57 10 54 10 48 9 37 10 24 11 8 10-8 11-24 11-39 12-52 18-201 -12 75 -13 75 -12 69 -12 58 -11 43 -11 24 -11 4 -10-16 -10-35 -10-49 -9-59 -10-64 -10-62 -10-55 -10-42 -11-24 -12-4 -12 18 -13 39 -13 58 -13 71 -13 80 -14 82 -13 78 -14 68 -13 53 -13 34 -12 13 -13-9 -12-29 -12-47 -12-60 -12-67z');background:linear-gradient(-33.3deg,#fff 191px,#ff0 294px,red 448px,#000 602px)"></i><i style="left:802px;top:4058px;width:409px;height:613px;clip-path:path('M2 394l12 61 12 55 12 46 11 31 12 15 13-3 12-20 13-38 12-53 13-65 13-72 13-75 13-74 13-67 12-56 13-42 11-25 12-7 11 10 10 28 10 40 10 51 10 57 9 58 9 54 10 47 9 34 10 21 10 4 11-12 10-28 11-44 12-55 11-64 19-203 -12 68 -11 75 -12 76 -12 71 -12 61 -11 45 -11 27 -11 7 -10-14 -10-32 -9-48 -9-59 -10-65 -9-63 -10-57 -10-44 -11-27 -11-6 -12 16 -12 38 -12 56 -13 71 -13 80 -14 83 -13 79 -13 68 -13 54 -12 35 -12 13 -12-9 -12-29 -12-48 -12-60 -11-68z');background:linear-gradient(-33.4deg,#fff 194px,#ff0 297px,red 451px,#000 605px)"></i><i style="left:807px;top:4002px;width:411px;height:672px;clip-path:path('M2 451l12 62 11 56 12 46 11 31 12 15 12-3 12-22 12-39 12-54 13-65 13-73 12-76 13-74 12-66 13-56 11-40 12-22 11-5 11 14 10 30 10 44 9 53 9 58 9 59 9 54 9 45 10 32 9 18 10 0 11-16 10-33 11-47 11-59 12-66 11-70 20-180 -12 54 -11 67 -12 74 -12 77 -11 73 -12 63 -11 48 -11 30 -10 9 -10-11 -9-31 -9-47 -9-58 -10-65 -9-65 -9-59 -10-46 -10-28 -11-8 -11 14 -12 36 -13 55 -12 71 -13 80 -13 83 -13 79 -12 69 -13 55 -12 35 -12 14 -12-9 -11-29 -12-48 -11-61 -11-68z');background:linear-gradient(-33.4deg,#fff 196px,#ff0 299px,red 453px,#000 607px)"></i><i style="left:812px;top:3970px;width:413px;height:707px;clip-path:path('M3 484l11 63 11 57 11 46 11 32 12 14 11-4 12-22 12-40 12-55 12-67 13-74 12-76 12-74 12-66 12-54 12-38 11-20 11-2 10 17 10 33 9 46 9 55 9 60 9 59 9 53 9 43 9 30 10 15 9-3 10-21 11-36 11-51 11-62 11-68 11-70 12-68 19-134 -11 33 -10 51 -12 65 -11 74 -12 78 -11 74 -11 65 -11 50 -11 33 -10 12 -10-9 -9-29 -9-46 -9-58 -8-65 -9-66 -10-60 -9-48 -10-31 -11-10 -11 12 -11 35 -12 55 -12 69 -13 80 -12 83 -13 80 -12 71 -13 55 -11 36 -12 14 -11-9 -12-30 -11-47 -10-62 -11-69z');background:linear-gradient(-33.5deg,#fff 198px,#ff0 301px,red 455px,#000 609px)"></i><i style="left:818px;top:3966px;width:414px;height:714px;clip-path:path('M3 490l10 61 11 57 10 46 11 32 10 16 11-1 11-20 12-36 11-52 12-63 12-72 11-74 12-74 12-67 11-56 11-42 11-26 10-8 10 11 10 27 9 41 9 51 8 58 8 59 9 55 8 48 9 37 9 23 9 7 9-10 10-27 10-42 11-54 10-63 11-68 11-69 10-66 11-57 19-70 -9 8 -10 28 -10 46 -11 61 -11 71 -11 75 -11 74 -11 68 -10 55 -10 38 -10 20 -10 0 -8-21 -9-37 -9-52 -8-62 -8-65 -9-63 -8-55 -10-41 -9-23 -10-2 -11 20 -11 40 -12 58 -11 72 -12 79 -12 81 -12 77 -12 66 -11 51 -12 32 -11 11 -10-11 -11-31 -10-48 -11-60 -10-68z');background:linear-gradient(-33.6deg,#fff 200px,#ff0 302px,red 456px,#000 610px)"></i><i style="left:825px;top:3974px;width:415px;height:710px;clip-path:path('M2 483l10 63 10 56 11 47 10 32 10 16 11-2 11-20 11-38 11-52 11-65 12-72 11-75 12-73 11-67 11-55 11-41 11-24 10-5 9 14 9 29 9 44 9 53 8 59 8 59 8 56 8 47 9 35 9 20 9 3 9-14 10-30 10-45 10-57 10-66 11-69 11-69 10-64 10-55 10-42 19 3 -8-17 -9 4 -9 24 -10 44 -10 59 -11 70 -11 76 -11 75 -11 69 -10 57 -10 42 -10 22 -9 2 -9-18 -8-36 -8-51 -8-62 -8-66 -9-64 -8-56 -9-43 -9-25 -10-4 -11 18 -10 39 -12 57 -11 71 -12 80 -12 81 -11 78 -12 67 -11 51 -11 33 -11 11 -10-10 -10-31 -10-49 -10-61 -10-68z');background:linear-gradient(-33.6deg,#fff 202px,#ff0 305px,red 458px,#000 612px)"></i><i style="left:831px;top:3965px;width:417px;height:722px;clip-path:path('M3 494l10 63 10 57 9 47 10 33 11 15 10-2 10-21 11-39 11-53 11-66 12-73 11-75 11-74 12-66 10-54 11-39 10-22 10-2 9 15 9 32 9 46 8 55 8 60 8 60 8 55 8 46 8 33 8 17 9 0 9-17 10-34 10-48 10-60 11-67 10-70 10-69 11-63 10-52 9-38 9-21 21 75 -8-38 -8-20 -8 0 -9 21 -10 41 -10 57 -10 69 -11 76 -11 76 -10 71 -11 59 -10 44 -9 25 -9 5 -9-17 -8-34 -8-51 -8-61 -8-66 -7-65 -9-58 -8-45 -9-27 -10-6 -10 16 -11 38 -10 57 -12 70 -11 80 -12 82 -11 78 -11 67 -11 53 -11 33 -11 12 -10-11 -10-31 -9-48 -10-62 -10-69z');background:linear-gradient(-33.7deg,#fff 202px,#ff0 305px,red 459px,#000 612px)"></i><i style="left:839px;top:3970px;width:418px;height:720px;clip-path:path('M2 490l10 64 10 58 9 47 10 33 10 16 10-3 10-22 11-39 10-55 11-66 11-74 12-76 11-73 11-66 10-53 10-38 10-20 10 0 9 18 9 34 8 47 8 57 7 61 8 60 8 55 8 44 8 31 8 15 9-2 9-20 9-37 10-51 10-61 11-69 10-71 10-68 10-61 10-50 9-35 9-18 8 0 22 123 -7-50 -7-37 -8-18 -8 2 -9 23 -9 42 -10 59 -11 70 -10 76 -11 76 -10 69 -10 59 -10 42 -9 23 -9 3 -8-17 -8-37 -8-51 -7-62 -8-66 -8-65 -8-58 -8-44 -9-26 -9-5 -10 17 -10 39 -11 57 -11 71 -11 79 -12 82 -11 77 -11 67 -11 52 -10 33 -10 11 -10-11 -10-31 -9-49 -10-62 -9-69z');background:linear-gradient(-33.9deg,#fff 203px,#ff0 305px,red 459px,#000 612px)"></i><i style="left:849px;top:3976px;width:416px;height:717px;clip-path:path('M3 486l9 67 10 59 9 48 10 33 10 13 10-6 10-27 11-45 11-60 11-72 11-77 11-79 11-73 11-62 11-47 10-29 10-9 9 11 9 31 8 45 8 57 8 63 7 63 8 58 8 48 8 34 8 17 9-1 9-21 10-39 9-53 11-65 10-72 10-74 11-69 10-61 9-47 9-31 9-11 8 7 8 25 22 123 -7-57 -6-46 -8-29 -8-9 -8 12 -10 34 -10 51 -10 66 -10 75 -11 78 -10 74 -11 65 -9 50 -10 31 -9 11 -8-10 -8-31 -8-48 -8-60 -7-66 -8-68 -8-61 -8-49 -9-31 -9-10 -10 12 -10 35 -10 54 -11 70 -12 80 -11 83 -11 79 -11 70 -11 54 -11 35 -10 13 -10-10 -9-31 -10-49 -9-62 -9-71z');background:linear-gradient(-34.0deg,#fff 202px,#ff0 305px,red 458px,#000 612px)"></i><i style="left:860px;top:3983px;width:418px;height:714px;clip-path:path('M3 482l9 66 9 60 9 49 10 32 9 14 10-7 10-27 11-45 10-61 11-72 11-78 11-78 11-73 11-62 10-47 10-28 9-8 9 13 9 31 8 47 7 58 8 63 7 64 8 58 7 48 8 33 8 16 9-3 9-22 9-40 10-55 10-66 10-73 11-74 10-69 9-60 10-46 9-28 8-10 8 10 7 27 7 43 27 90 -7-59 -6-49 -7-34 -8-16 -8 5 -9 25 -9 44 -10 60 -10 71 -11 76 -10 76 -10 68 -10 57 -9 41 -9 21 -9 1 -8-19 -8-38 -7-52 -7-63 -8-66 -7-65 -8-57 -8-43 -8-25 -9-4 -10 18 -10 39 -11 58 -11 71 -11 80 -11 81 -11 77 -10 67 -11 51 -10 32 -10 10 -10-11 -9-31 -9-49 -9-62 -9-70z');background:linear-gradient(-34.1deg,#fff 204px,#ff0 306px,red 460px,#000 613px)"></i></div>
<div class="hm" style="left:213px;top:17.7px;height:123.5px"><i style="background:linear-gradient(#ffff42,#ffffa0,#ffffe1,#fffffe,#fffff5,#ffffc6,#ffff76,#ffff0a,#ffb100,#ff5600)"></i><i style="background:linear-gradient(#ffff43,#ffffa1,#ffffe1,#fffffe,#fffff4,#ffffc6,#ffff76,#ffff0a,#ffb100,#ff5600)"></i><i style="background:linear-gradient(#ffff47,#ffffa3,#ffffe2,#fffffe,#fffff4,#ffffc5,#ffff75,#ffff09,#ffb000,#ff5600)"></i><i style="background:linear-gradient(#ffff4e,#ffffa8,#ffffe5,#fffffe,#fffff3,#ffffc3,#ffff73,#ffff08,#ffb000,#ff5600)"></i><i style="background:linear-gradient(#ffff57,#ffffae,#ffffe8,#fff,#fffff1,#ffffc1,#ffff70,#ffff05,#ffaf00,#ff5600)"></i><i style="background:linear-gradient(#ffff63,#ffffb6,#ffffeb,#fff,#ffffef,#ffffbd,#ffff6c,#fffe03,#ffae00,#ff5600)"></i><i style="background:linear-gradient(#ffff72,#ffffbf,#ffffef,#fff,#ffffec,#ffffb9,#ffff67,#fffd01,#ffac00,#ff5600)"></i><i style="background:linear-gradient(#ffff82,#ffffc9,#fffff4,#fffffe,#ffffe8,#ffffb3,#ffff62,#fffb00,#ffab00,#ff5600)"></i><i style="background:linear-gradient(#ffff94,#ffffda,#fffffc,#fffff7,#ffffcb,#ffff7c,#ffff0f,#ffb300,#ff5600)"></i><i style="background:linear-gradient(#ffffa6,#ffffe3,#fffffe,#fffff3,#ffffc4,#ffff74,#ffff09,#ffb000,#ff5600)"></i><i style="background:linear-gradient(#ffffb9,#ffffec,#fff,#ffe,#ffffbc,#ffff6b,#fffe03,#ffad00,#ff5600)"></i><i style="background:linear-gradient(#ffffcb,#fffff4,#fffffe,#ffffe8,#ffffb2,#ffff61,#fffa00,#fa0,#ff5600)"></i><i style="background:linear-gradient(#ffffdc,#fffffc,#fffff7,#ffffca,#ffff7b,#ffff0e,#ffb200,#ff5600)"></i><i style="background:linear-gradient(#ffffea,#fff,#fffff0,#ffffbe,#ffff6e,#ffff04,#ffae00,#ff5600)"></i><i style="background:linear-gradient(#fffff5,#fffffe,#ffffe7,#ffffb0,#ffff5f,#fff900,#fa0,#ff5600)"></i><i style="background:linear-gradient(#fffffd,#fffff6,#ffffca,#ffff7a,#ffff0e,#ffb200,#ff5600)"></i><i style="background:linear-gradient(#fff,#ffffec,#ffffb9,#ffff68,#fffd02,#ffac00,#ff5600)"></i><i style="background:linear-gradient(#fffffb,#ffffde,#ffffa5,#ffff53,#fff300,#ffa600,#ff5600)"></i><i style="background:linear-gradient(#fffff0,#ffffc0,#ffff6f,#fffe06,#ffaf00,#ff5600)"></i><i style="background:linear-gradient(#ffffdf,#ffffa7,#ff5,#fff400,#ffa700,#ff5600)"></i><i style="background:linear-gradient(#ffffc6,#ffff76,#ffff0b,#ffb100,#ff5600)"></i><i style="background:linear-gradient(#ffffa5,#ffff54,#fff300,#ffa700,#ff5600)"></i><i style="background:linear-gradient(#ffff7c,#ffff10,#ffb300,#f50)"></i><i style="background:linear-gradient(#ffff4c,#fff000,#ffa500,#f50)"></i><i style="background:linear-gradient(#ffff16,#ffd400,#ff9600,#f50)"></i><i style="background:linear-gradient(#ffe500,#ff9f00,#f50)"></i><i style="background:linear-gradient(#ffba00,#f80,#f50)"></i><i style="background:linear-gradient(#ff8c00,#ff7100,#f50)"></i><i style="background:linear-gradient(#ff5d00,#ff5900,#f50)"></i><i style="background:linear-gradient(#ff2e00,#ff4200,#f50)"></i><i style="background:linear-gradient(#f90600,#ff2a00,#f50)"></i><i style="background:linear-gradient(#d30000,#ff1300,#f50)"></i><i style="background:linear-gradient(#a90000,#fa0200,#f50)"></i><i style="background:linear-gradient(#840000,#c30000,#ff0b00,#f50)"></i><i style="background:linear-gradient(#620000,#a80000,#fb0000,#f50)"></i><i style="background:linear-gradient(#450000,#7b0000,#bc0000,#ff0700,#ff5400)"></i><i style="background:linear-gradient(#2d0000,#630000,#a90000,#fb0000,#ff5400)"></i><i style="background:linear-gradient(#1b0000,#420000,#780000,#ba0000,#ff0600,#ff5400)"></i><i style="background:linear-gradient(#0d0000,#300000,#600,#ac0000,#fc0000,#ff5400)"></i><i style="background:linear-gradient(#050000,#210000,#500,#9e0000,#f50000,#ff5400)"></i><i style="background:linear-gradient(#010000,#0f0000,#300,#690000,#af0000,#fe0100,#ff5400)"></i><i style="background:linear-gradient(#010000,#080000,#270000,#5d0000,#a40000,#f90000,#ff5400)"></i><i style="background:linear-gradient(#040000,#010000,#130000,#380000,#6e0000,#b30000,#ff0200,#ff5400)"></i><i style="background:linear-gradient(#0b0000,#000,#0c0000,#2e0000,#640000,#a00,#fc0000,#ff5400)"></i><i style="background:linear-gradient(#140000,#010000,#070000,#260000,#5b0000,#a30000,#f80000,#ff5400)"></i><i style="background:linear-gradient(#1f0000,#060000,#010000,#100,#360000,#6c0000,#b10000,#fe0200,#ff5400)"></i><i style="background:linear-gradient(#2a0000,#0b0000,#000,#0c0000,#2f0000,#650000,#ab0000,#fc0000,#ff5400)"></i><i style="background:linear-gradient(#370000,#100000,#000,#090000,#290000,#5f0000,#a60000,#fa0000,#ff5400)"></i><i style="background:linear-gradient(#430000,#170000,#010000,#060000,#240000,#590000,#a10000,#f70000,#ff5400)"></i><i style="background:linear-gradient(#4f0000,#1d0000,#030000,#040000,#200000,#540000,#9d0000,#f50000,#ff5400)"></i><i style="background:linear-gradient(#5b0000,#290000,#090000,#000,#0d0000,#300000,#600,#ac0000,#fd0100,#ff5400)"></i><i style="background:linear-gradient(#650000,#2f0000,#0c0000,#000,#0b0000,#2d0000,#630000,#a90000,#fc0000,#ff5400)"></i><i style="background:linear-gradient(#6d0000,#340000,#0f0000,#000,#0a0000,#2a0000,#600000,#a70000,#fa0000,#ff5400)"></i><i style="background:linear-gradient(#740000,#390000,#100,#000,#080000,#280000,#5e0000,#a50000,#f90000,#ff5400)"></i><i style="background:linear-gradient(#790000,#3c0000,#130000,#010000,#080000,#270000,#5c0000,#a40000,#f90000,#ff5400)"></i><i style="background:linear-gradient(#7d0000,#3e0000,#140000,#010000,#070000,#260000,#5b0000,#a30000,#f80000,#ff5400)"></i><i style="background:linear-gradient(#7e0000,#3f0000,#140000,#010000,#070000,#260000,#5b0000,#a30000,#f80000,#ff5400)"></i><i style="background:linear-gradient(#7d0000,#3f0000,#140000,#010000,#070000,#260000,#5b0000,#a30000,#f80000,#ff5400)"></i><i style="background:linear-gradient(#7a0000,#3d0000,#130000,#010000,#080000,#270000,#5c0000,#a40000,#f90000,#ff5400)"></i><i style="background:linear-gradient(#750000,#390000,#100,#000,#080000,#280000,#5e0000,#a50000,#f90000,#ff5400)"></i><i style="background:linear-gradient(#6e0000,#350000,#0f0000,#000,#090000,#2a0000,#600000,#a70000,#fa0000,#ff5400)"></i><i style="background:linear-gradient(#600,#2f0000,#0c0000,#000,#0b0000,#2d0000,#630000,#a90000,#fb0000,#ff5400)"></i><i style="background:linear-gradient(#5c0000,#290000,#0a0000,#000,#0d0000,#300000,#600,#ac0000,#fc0100,#ff5400)"></i><i style="background:linear-gradient(#510000,#1e0000,#030000,#040000,#1f0000,#540000,#9d0000,#f50000,#ff5400)"></i><i style="background:linear-gradient(#450000,#170000,#020000,#060000,#230000,#590000,#a10000,#f70000,#ff5400)"></i><i style="background:linear-gradient(#380000,#100,#000,#080000,#280000,#5e0000,#a50000,#f90000,#ff5400)"></i><i style="background:linear-gradient(#2c0000,#0b0000,#000,#0c0000,#2e0000,#640000,#ab0000,#fc0000,#ff5400)"></i><i style="background:linear-gradient(#200000,#060000,#010000,#100,#350000,#6b0000,#b00000,#fe0200,#ff5400)"></i><i style="background:linear-gradient(#150000,#010000,#070000,#250000,#5a0000,#a20000,#f80000,#ff5400)"></i><i style="background:linear-gradient(#0c0000,#000,#0b0000,#2d0000,#630000,#a00,#fc0000,#ff5400)"></i><i style="background:linear-gradient(#050000,#010000,#120000,#370000,#6d0000,#b20000,#fe0200,#ff5400)"></i><i style="background:linear-gradient(#010000,#070000,#260000,#5b0000,#a30000,#f80000,#ff5400)"></i><i style="background:linear-gradient(#000,#0f0000,#320000,#680000,#ae0000,#fd0100,#ff5400)"></i><i style="background:linear-gradient(#040000,#1f0000,#540000,#9d0000,#f50000,#ff5400)"></i><i style="background:linear-gradient(#0c0000,#2e0000,#640000,#a00,#fc0000,#ff5400)"></i><i style="background:linear-gradient(#190000,#400000,#760000,#b90000,#ff0500,#ff5400)"></i><i style="background:linear-gradient(#2b0000,#610000,#a80000,#fb0000,#ff5400)"></i><i style="background:linear-gradient(#430000,#780000,#ba0000,#ff0600,#ff5400)"></i><i style="background:linear-gradient(#5f0000,#a60000,#f90000,#f50)"></i><i style="background:linear-gradient(#800000,#c00000,#ff0900,#f50)"></i><i style="background:linear-gradient(#a50000,#f80100,#f50)"></i><i style="background:linear-gradient(#cf0000,#f10,#f50)"></i><i style="background:linear-gradient(#f60400,#ff2800,#f50)"></i><i style="background:linear-gradient(#ff2a00,#ff3f00,#f50)"></i><i style="background:linear-gradient(#ff5900,#ff5700,#f50)"></i><i style="background:linear-gradient(#ff8700,#ff6e00,#f50)"></i><i style="background:linear-gradient(#ffb500,#ff8600,#f50)"></i><i style="background:linear-gradient(#ffe100,#ff9d00,#f50)"></i><i style="background:linear-gradient(#fffe12,#ffb300,#f50)"></i><i style="background:linear-gradient(#ffff47,#ffed00,#ffa300,#f50)"></i><i style="background:linear-gradient(#ffff78,#ffff0d,#ffb200,#f50)"></i><i style="background:linear-gradient(#ffffa1,#ffff50,#fff100,#ffa600,#ff5600)"></i><i style="background:linear-gradient(#ffffc3,#ffff73,#fffe09,#ffb000,#ff5600)"></i><i style="background:linear-gradient(#ffd,#ffffa4,#ffff53,#fff300,#ffa600,#ff5600)"></i><i style="background:linear-gradient(#ffffef,#ffffbe,#ffff6d,#fffe04,#ffae00,#ff5600)"></i><i style="background:linear-gradient(#fffffa,#ffffdc,#ffffa3,#ffff51,#fff200,#ffa600,#ff5600)"></i><i style="background:linear-gradient(#fff,#ffffeb,#ffffb7,#ff6,#fffc01,#ffac00,#ff5600)"></i><i style="background:linear-gradient(#fffffd,#fffff6,#ffffc8,#ffff78,#ffff0c,#ffb200,#ff5600)"></i><i style="background:linear-gradient(#fffff6,#fffffe,#ffffe5,#ffffaf,#ffff5d,#fff800,#ffa900,#ff5600)"></i><i style="background:linear-gradient(#ffffeb,#fff,#ffffef,#ffffbd,#ffff6c,#fffe03,#ffae00,#ff5600)"></i><i style="background:linear-gradient(#ffd,#fffffd,#fffff6,#ffffc9,#ffff7a,#ffff0d,#ffb200,#ff5600)"></i><i style="background:linear-gradient(#ffffcd,#fffff5,#fffffe,#ffffe7,#ffffb1,#ffff60,#fffa00,#fa0,#ff5600)"></i><i style="background:linear-gradient(#ffb,#ffffed,#fff,#ffe,#ffb,#ffff6a,#fffe02,#ffad00,#ff5600)"></i><i style="background:linear-gradient(#ffffa8,#ffffe4,#fffffe,#fffff3,#ffffc4,#ffff73,#ffff08,#ffb000,#ff5600)"></i><i style="background:linear-gradient(#ffff95,#ffffdb,#fffffc,#fffff7,#ffffcb,#ffff7b,#ffff0f,#ffb300,#ff5600)"></i><i style="background:linear-gradient(#ffff84,#ffffca,#fffff4,#fffffe,#ffffe8,#ffffb2,#ffff61,#fffa00,#fa0,#ff5600)"></i><i style="background:linear-gradient(#ffff73,#ffffc0,#fffff0,#fff,#ffffec,#ffffb8,#ffff67,#fffd01,#ffac00,#ff5600)"></i><i style="background:linear-gradient(#ffff65,#ffffb7,#ffffec,#fff,#ffffef,#ffffbd,#ffff6c,#fffe03,#ffae00,#ff5600)"></i><i style="background:linear-gradient(#ffff58,#ffffaf,#ffffe8,#fff,#fffff1,#ffffc0,#ffff70,#ffff05,#ffaf00,#ff5600)"></i><i style="background:linear-gradient(#ffff4e,#ffffa8,#ffffe5,#fffffe,#fffff3,#ffffc3,#ffff73,#ffff07,#ffb000,#ff5600)"></i><i style="background:linear-gradient(#ffff47,#ffffa4,#ffffe3,#fffffe,#fffff4,#ffffc5,#ffff75,#ffff09,#ffb000,#ff5600)"></i><i style="background:linear-gradient(#ffff43,#ffffa1,#ffffe1,#fffffe,#fffff4,#ffffc6,#ffff76,#ffff0a,#ffb100,#ff5600)"></i></div>
<div class="hm" style="left:213px;top:188.6px;height:123.5px"><i style="background:linear-gradient(#ffffc7,#ff7,#fffd0a,#ffab00,#ff4b00,#eb0000,#950000,#4e0000,#1c0000,#030000,#050000,#200,#570000,#a10000,#f70200,#ff5a00,#ffb900,#ffff1a,#ffff86,#ffffd3,#fffffa,#fffff9,#ffffd0,#ffff81,#ffff13,#ffb400,#ff5900)"></i><i style="background:linear-gradient(#ffffc5,#ffff75,#fffc08,#ffa900,#ff4900,#ea0000,#930000,#4d0000,#1b0000,#020000,#050000,#200,#580000,#a20000,#f80200,#ff5b00,#ffba00,#ffff1b,#ffff86,#ffffd3,#fffffa,#fffff9,#ffffcf,#ffff81,#ffff13,#ffb400,#ff5900)"></i><i style="background:linear-gradient(#ffffbe,#ffff6b,#fff803,#ffa100,#ff4100,#e20000,#8d0000,#480000,#190000,#020000,#060000,#250000,#5c0000,#a60000,#fa0400,#ff5f00,#ffbd00,#ffff1f,#ffff89,#ffffd5,#fffffb,#fffff9,#ffffce,#ffff80,#ffff12,#ffb400,#ff5900)"></i><i style="background:linear-gradient(#ffffb1,#ffff59,#ffec00,#ff9200,#f30,#d50000,#830000,#410000,#140000,#010000,#080000,#290000,#620000,#ae0000,#fd0900,#f60,#ffc400,#ffff26,#ffff8e,#ffffd7,#fffffb,#fffff8,#ffffcd,#ffff7e,#ff1,#ffb300,#ff5900)"></i><i style="background:linear-gradient(#ffff9b,#ffff3d,#ffd700,#ff7b00,#ff1d00,#c20000,#740000,#360000,#0f0000,#000,#0c0000,#310000,#6c0000,#b90000,#ff1300,#ff7100,#ffcd00,#ffff31,#ffff96,#ffffdb,#fffffc,#fffff7,#ffffca,#ffff7b,#ffff0f,#ffb200,#ff5900)"></i><i style="background:linear-gradient(#ffff7c,#fffe13,#ffb300,#ff5300,#f10100,#9b0000,#520000,#1e0000,#030000,#040000,#1f0000,#540000,#9d0000,#f40100,#ff5600,#ffb600,#ffff16,#ffff83,#ffffd1,#fffffa,#fffff9,#ffffd0,#ffff82,#ffff14,#ffb500,#ff5900)"></i><i style="background:linear-gradient(#ffff50,#ffe800,#ff8e00,#ff2f00,#d20000,#800000,#3f0000,#130000,#010000,#090000,#2b0000,#640000,#b00000,#fe0b00,#ff6800,#ffc500,#ffff28,#ffff8f,#ffffd8,#fffffc,#fffff8,#ffc,#ffff7d,#ffff10,#ffb300,#ff5900)"></i><i style="background:linear-gradient(#fffe18,#ffbd00,#ff6200,#fb0a00,#ae0000,#630000,#2b0000,#0a0000,#010000,#100,#3a0000,#780000,#c60000,#ff2000,#ff7d00,#ffd700,#ffff3d,#ffff9e,#ffffdf,#fffffd,#fffff5,#ffffc7,#ff7,#fffe0d,#ffb100,#ff5900)"></i><i style="background:linear-gradient(#fd0,#ff8600,#ff2700,#cb0000,#7b0000,#3b0000,#100,#010000,#0a0000,#2d0000,#670000,#b40000,#fe0f00,#ff6c00,#ffc900,#ffff2c,#ffff92,#ffffd9,#fffffc,#fffff7,#ffffcb,#ffff7c,#ffff0f,#ffb300,#ff5900)"></i><i style="background:linear-gradient(#ffa100,#ff4500,#e50100,#910000,#4b0000,#1a0000,#020000,#060000,#240000,#5a0000,#a40000,#f80400,#ff5d00,#ffbc00,#ffff1d,#ff8,#ffffd4,#fffffa,#fffff9,#ffffcf,#ffff80,#ffff13,#ffb400,#ff5900)"></i><i style="background:linear-gradient(#ff5c00,#f70b00,#ac0000,#620000,#2b0000,#090000,#010000,#120000,#3b0000,#790000,#c70000,#ff2100,#ff7e00,#ffd800,#ffff3e,#ffff9e,#ffffe0,#fffffd,#fffff5,#ffffc7,#ff7,#fffe0c,#ffb100,#ff5900)"></i><i style="background:linear-gradient(#fb1400,#ba0000,#6d0000,#320000,#0d0000,#010000,#0e0000,#350000,#710000,#bf0000,#ff1900,#ff7600,#ffd100,#ffff36,#ff9,#ffd,#fffffd,#fffff6,#ffffc9,#ffff79,#ffff0d,#ffb200,#ff5800)"></i><i style="background:linear-gradient(#c00000,#750000,#370000,#0f0000,#010000,#0c0000,#310000,#6c0000,#b90000,#fe1400,#ff7100,#ffcd00,#ffff30,#ffff95,#ffffdb,#fffffc,#fffff7,#ffffca,#ffff7b,#ffff0e,#ffb200,#ff5800)"></i><i style="background:linear-gradient(#760000,#3a0000,#100,#010000,#0b0000,#2f0000,#6a0000,#b60000,#fd1200,#ff6e00,#ffca00,#ffff2e,#ffff93,#ffffda,#fffffc,#fffff7,#ffffcb,#ffff7b,#ffff0f,#ffb300,#ff5800)"></i><i style="background:linear-gradient(#380000,#100,#010000,#0c0000,#300000,#6a0000,#b70000,#fd1300,#ff6f00,#ffcb00,#ffff2e,#ffff94,#ffffda,#fffffc,#fffff7,#ffffcb,#ffff7b,#ffff0f,#ffb300,#ff5800)"></i><i style="background:linear-gradient(#0e0000,#010000,#0e0000,#300,#6e0000,#b00,#fd1700,#ff7300,#ffce00,#ffff32,#ffff97,#ffffdc,#fffffc,#fffff6,#ffffca,#ffff7a,#ffff0e,#ffb200,#ff5800)"></i><i style="background:linear-gradient(#020000,#100,#390000,#760000,#c40000,#fe1f00,#ff7b00,#ffd500,#ffff3a,#ffff9c,#ffffde,#fffffd,#fffff5,#ffffc8,#ffff78,#ffff0c,#ffb100,#ff5800)"></i><i style="background:linear-gradient(#180000,#430000,#830000,#d20000,#ff2b00,#ff8700,#ffe000,#ffff46,#ffffa4,#ffffe2,#fffffe,#fffff3,#ffffc5,#ffff74,#fffe0a,#ffb000,#ff5700)"></i><i style="background:linear-gradient(#540000,#950000,#e20400,#ff3f00,#f90,#ffeb05,#ffff57,#ffffae,#ffffe8,#fffffe,#fffff1,#ffffc0,#ffff6f,#fffe07,#ffaf00,#ff5700)"></i><i style="background:linear-gradient(#b00000,#f41300,#f60,#ffc300,#fffe27,#ffff8d,#ffffd7,#fffffb,#fffff8,#ffffcd,#ffff7e,#ff1,#ffb300,#ff5700)"></i><i style="background:linear-gradient(#fc2900,#ff8100,#ffda01,#ffff3f,#ffff9f,#ffffe0,#fffffd,#fffff4,#ffffc6,#ffff76,#ffff0b,#ffb100,#ff5700)"></i><i style="background:linear-gradient(#ffa500,#ffed0f,#ffff60,#ffffb4,#ffffea,#fffffe,#ffffef,#ffffbd,#ffff6c,#fffd06,#ffae00,#ff5700)"></i><i style="background:linear-gradient(#fffb30,#ffff8f,#ffffd7,#fffffa,#fffff6,#ffffcb,#ffff7c,#ffff10,#ffb300,#ff5600)"></i><i style="background:linear-gradient(#ffffb0,#ffffe7,#fffffd,#ffffef,#ffffbe,#ffff6d,#fffc08,#ffae00,#ff5600)"></i><i style="background:linear-gradient(#fffff6,#fffffa,#ffffe0,#ffffa9,#ffff58,#fff402,#ffa800,#ff5600)"></i><i style="background:linear-gradient(#ffffea,#ffffba,#ffff6a,#fff90a,#ffad00,#ff5600)"></i><i style="background:linear-gradient(#ffff8e,#ffff3f,#ffe901,#ffa100,#ff5600)"></i><i style="background:linear-gradient(#ffe811,#ffa700,#f50)"></i><i style="background:linear-gradient(#ff6e00,#ff6100,#f50)"></i><i style="background:linear-gradient(#db0700,#ff1b00,#f50)"></i><i style="background:linear-gradient(#6c0000,#b00000,#f90600,#f50)"></i><i style="background:linear-gradient(#1d0000,#430000,#790000,#b00,#fe0700,#ff5400)"></i><i style="background:linear-gradient(#030000,#0d0000,#2d0000,#630000,#a90000,#fa0200,#ff5400)"></i><i style="background:linear-gradient(#1f0000,#050000,#050000,#210000,#500,#9d0000,#f50000,#ff5400)"></i><i style="background:linear-gradient(#6b0000,#300,#0f0000,#010000,#0b0000,#2c0000,#620000,#a80000,#fa0100,#ff5400)"></i><i style="background:linear-gradient(#d60200,#800,#460000,#180000,#020000,#060000,#240000,#590000,#a10000,#f70000,#ff5300)"></i><i style="background:linear-gradient(#ff5800,#f10f00,#ae0000,#670000,#300000,#0d0000,#010000,#0c0000,#2d0000,#630000,#a90000,#fb0100,#ff5300)"></i><i style="background:linear-gradient(#ffd200,#ff7b00,#fd2200,#c70000,#790000,#3c0000,#130000,#010000,#080000,#280000,#5d0000,#a50000,#f90000,#ff5300)"></i><i style="background:linear-gradient(#ffff56,#ffe709,#ff9500,#ff3700,#db0000,#890000,#460000,#180000,#020000,#060000,#240000,#590000,#a10000,#f70000,#ff5300)"></i><i style="background:linear-gradient(#ffffc2,#ffff71,#fff412,#ffa700,#ff4900,#e80200,#940000,#4e0000,#1c0000,#030000,#050000,#210000,#500,#9e0000,#f50000,#ff5300)"></i><i style="background:linear-gradient(#fffff7,#ffffcf,#ffff81,#fffa1b,#ffb400,#f50,#f00500,#9c0000,#530000,#1f0000,#040000,#040000,#1f0000,#530000,#9c0000,#f40000,#ff5200)"></i><i style="background:linear-gradient(#fffff6,#fffffb,#ffffdb,#ff9,#ffff39,#ffd600,#ff7d00,#ff2100,#c80000,#7a0000,#3c0000,#130000,#010000,#080000,#270000,#5d0000,#a40000,#f80100,#ff5200)"></i><i style="background:linear-gradient(#ffffc5,#fffff2,#fffffc,#ffffe0,#ffffa1,#ffff43,#fd0,#ff8400,#ff2700,#cd0000,#7e0000,#3f0000,#140000,#010000,#070000,#260000,#5c0000,#a30000,#f80100,#ff5200)"></i><i style="background:linear-gradient(#ffff72,#ffffc0,#fffff1,#fffffd,#ffffe3,#ffffa4,#ffff47,#ffe000,#ff8700,#ff2a00,#cf0000,#800000,#400000,#150000,#010000,#070000,#260000,#5b0000,#a30000,#f70100,#ff5200)"></i><i style="background:linear-gradient(#fff713,#ffff70,#ffffc1,#fffff2,#fffffd,#ffffe2,#ffffa4,#ffff46,#ffdf00,#ff8600,#ff2900,#cf0000,#7f0000,#400000,#140000,#010000,#070000,#260000,#5b0000,#a30000,#f70100,#ff5200)"></i><i style="background:linear-gradient(#ffb600,#fff914,#ff7,#ffffc6,#fffff4,#fffffd,#ffffe0,#ffffa0,#ffff41,#ffdb00,#ff8200,#ff2600,#c00,#7d0000,#3e0000,#140000,#010000,#070000,#260000,#5c0000,#a40000,#f70100,#ff5200)"></i><i style="background:linear-gradient(#ff6800,#ffc300,#fffe27,#ffff8f,#ffffd8,#fffffb,#fffff6,#ffffc9,#ffff78,#fffc0e,#ffac00,#ff4d00,#ed0100,#970000,#500000,#1d0000,#030000,#040000,#200000,#500,#9d0000,#f50000,#ff5100)"></i><i style="background:linear-gradient(#ff2000,#ff7b00,#ffd700,#ffff3f,#ffffa1,#ffffe2,#fffffe,#fffff2,#ffffbf,#ffff69,#fff604,#ffa000,#ff4200,#e40000,#8f0000,#4a0000,#1a0000,#020000,#050000,#200,#570000,#9f0000,#f50000,#ff5100)"></i><i style="background:linear-gradient(#e00000,#ff3900,#ff9600,#ffed02,#ffff5b,#ffffb4,#ffffec,#fffffe,#ffffea,#ffffb1,#ffff56,#ffeb00,#ff9200,#ff3400,#d80000,#860000,#400,#170000,#020000,#060000,#240000,#590000,#a10000,#f60100,#ff5100)"></i><i style="background:linear-gradient(#ab0000,#f80800,#ff6100,#ffc000,#ff2,#ffff8c,#ffffd6,#fffffb,#fffff7,#ffffcb,#ffff7a,#fffd0e,#ffae00,#ff4f00,#ef0000,#980000,#500000,#1d0000,#030000,#040000,#200000,#540000,#9d0000,#f40000,#ff5100)"></i><i style="background:linear-gradient(#810000,#cf0000,#ff2b00,#ff8900,#ffe300,#ffff4d,#ffffab,#ffffe7,#fffffe,#ffe,#ffffb8,#ffff60,#fff101,#f90,#ff3b00,#de0000,#8b0000,#470000,#180000,#020000,#060000,#230000,#580000,#a00000,#f60100,#ff5100)"></i><i style="background:linear-gradient(#610000,#a90000,#fb0800,#ff6300,#ffc100,#ffff24,#ffff8e,#ffffd7,#fffffb,#fffff7,#ffffcb,#ffff79,#fffd0c,#ffad00,#ff4e00,#e00,#980000,#500000,#1d0000,#030000,#040000,#200000,#540000,#9d0000,#f40000,#ff5100)"></i><i style="background:linear-gradient(#490000,#890000,#dc0000,#ff3800,#ff9600,#fe0,#ffff5b,#ffffb4,#ffffec,#fff,#ffffeb,#ffffb1,#ffff57,#ffeb00,#ff9200,#ff3500,#d80000,#860000,#400,#170000,#020000,#060000,#240000,#590000,#a10000,#f60100,#ff5100)"></i><i style="background:linear-gradient(#380000,#740000,#c40000,#ff1f00,#ff7e00,#ffda00,#ffff42,#ffffa3,#ffffe3,#fffffe,#fffff1,#ffffbe,#ffff67,#fff702,#ff9f00,#ff4000,#e20000,#8e0000,#4a0000,#1a0000,#020000,#050000,#200,#570000,#9f0000,#f50100,#ff5100)"></i><i style="background:linear-gradient(#2e0000,#600,#b30000,#ff0e00,#ff6d00,#ffcb00,#ffff30,#ffff96,#ffffdc,#fffffd,#fffff5,#ffffc6,#ffff73,#fffc07,#ffa800,#ff4900,#ea0000,#940000,#4e0000,#1c0000,#030000,#040000,#210000,#500,#9e0000,#f50100,#ff5100)"></i><i style="background:linear-gradient(#280000,#5e0000,#a90000,#fc0600,#ff6300,#ffc100,#ffff24,#ffff8e,#ffffd7,#fffffc,#fffff7,#ffffcb,#ffff7a,#fffe0c,#ffae00,#ff4e00,#e00,#980000,#500000,#1d0000,#030000,#040000,#200000,#540000,#9d0000,#f40100,#ff5100)"></i><i style="background:linear-gradient(#260000,#5b0000,#a60000,#fa0400,#ff5f00,#ffbe00,#ffff20,#ffff8b,#ffffd6,#fffffb,#fffff8,#ffc,#ffff7c,#fffe0e,#ffb000,#ff5000,#f00000,#900,#510000,#1e0000,#030000,#040000,#200000,#540000,#9d0000,#f40100,#ff5100)"></i><i style="background:linear-gradient(#270000,#5d0000,#a80000,#fc0600,#ff6200,#ffc100,#ffff23,#ffff8d,#ffffd7,#fffffc,#fffff7,#ffffcb,#ffff7a,#fffe0d,#ffae00,#ff4e00,#ef0000,#980000,#500000,#1d0000,#030000,#040000,#200000,#540000,#9d0000,#f40100,#ff5100)"></i><i style="background:linear-gradient(#2d0000,#650000,#b20000,#fe0d00,#ff6c00,#ffc900,#ffff2e,#ffff95,#ffffdc,#fffffd,#fffff5,#ffffc7,#ffff74,#fffc08,#ffa900,#ff4a00,#ea0000,#940000,#4e0000,#1c0000,#030000,#040000,#210000,#500,#9e0000,#f40100,#ff5100)"></i><i style="background:linear-gradient(#370000,#730000,#c20000,#ff1d00,#ff7c00,#ffd800,#ffff40,#ffffa2,#ffffe3,#fffffe,#fffff2,#ffffbf,#ffff69,#fff702,#ffa000,#ff4100,#e30000,#8f0000,#4a0000,#1a0000,#020000,#050000,#200,#570000,#9f0000,#f50100,#ff5100)"></i><i style="background:linear-gradient(#470000,#870000,#d90000,#ff3500,#ff9300,#ffec00,#ffff58,#ffffb2,#ffffeb,#fff,#ffffeb,#ffffb3,#ffff59,#ffed00,#ff9400,#ff3600,#d90000,#870000,#450000,#170000,#020000,#060000,#240000,#590000,#a10000,#f60100,#ff5100)"></i><i style="background:linear-gradient(#5e0000,#a60000,#f90600,#ff5f00,#ffbe00,#ffff20,#ffff8b,#ffffd6,#fffffb,#fffff8,#ffc,#ffff7c,#fffe0e,#ffaf00,#ff5000,#f00000,#900,#510000,#1e0000,#030000,#040000,#200000,#540000,#9d0000,#f40000,#ff5100)"></i><i style="background:linear-gradient(#7d0000,#ca0000,#ff2600,#ff8500,#ffe000,#ffff49,#ffffa8,#ffffe6,#fffffe,#ffffef,#ffffba,#ffff63,#fff301,#ff9b00,#ff3d00,#e00000,#8c0000,#480000,#190000,#020000,#050000,#230000,#570000,#a00000,#f50100,#ff5100)"></i><i style="background:linear-gradient(#a60000,#f60600,#ff5c00,#fb0,#fffe1d,#ff8,#ffffd4,#fffffa,#fffff8,#ffffcd,#ffff7e,#fffe11,#ffb100,#ff5100,#f10100,#9a0000,#510000,#1e0000,#030000,#040000,#1f0000,#540000,#9d0000,#f40000,#ff5100)"></i><i style="background:linear-gradient(#da0000,#f30,#ff9100,#ffe901,#ff5,#ffffb0,#ffffea,#fffffe,#ffffec,#ffffb4,#ffff5a,#ffed01,#ff9500,#ff3700,#da0000,#800,#450000,#170000,#020000,#060000,#240000,#590000,#a10000,#f60100,#ff5100)"></i><i style="background:linear-gradient(#fe1a00,#ff7500,#ffd100,#ffff38,#ffff9c,#ffffdf,#fffffd,#fffff3,#ffffc2,#ffff6d,#fff806,#ffa400,#ff4500,#e60000,#910000,#4c0000,#1b0000,#020000,#050000,#210000,#560000,#9f0000,#f50000,#ff5100)"></i><i style="background:linear-gradient(#ff6100,#ffbc00,#fffe1f,#ff8,#ffffd4,#fffffa,#fffff8,#ffffcd,#ffff7d,#fffd11,#ffb000,#ff5100,#f00100,#9a0000,#510000,#1e0000,#030000,#040000,#1f0000,#540000,#9d0000,#f40000,#ff5100)"></i><i style="background:linear-gradient(#ffae00,#fff60f,#ffff6f,#ffffc1,#fffff2,#fffffd,#ffffe3,#ffffa5,#ffff47,#ffe000,#ff8700,#ff2a00,#cf0000,#800000,#400000,#140000,#010000,#070000,#260000,#5b0000,#a30000,#f70100,#ff5200)"></i><i style="background:linear-gradient(#fff30d,#ffff67,#ffffbc,#ffffef,#fffffe,#ffffe6,#ffffa9,#ffff4d,#ffe400,#ff8b00,#ff2e00,#d30000,#820000,#420000,#150000,#010000,#070000,#250000,#5a0000,#a20000,#f70100,#ff5200)"></i><i style="background:linear-gradient(#ffff68,#ffffba,#ffe,#fffffd,#ffffe6,#ffa,#ffff4f,#ffe501,#ff8c00,#ff2f00,#d40000,#830000,#420000,#160000,#010000,#070000,#250000,#5a0000,#a20000,#f70100,#ff5200)"></i><i style="background:linear-gradient(#ffffbe,#ffffef,#fffffd,#ffffe4,#ffffa8,#ffff4b,#ffe300,#ff8a00,#ff2d00,#d20000,#820000,#410000,#150000,#010000,#070000,#250000,#5a0000,#a20000,#f70000,#ff5200)"></i><i style="background:linear-gradient(#fffff3,#fffffc,#ffffe0,#ffffa1,#ffff43,#fd0,#ff8400,#ff2700,#cd0000,#7e0000,#3f0000,#140000,#010000,#070000,#260000,#5c0000,#a30000,#f80100,#ff5200)"></i><i style="background:linear-gradient(#fffff9,#ffffd8,#ffff95,#ffff34,#ffd200,#ff7900,#ff1e00,#c50000,#780000,#3b0000,#120000,#010000,#080000,#280000,#5d0000,#a50000,#f90100,#ff5200)"></i><i style="background:linear-gradient(#ffffc9,#ffff7c,#fff719,#ffb000,#ff5100,#ed0400,#9a0000,#520000,#1e0000,#030000,#040000,#1f0000,#540000,#9d0000,#f50000,#ff5300)"></i><i style="background:linear-gradient(#ffff63,#ffee0e,#ff9f00,#ff4100,#e20100,#8f0000,#4a0000,#1a0000,#020000,#050000,#200,#570000,#9f0000,#f60000,#ff5300)"></i><i style="background:linear-gradient(#ffdb04,#ff8600,#ff2a00,#d00000,#800000,#400000,#150000,#010000,#070000,#260000,#5b0000,#a30000,#f80000,#ff5300)"></i><i style="background:linear-gradient(#ff6400,#f51700,#b70000,#6e0000,#340000,#0f0000,#010000,#0a0000,#2b0000,#610000,#a80000,#fa0100,#ff5300)"></i><i style="background:linear-gradient(#de0700,#920000,#4c0000,#1c0000,#030000,#050000,#200,#560000,#9f0000,#f60000,#ff5300)"></i><i style="background:linear-gradient(#750000,#3a0000,#120000,#010000,#090000,#290000,#5f0000,#a60000,#f90000,#ff5400)"></i><i style="background:linear-gradient(#240000,#090000,#020000,#100,#340000,#6a0000,#af0000,#fd0200,#ff5400)"></i><i style="background:linear-gradient(#030000,#0a0000,#290000,#5e0000,#a50000,#f80100,#ff5400)"></i><i style="background:linear-gradient(#180000,#3d0000,#730000,#b60000,#fd0600,#ff5400)"></i><i style="background:linear-gradient(#620000,#a80000,#f60400,#f50)"></i><i style="background:linear-gradient(#d30200,#fd1600,#f50)"></i><i style="background:linear-gradient(#ff6000,#ff5a00,#f50)"></i><i style="background:linear-gradient(#ffdf0b,#ffa000,#f50)"></i><i style="background:linear-gradient(#ffff81,#ff3,#ffe300,#ff9e00,#f50)"></i><i style="background:linear-gradient(#ffffe5,#ffffb1,#ffff61,#fff607,#ffab00,#ff5600)"></i><i style="background:linear-gradient(#fffff8,#fffff5,#ffffcb,#ffff7c,#fffe12,#ffb300,#ff5600)"></i><i style="background:linear-gradient(#ffb,#ffffec,#fffffd,#ffffeb,#ffffb9,#ffff68,#fffb05,#ffad00,#ff5600)"></i><i style="background:linear-gradient(#fffe3a,#ff9,#ffffdc,#fffffc,#fffff4,#ffffc7,#ffff78,#fffe0d,#ffb200,#ff5600)"></i><i style="background:linear-gradient(#ffb100,#fff315,#ffff6b,#ffb,#ffffed,#fffffe,#ffffec,#ffffb9,#ffff68,#fffc04,#ffad00,#ff5700)"></i><i style="background:linear-gradient(#f30,#ff8c00,#ffe104,#ffff4a,#ffffa6,#ffffe3,#fffffd,#fffff2,#ffffc3,#ffff73,#fffe09,#ffb000,#ff5700)"></i><i style="background:linear-gradient(#b00,#f81a00,#ff7000,#fc0,#ffff30,#ffff94,#ffffda,#fffffc,#fffff6,#ffffca,#ffff7b,#ffff0f,#ffb200,#ff5700)"></i><i style="background:linear-gradient(#5b0000,#a40000,#f00b00,#ff5b00,#ffba00,#fffd1e,#ffff86,#ffffd3,#fffffa,#fffff9,#ffffcf,#ffff81,#ffff13,#ffb400,#ff5700)"></i><i style="background:linear-gradient(#1d0000,#490000,#8a0000,#da0000,#ff3400,#ff8f00,#ffe601,#ffff4e,#ffffa9,#ffffe5,#fffffe,#fffff2,#ffffc3,#ffff72,#fffe08,#ffb000,#ff5700)"></i><i style="background:linear-gradient(#020000,#140000,#3e0000,#7d0000,#c00,#ff2500,#ff8200,#ffdb00,#ffff41,#ffffa0,#ffffe1,#fffffd,#fffff4,#ffffc6,#ffff76,#ffff0b,#ffb100,#ff5800)"></i><i style="background:linear-gradient(#0c0000,#010000,#100000,#370000,#740000,#c20000,#fe1d00,#ff7900,#ffd400,#ffff39,#ffff9b,#ffffde,#fffffd,#fffff5,#ffffc8,#ffff78,#ffff0d,#ffb200,#ff5800)"></i><i style="background:linear-gradient(#320000,#0e0000,#010000,#0e0000,#340000,#700000,#bd0000,#fe1800,#ff7400,#ffd000,#ffff34,#ffff98,#ffffdc,#fffffd,#fffff6,#ffffc9,#ffff7a,#ffff0e,#ffb200,#ff5800)"></i><i style="background:linear-gradient(#6f0000,#350000,#0f0000,#010000,#0d0000,#300,#6e0000,#b00,#fe1600,#ff7300,#ffcf00,#ff3,#ffff97,#ffffdc,#fffffc,#fffff6,#ffffca,#ffff7a,#ffff0e,#ffb200,#ff5800)"></i><i style="background:linear-gradient(#b90000,#6e0000,#300,#0d0000,#010000,#0e0000,#340000,#700000,#be0000,#ff1800,#ff7500,#ffd000,#ffff35,#ffff98,#ffd,#fffffd,#fffff6,#ffffc9,#ffff7a,#ffff0e,#ffb200,#ff5800)"></i><i style="background:linear-gradient(#f80f00,#b30000,#680000,#2e0000,#0b0000,#010000,#100000,#380000,#750000,#c30000,#ff1d00,#ff7a00,#ffd500,#ffff3a,#ffff9c,#ffffde,#fffffd,#fffff5,#ffffc8,#ffff78,#ffff0d,#ffb200,#ff5800)"></i><i style="background:linear-gradient(#f50,#f30800,#a60000,#5e0000,#280000,#080000,#010000,#130000,#3d0000,#7c0000,#cb0000,#ff2500,#ff8200,#ffdb00,#ffff41,#ffffa0,#ffffe1,#fffffd,#fffff4,#ffffc6,#ffff76,#fffe0b,#ffb100,#ff5900)"></i><i style="background:linear-gradient(#ff9b00,#ff3f00,#e00000,#8c0000,#470000,#180000,#020000,#070000,#260000,#5d0000,#a70000,#fa0600,#ff6000,#ffbe00,#ffff20,#ffff8a,#ffffd5,#fffffb,#fffff8,#ffffce,#ffff7f,#ffff12,#ffb400,#ff5900)"></i><i style="background:linear-gradient(#ffd700,#ff8000,#f20,#c60000,#700,#380000,#100000,#000,#0b0000,#2f0000,#6a0000,#b70000,#fe1100,#ff6f00,#ffcb00,#ffff2f,#ffff94,#ffffda,#fffffc,#fffff7,#ffffcb,#ffff7b,#ffff0f,#ffb200,#ff5900)"></i><i style="background:linear-gradient(#fffd13,#ffb900,#ff5d00,#f80700,#a00,#610000,#290000,#090000,#010000,#120000,#3c0000,#7a0000,#c90000,#ff2300,#ff8000,#ffd900,#ffff3f,#ffff9f,#ffffe0,#fffffd,#fffff5,#ffffc7,#ff7,#fffe0c,#ffb100,#ff5900)"></i><i style="background:linear-gradient(#ffff4b,#ffe500,#ff8a00,#ff2b00,#cf0000,#7d0000,#3d0000,#120000,#010000,#090000,#2c0000,#650000,#b20000,#fe0c00,#ff6a00,#ffc700,#ffff2a,#ffff91,#ffffd9,#fffffc,#fffff7,#ffc,#ffff7d,#ffff10,#ffb300,#ff5900)"></i><i style="background:linear-gradient(#ffff78,#fffd10,#ffaf00,#ff5000,#ef0100,#980000,#500000,#1d0000,#030000,#040000,#200000,#500,#9f0000,#f60200,#ff5800,#ffb700,#ffff17,#ffff84,#ffffd2,#fffffa,#fffff9,#ffffd0,#ffff82,#ffff14,#ffb500,#ff5900)"></i><i style="background:linear-gradient(#ff9,#ffff3a,#ffd400,#ff7900,#ff1b00,#c00000,#720000,#350000,#0e0000,#000,#0c0000,#320000,#6d0000,#ba0000,#ff1400,#ff7200,#ffce00,#ffff32,#ffff96,#ffffdc,#fffffc,#fffff6,#ffffca,#ffff7a,#ffff0e,#ffb200,#ff5900)"></i><i style="background:linear-gradient(#ffffaf,#ffff57,#ffea00,#ff9000,#ff3100,#d40000,#810000,#400000,#140000,#010000,#080000,#2a0000,#630000,#af0000,#fe0a00,#ff6700,#ffc400,#ffff27,#ffff8f,#ffffd8,#fffffb,#fffff8,#ffc,#ffff7d,#ffff10,#ffb300,#ff5900)"></i><i style="background:linear-gradient(#ffffbd,#ffff6a,#fff703,#ffa000,#ff4000,#e10000,#8d0000,#480000,#180000,#020000,#060000,#250000,#5c0000,#a70000,#fb0400,#ff5f00,#ffbe00,#ffff1f,#ffff8a,#ffffd5,#fffffb,#fffff9,#ffffce,#ffff7f,#ffff12,#ffb400,#ff5900)"></i><i style="background:linear-gradient(#ffffc5,#ffff74,#fffc08,#ffa900,#ff4900,#e90000,#930000,#4c0000,#1b0000,#020000,#050000,#200,#580000,#a20000,#f80300,#ff5b00,#ffba00,#ffff1b,#ffff87,#ffffd3,#fffffa,#fffff9,#ffffcf,#ffff81,#ffff13,#ffb400,#ff5900)"></i></div>
<div class="hm" style="left:213px;top:364.9px;height:123.5px"><i style="background:linear-gradient(#f90100,#a90000,#5f0000,#270000,#070000,#010000,#160000,#430000,#850000,#d80000,#ff3500,#ff9400,#ffed01,#ffff5a,#ffffb4,#ffffed,#fffffe,#ffffe8,#ffffad,#ffff4f,#ffe500,#ff8a00,#ff2b00,#cf0000,#7e0000,#3d0000,#120000,#010000,#0a0000,#2c0000,#600,#b20000,#fc0e00,#ff6a00,#ffc700,#ffff2a,#ffff91,#ffffd8,#fffffb,#fffff7,#ffffcb,#ffff7c,#fffd13,#ffb300,#ff5c00)"></i><i style="background:linear-gradient(#f60000,#a60000,#5c0000,#260000,#070000,#020000,#170000,#450000,#800,#da0000,#ff3800,#ff9600,#ffef02,#ffff5d,#ffffb6,#ffffed,#fffffe,#ffffe7,#ffffab,#ffff4d,#ffe300,#f80,#ff2900,#cd0000,#7c0000,#3c0000,#120000,#010000,#0a0000,#2d0000,#600,#b30000,#fc0f00,#ff6b00,#ffc800,#ffff2b,#ffff91,#ffffd9,#fffffb,#fffff7,#ffffcb,#ffff7c,#fffc13,#ffb300,#ff5c00)"></i><i style="background:linear-gradient(#e70000,#970000,#4f0000,#1d0000,#030000,#050000,#200,#570000,#a10000,#f40500,#ff5a00,#ffb900,#fffe1b,#ffff86,#ffffd3,#fffffa,#fffff8,#ffffce,#ffff7e,#fffd13,#ffb100,#ff5200,#ef0200,#9a0000,#520000,#1e0000,#040000,#040000,#200000,#500,#9e0000,#f20400,#ff5700,#ffb600,#fffe18,#ffff83,#ffffd1,#fffff9,#fffff9,#ffffd0,#ffff82,#fffe16,#ffb500,#ff5c00)"></i><i style="background:linear-gradient(#c00,#800000,#3f0000,#130000,#010000,#0a0000,#2d0000,#680000,#b50000,#fd1300,#ff7000,#ffce00,#ffff34,#ff9,#ffffde,#fffffd,#fffff3,#ffffc2,#ffff6d,#fff608,#ffa200,#ff4300,#e40000,#8f0000,#490000,#190000,#020000,#060000,#240000,#5b0000,#a60000,#f70700,#ff5e00,#ffbd00,#ffff1e,#ff8,#ffffd4,#fffffa,#fffff8,#ffffce,#ffff80,#fffd15,#ffb400,#ff5c00)"></i><i style="background:linear-gradient(#a70000,#620000,#290000,#090000,#010000,#150000,#410000,#830000,#d50000,#ff3200,#ff9000,#ffe902,#ffff57,#ffffb2,#ffffeb,#fffffe,#ffffe9,#ffffae,#ffff52,#ffe600,#ff8c00,#ff2d00,#d10000,#7f0000,#3e0000,#130000,#010000,#090000,#2b0000,#650000,#b10000,#fc0e00,#ff6900,#ffc600,#ffff29,#ffff90,#ffffd8,#fffffb,#fffff7,#ffc,#ffff7d,#fffd13,#ffb300,#ff5c00)"></i><i style="background:linear-gradient(#7a0000,#3e0000,#130000,#010000,#0a0000,#2e0000,#690000,#b70000,#fd1400,#ff7100,#ffcf00,#ffff35,#ffff9a,#ffffde,#fffffd,#fffff3,#ffffc1,#ffff6c,#fff608,#ffa100,#ff4200,#e30000,#8e0000,#490000,#190000,#020000,#060000,#250000,#5b0000,#a60000,#f70700,#ff5e00,#ffbd00,#ffff1e,#ffff89,#ffffd4,#fffffa,#fffff8,#ffffce,#ffff7f,#fffd15,#ffb400,#ff5c00)"></i><i style="background:linear-gradient(#4b0000,#1d0000,#040000,#060000,#200,#580000,#a20000,#f30800,#ff5b00,#ffba00,#fffd1e,#ffff87,#ffffd3,#fffffa,#fffff8,#ffffcd,#ffff7d,#fffb14,#ffb100,#ff5100,#ee0300,#9a0000,#510000,#1e0000,#040000,#040000,#200000,#500,#9e0000,#f30400,#ff5700,#ffb600,#fffe18,#ffff83,#ffffd1,#fffff9,#fffff9,#ffffd0,#ffff81,#fffe16,#ffb500,#ff5c00)"></i><i style="background:linear-gradient(#210000,#070000,#030000,#1a0000,#490000,#8d0000,#de0200,#ff3d00,#ff9b00,#ffef07,#ffff62,#ffffb9,#ffe,#fffffd,#ffffe5,#ffffa7,#ffff48,#ffdf00,#ff8400,#ff2600,#ca0000,#7a0000,#3b0000,#100,#010000,#0b0000,#2e0000,#680000,#b40000,#fd1000,#ff6d00,#ffc900,#ffff2c,#ffff92,#ffffd9,#fffffc,#fffff7,#ffffcb,#ffff7c,#fffd12,#ffb300,#ff5b00)"></i><i style="background:linear-gradient(#060000,#030000,#190000,#480000,#8b0000,#dd0200,#ff3b00,#ff9a00,#ffed08,#ffff60,#ffffb8,#ffe,#fffffd,#ffffe5,#ffffa8,#ffff4a,#ffe001,#ff8500,#ff2700,#cb0000,#7b0000,#3b0000,#120000,#010000,#0a0000,#2e0000,#680000,#b40000,#fd1000,#ff6c00,#ffc900,#ffff2c,#ffff92,#ffffd9,#fffffc,#fffff7,#ffffcb,#ffff7c,#fffd12,#ffb300,#ff5b00)"></i><i style="background:linear-gradient(#050000,#1e0000,#4e0000,#930000,#e30500,#f40,#ffa200,#fff00e,#ffff69,#ffffbd,#fffff0,#fffffd,#ffffe2,#ffffa2,#ffff42,#ffda00,#ff8000,#fe2200,#c60000,#700,#390000,#100000,#010000,#0c0000,#300000,#6a0000,#b70000,#fd1200,#ff6f00,#ffcb00,#ffff2f,#ffff94,#ffffda,#fffffc,#fffff6,#ffffca,#ffff7b,#fffd12,#ffb200,#ff5b00)"></i><i style="background:linear-gradient(#2a0000,#5e0000,#a90000,#f11100,#ff6200,#ffc100,#fffb28,#ffff8c,#ffffd6,#fffffa,#fffff5,#ffffc8,#ff7,#fff713,#ffac00,#ff4c00,#e90300,#960000,#4f0000,#1d0000,#030000,#050000,#200,#570000,#a10000,#f40500,#ff5900,#ffb900,#fffe1a,#ffff85,#ffffd2,#fffffa,#fffff9,#ffffcf,#ffff81,#fffe15,#ffb400,#ff5b00)"></i><i style="background:linear-gradient(#790000,#c40000,#fa2500,#ff7f00,#ffd804,#ffff43,#ffffa3,#ffffe3,#fffffc,#ffffed,#ffffb8,#ffff60,#ffec08,#ff9800,#ff3900,#da0100,#800,#450000,#170000,#020000,#080000,#280000,#600000,#ab0000,#f90a00,#ff6300,#ffc100,#ffff23,#ffff8c,#ffffd6,#fffffb,#fffff8,#ffffcd,#ffff7e,#fffe13,#ffb300,#ff5b00)"></i><i style="background:linear-gradient(#e50d00,#ff4a00,#ffa700,#ffee16,#ffff6d,#ffffc0,#fffff0,#fffffb,#ffffdf,#ffff9d,#ffff3d,#ffd601,#ff7c00,#fd2000,#c30000,#750000,#370000,#100000,#010000,#0c0000,#310000,#6c0000,#b90000,#fd1400,#ff7100,#ffcd00,#ffff30,#ffff95,#ffffdb,#fffffc,#fffff6,#ffffca,#ffff7b,#fffd10,#ffb200,#ff5b00)"></i><i style="background:linear-gradient(#ff8500,#ffd607,#fffe45,#ffffa3,#ffffe2,#fffffb,#ffffec,#ffffb6,#ffff5e,#ffe90b,#ff9700,#ff3800,#d90100,#870000,#400,#170000,#020000,#080000,#280000,#600000,#ab0000,#f90b00,#ff6400,#ffc100,#ffff24,#ffff8c,#ffffd6,#fffffb,#fffff8,#ffffcd,#ffff7e,#fffe12,#ffb300,#ff5a00)"></i><i style="background:linear-gradient(#fff631,#ffff87,#ffffd1,#fffff7,#fffff3,#ffffc8,#ffff78,#fff31c,#ffae00,#ff4e00,#e70800,#980000,#510000,#1e0000,#040000,#050000,#200,#570000,#a00000,#f20600,#ff5800,#ffb800,#fffe1a,#ffff84,#ffffd2,#fffffa,#fffff9,#ffffd0,#ffff81,#ffff14,#ffb400,#ff5a00)"></i><i style="background:linear-gradient(#ffffc4,#ffffef,#fffff8,#ffffda,#ffff97,#fffc3a,#ffd003,#f70,#f82100,#c00000,#720000,#360000,#0f0000,#020000,#0e0000,#300,#6e0000,#b00,#fd1800,#ff7300,#ffce00,#ffff32,#ffff96,#ffffdb,#fffffc,#fffff6,#ffffca,#ffff7a,#fffe0f,#ffb200,#ff5a00)"></i><i style="background:linear-gradient(#fffff7,#ffd,#ffff9f,#fffd44,#ffd508,#ff8000,#f92800,#c70000,#780000,#3a0000,#120000,#020000,#0c0000,#300000,#6b0000,#b70000,#fb1500,#ff6f00,#ffcb00,#ffff2e,#ffff94,#ffffda,#fffffc,#fffff7,#ffffcb,#ffff7b,#fffe10,#ffb200,#ff5900)"></i><i style="background:linear-gradient(#ffff9c,#fffc47,#ffd40c,#ff8200,#f82c00,#c80100,#7a0000,#3c0000,#130000,#020000,#0c0000,#300000,#6a0000,#b60000,#fa1500,#ff6e00,#ffca00,#ffff2d,#ffff93,#ffffd9,#fffffc,#fffff7,#ffffcb,#ffff7c,#fffe10,#ffb300,#ff5900)"></i><i style="background:linear-gradient(#ffcc0c,#ff7d00,#f42c00,#c40200,#780000,#3a0000,#120000,#030000,#0e0000,#320000,#6c0000,#b80000,#f91800,#ff7000,#fc0,#ffff2f,#ffff94,#ffffda,#fffffc,#fffff6,#ffffca,#ffff7b,#fffe0f,#ffb200,#ff5900)"></i><i style="background:linear-gradient(#ec2400,#bb0100,#700000,#350000,#100000,#040000,#100,#360000,#720000,#bf0000,#fa1e00,#ff7600,#ffd100,#ffff35,#ffff98,#ffffdc,#fffffc,#fffff6,#ffffc9,#ffff79,#fffe0e,#ffb200,#ff5800)"></i><i style="background:linear-gradient(#610000,#2d0000,#0d0000,#050000,#160000,#3f0000,#7d0000,#cb0000,#fc2800,#ff8100,#ffd901,#ffff3f,#ffff9f,#ffffe0,#fffffd,#fffff4,#ffffc6,#ffff76,#fffe0c,#ffb100,#ff5800)"></i><i style="background:linear-gradient(#090000,#0a0000,#240000,#580000,#a00000,#e81000,#ff5700,#ffb600,#fff820,#ffff82,#ffffd0,#fffff9,#fffff9,#ffffd0,#ffff82,#ffff14,#ffb500,#ff5800)"></i><i style="background:linear-gradient(#300,#690000,#b40000,#ee1d00,#ff6a00,#ffc600,#fffa2f,#ffff8f,#ffffd7,#fffffa,#fffff6,#ffffcb,#ffff7c,#fffe11,#ffb300,#ff5700)"></i><i style="background:linear-gradient(#c80c00,#f43600,#ff8500,#ffd50c,#fffe44,#ffffa0,#ffffe0,#fffffc,#fffff2,#ffffc4,#ffff74,#fffd0c,#ffb000,#ff5700)"></i><i style="background:linear-gradient(#ffaf01,#ffe821,#ffff67,#ffffb7,#ffffea,#fffffc,#ffffeb,#ffffb9,#ffff68,#fffa07,#ffad00,#ff5700)"></i><i style="background:linear-gradient(#ffff98,#ffffd9,#fffff7,#fffff1,#ffffc4,#ffff75,#fffb10,#ffb100,#ff5600)"></i><i style="background:linear-gradient(#fffff3,#ffffde,#ffffab,#ffff5c,#fff209,#ffa900,#ff5600)"></i><i style="background:linear-gradient(#ffff6c,#ffef1d,#ffb000,#f50)"></i><i style="background:linear-gradient(#ff7d00,#ff6a00,#f50)"></i><i style="background:linear-gradient(#a00000,#d20500,#fc1700,#f50)"></i><i style="background:linear-gradient(#170000,#380000,#6c0000,#b00000,#f90600,#ff5400)"></i><i style="background:linear-gradient(#1f0000,#070000,#090000,#250000,#590000,#a00000,#f50100,#ff5400)"></i><i style="background:linear-gradient(#b10000,#6b0000,#340000,#100000,#030000,#0d0000,#2d0000,#630000,#a90000,#fa0200,#ff5400)"></i><i style="background:linear-gradient(#ff8a00,#f63a00,#ce0800,#860000,#450000,#180000,#030000,#070000,#250000,#5a0000,#a20000,#f70000,#ff5300)"></i><i style="background:linear-gradient(#ffff70,#ffea25,#ffac00,#ff4e00,#e10e00,#900,#510000,#1e0000,#040000,#050000,#200000,#500,#9d0000,#f50000,#ff5300)"></i><i style="background:linear-gradient(#fffff3,#ffffd6,#ffff96,#fff940,#ffd107,#ff7e00,#f92800,#c90000,#7c0000,#3d0000,#140000,#010000,#080000,#270000,#5d0000,#a40000,#f80100,#ff5200)"></i><i style="background:linear-gradient(#ffffaf,#ffffe5,#fffff7,#ffffe4,#ffffac,#ffff53,#ffe10d,#ff9100,#ff3400,#d70100,#870000,#450000,#170000,#020000,#060000,#240000,#590000,#a10000,#f70100,#ff5200)"></i><i style="background:linear-gradient(#ffd111,#fffa47,#ffff9f,#ffffde,#fffff9,#ffffec,#ffffb9,#ffff63,#ffeb10,#ff9e00,#ff4000,#e00200,#8e0000,#4a0000,#1a0000,#030000,#050000,#200,#570000,#a00000,#f60100,#ff5200)"></i><i style="background:linear-gradient(#ef2800,#ff7200,#ffca07,#fff93c,#ffff96,#ffffda,#fffff9,#fffff0,#ffffc0,#ffff6d,#fff112,#ffa500,#ff4600,#e50300,#930000,#4d0000,#1b0000,#030000,#050000,#210000,#560000,#9f0000,#f50100,#ff5100)"></i><i style="background:linear-gradient(#6d0000,#b60000,#ef1f00,#ff6e00,#ffc803,#fffa36,#ffff93,#ffffd9,#fffff9,#fffff2,#ffffc3,#ffff71,#fff312,#ffa700,#ff4900,#e70300,#940000,#4e0000,#1c0000,#030000,#050000,#210000,#500,#9e0000,#f50100,#ff5100)"></i><i style="background:linear-gradient(#0f0000,#310000,#6b0000,#b70000,#f21e00,#ff7000,#ffcb02,#fffc35,#ffff95,#ffffdb,#fffffa,#fffff2,#ffffc3,#ffff70,#fff410,#ffa600,#ff4800,#e70200,#930000,#4d0000,#1c0000,#030000,#050000,#210000,#560000,#9e0000,#f40100,#ff5100)"></i><i style="background:linear-gradient(#100,#040000,#100000,#350000,#710000,#bf0000,#f62200,#f70,#ffd202,#fffe3b,#ffff9c,#ffffde,#fffffc,#fffff1,#ffffbf,#ffff6b,#fff30c,#ffa200,#f40,#e40100,#910000,#4b0000,#1b0000,#030000,#050000,#200,#560000,#9f0000,#f40100,#ff5000)"></i><i style="background:linear-gradient(#670000,#310000,#0d0000,#040000,#140000,#3d0000,#7c0000,#ca0100,#fc2a00,#ff8400,#ffdc04,#ffff48,#ffffa6,#ffffe4,#fffffd,#ffe,#ffffb9,#ffff62,#fff006,#ff9b00,#ff3d00,#df0000,#8c0000,#480000,#190000,#020000,#050000,#230000,#580000,#a00000,#f50200,#ff5000)"></i><i style="background:linear-gradient(#e20d00,#9d0000,#500,#210000,#060000,#060000,#210000,#560000,#9e0000,#eb0b00,#ff5600,#ffb500,#fff91d,#ffff82,#ffffd0,#fffff8,#fffff8,#ffffcf,#ffff81,#fffc18,#ffb400,#ff5400,#f00400,#9c0000,#530000,#1f0000,#040000,#040000,#1f0000,#530000,#9c0000,#f30100,#ff5000)"></i><i style="background:linear-gradient(#ff8600,#fb3000,#ce0200,#7f0000,#3e0000,#140000,#030000,#0c0000,#2f0000,#6a0000,#b70000,#f91800,#ff7000,#ffcd00,#fffe33,#ffff97,#ffffdc,#fffffc,#fffff3,#ffffc3,#ffff70,#fff70b,#ffa600,#ff4700,#e80100,#930000,#4d0000,#1c0000,#030000,#050000,#210000,#560000,#9e0000,#f30200,#ff5000)"></i><i style="background:linear-gradient(#fff421,#ffba00,#ff5e00,#e10,#a90000,#600000,#290000,#090000,#030000,#160000,#420000,#830000,#d30100,#ff3000,#ff8e00,#ffe503,#ffff52,#ffffad,#ffffe8,#fffffe,#ffffec,#ffffb5,#ffff5c,#ffed03,#ff9600,#ff3800,#dc0000,#890000,#460000,#180000,#020000,#060000,#230000,#580000,#a10000,#f40300,#ff4f00)"></i><i style="background:linear-gradient(#ffff9e,#fffe44,#ffd804,#ff8000,#fb2500,#c60000,#760000,#380000,#100000,#020000,#0e0000,#300,#700000,#be0000,#fc1c00,#ff7800,#ffd400,#ffff3b,#ffff9d,#ffffe0,#fffffd,#fffff2,#ffffc0,#ffff6b,#fff608,#ffa200,#f40,#e50000,#910000,#4b0000,#1b0000,#030000,#050000,#200,#560000,#9f0000,#f30300,#ff4f00)"></i><i style="background:linear-gradient(#ffffeb,#ffffb7,#ffff5e,#ffe90a,#ff9600,#ff3700,#d80200,#860000,#430000,#160000,#020000,#090000,#2a0000,#630000,#af0000,#f91000,#ff6900,#ffc700,#fffe2c,#ffff92,#ffffda,#fffffc,#fffff5,#ffffc7,#ffff75,#fffa0d,#fa0,#ff4b00,#eb0100,#960000,#4f0000,#1c0000,#030000,#040000,#210000,#500,#9e0000,#f30300,#ff4f00)"></i><i style="background:linear-gradient(#fffffc,#fffff2,#ffffc1,#ffff6c,#fff10f,#ffa200,#ff4200,#e10200,#8e0000,#490000,#190000,#030000,#070000,#260000,#5d0000,#a80000,#f70b00,#ff6200,#ffc000,#fffe24,#ffff8c,#ffffd6,#fffffb,#fffff7,#ffffcb,#ffff7a,#fffb10,#ffae00,#ff4f00,#ed0100,#980000,#500000,#1d0000,#030000,#040000,#200000,#540000,#9d0000,#f20300,#ff4f00)"></i><i style="background:linear-gradient(#ffffdf,#fffffb,#fffff2,#ffffc2,#ffff6d,#fff30d,#ffa200,#ff4300,#e20200,#8f0000,#490000,#190000,#030000,#070000,#260000,#5d0000,#a80000,#f70900,#ff6100,#ffc000,#fffe23,#ffff8c,#ffffd6,#fffffb,#fffff7,#ffffcb,#ffff7a,#fffc10,#ffae00,#ff4f00,#ee0100,#980000,#500000,#1e0000,#030000,#040000,#200000,#540000,#9d0000,#f20300,#ff4f00)"></i><i style="background:linear-gradient(#ffffa6,#ffffe2,#fffffd,#ffffef,#ffffba,#ffff62,#ffee07,#f90,#ff3a00,#db0100,#800,#400,#160000,#020000,#080000,#290000,#620000,#ae0000,#fa0d00,#ff6700,#ffc500,#ffff29,#ffff91,#ffffd9,#fffffc,#fffff6,#ffffc8,#ffff76,#fffa0d,#ffab00,#ff4c00,#ec0100,#960000,#4f0000,#1d0000,#030000,#040000,#200000,#500,#9e0000,#f20300,#ff4e00)"></i><i style="background:linear-gradient(#ffff61,#ffffb4,#ffffec,#fffffe,#ffffe7,#ffa,#ffff4c,#ffe101,#ff8600,#ff2700,#cb0000,#7a0000,#3a0000,#100,#010000,#0b0000,#300000,#6c0000,#b90000,#fe1600,#ff7400,#ffd000,#ffff37,#ffff9b,#ffffdf,#fffffd,#fffff3,#ffffc2,#ffff6e,#fff709,#ffa500,#ff4600,#e70000,#920000,#4c0000,#1b0000,#030000,#050000,#210000,#560000,#9f0000,#f20300,#ff4e00)"></i><i style="background:linear-gradient(#fffe1d,#ffff7e,#ffc,#fffff7,#fffffb,#ffffd7,#ffff90,#ffff2a,#ffc700,#ff6a00,#fb1000,#b30000,#670000,#2d0000,#0a0000,#010000,#120000,#3c0000,#7b0000,#c00,#ff2700,#ff8600,#ffe000,#ffff4a,#ffffa8,#ffffe6,#fffffe,#ffffef,#ffffb9,#ffff62,#fff103,#ff9b00,#ff3d00,#df0000,#8c0000,#480000,#190000,#020000,#060000,#230000,#580000,#a00000,#f30400,#ff4e00)"></i><i style="background:linear-gradient(#ffe801,#ffff4e,#ffffac,#ffffe8,#fffffe,#ffffec,#ffffb2,#ffff57,#ffe901,#ff8f00,#ff3000,#d20000,#800000,#3e0000,#130000,#010000,#0a0000,#2d0000,#670000,#b40000,#fd1100,#ff6e00,#ffcb00,#ffff30,#ffff96,#ffffdc,#fffffc,#fffff5,#ffffc5,#ffff72,#fff90a,#ffa700,#ff4800,#e90000,#940000,#4d0000,#1c0000,#030000,#050000,#210000,#560000,#9e0000,#f20300,#ff4e00)"></i><i style="background:linear-gradient(#ffca00,#ffff27,#ffff90,#ffffd9,#fffffc,#fffff6,#ffffc8,#ffff75,#fffa0d,#ffa900,#ff4900,#e90100,#930000,#4d0000,#1b0000,#030000,#050000,#230000,#590000,#a40000,#f60600,#ff5d00,#ffbc00,#ffff1e,#ff8,#ffffd4,#fffffa,#fffff8,#ffffcd,#ffff7d,#fffc13,#ffb100,#ff5100,#ef0200,#9a0000,#520000,#1e0000,#040000,#040000,#200000,#540000,#9d0000,#f10300,#ff4e00)"></i><i style="background:linear-gradient(#ffb600,#fffb10,#ffff78,#ffffc9,#fffff6,#fffffc,#ffffdb,#ffff95,#ffff30,#fc0,#ff6f00,#fe1200,#b70000,#6a0000,#2f0000,#0b0000,#010000,#100000,#390000,#780000,#c80000,#ff2400,#ff8300,#ffde00,#ffff47,#ffffa6,#ffffe5,#fffffe,#fffff0,#ffb,#ffff64,#fff204,#ff9c00,#ff3e00,#e10000,#8d0000,#490000,#190000,#020000,#060000,#230000,#580000,#a00000,#f30400,#ff4e00)"></i><i style="background:linear-gradient(#ffaf00,#fff90a,#ffff71,#ffffc4,#fffff4,#fffffd,#ffffde,#ffff9a,#ffff37,#ffd100,#ff7500,#ff1600,#b00,#6e0000,#320000,#0c0000,#000,#0f0000,#370000,#750000,#c50000,#ff2000,#ff7f00,#ffdb00,#ffff43,#ffffa3,#ffffe3,#fffffe,#fffff1,#ffffbd,#ff6,#fff405,#ff9e00,#ff4000,#e20000,#8e0000,#4a0000,#1a0000,#020000,#050000,#200,#570000,#a00000,#f20400,#ff4e00)"></i><i style="background:linear-gradient(#ffb500,#fffb0f,#ff7,#ffffc8,#fffff5,#fffffc,#ffffdb,#ffff96,#ffff31,#ffcd00,#ff7000,#fe1300,#b80000,#6a0000,#2f0000,#0b0000,#010000,#100000,#390000,#780000,#c80000,#ff2300,#ff8200,#fd0,#ffff46,#ffffa6,#ffffe5,#fffffe,#fffff0,#ffb,#ffff64,#fff304,#ff9d00,#ff3e00,#e10000,#8d0000,#490000,#190000,#020000,#050000,#230000,#570000,#a00000,#f20400,#ff4e00)"></i><i style="background:linear-gradient(#ffc700,#ffff24,#ffff8d,#ffffd7,#fffffb,#fffff6,#ffffc9,#ff7,#fffa0e,#ffab00,#ff4b00,#eb0100,#950000,#4e0000,#1c0000,#030000,#050000,#200,#580000,#a20000,#f50500,#ff5b00,#fb0,#ffff1c,#ffff87,#ffffd4,#fffffa,#fffff8,#ffffce,#ffff7e,#fffd13,#ffb100,#ff5200,#ef0200,#9a0000,#520000,#1e0000,#040000,#040000,#200000,#540000,#9d0000,#f10300,#ff4e00)"></i><i style="background:linear-gradient(#ffe500,#ffff49,#ffffa9,#ffffe7,#fffffe,#ffffed,#ffffb5,#ffff5b,#ffec02,#ff9200,#f30,#d50000,#820000,#400000,#140000,#010000,#090000,#2b0000,#650000,#b20000,#fc0f00,#ff6c00,#ffca00,#ffff2e,#ffff95,#ffffdb,#fffffc,#fffff5,#ffffc6,#ffff73,#fffa0b,#ffa900,#ff4900,#ea0000,#950000,#4e0000,#1c0000,#030000,#050000,#210000,#500,#9e0000,#f20300,#ff4e00)"></i><i style="background:linear-gradient(#fffd17,#ffff79,#ffffc9,#fffff6,#fffffb,#ffffda,#ffff94,#ffff2e,#ffcb00,#ff6e00,#fd1200,#b60000,#690000,#2f0000,#0b0000,#010000,#100,#3a0000,#790000,#c90000,#ff2500,#ff8300,#ffde00,#ffff47,#ffffa6,#ffffe5,#fffffe,#ffffef,#ffb,#ffff64,#fff204,#ff9c00,#ff3e00,#e00000,#8d0000,#490000,#190000,#020000,#060000,#230000,#580000,#a00000,#f30400,#ff4e00)"></i><i style="background:linear-gradient(#ffff5a,#ffffaf,#ffffe9,#fffffe,#ffffea,#ffffaf,#ffff53,#ffe502,#ff8c00,#ff2c00,#cf0000,#7e0000,#3d0000,#120000,#010000,#0a0000,#2e0000,#690000,#b60000,#fd1300,#ff7000,#ffcd00,#ff3,#ffff98,#ffd,#fffffd,#fffff4,#ffffc4,#ffff70,#fff80a,#ffa600,#ff4700,#e80000,#930000,#4d0000,#1c0000,#030000,#050000,#210000,#560000,#9e0000,#f20300,#ff4e00)"></i><i style="background:linear-gradient(#ffffa0,#ffffde,#fffffc,#fffff2,#ffffc0,#ffff6a,#fff20a,#ff9f00,#ff4000,#e00100,#8c0000,#480000,#180000,#020000,#070000,#270000,#5e0000,#a00,#f80a00,#ff6300,#ffc100,#ffff25,#ffff8e,#ffffd7,#fffffb,#fffff7,#ffffca,#ffff79,#fffb0f,#ffad00,#ff4e00,#ed0100,#980000,#500000,#1d0000,#030000,#040000,#200000,#500,#9d0000,#f20300,#ff4e00)"></i><i style="background:linear-gradient(#ffffdb,#fffffa,#fffff5,#ffffc7,#ffff75,#fff612,#fa0,#ff4a00,#e70300,#940000,#4d0000,#1c0000,#030000,#060000,#230000,#590000,#a30000,#f40700,#ff5c00,#fb0,#fffe1e,#ff8,#ffffd4,#fffffa,#fffff8,#ffffcd,#ffff7d,#fffd13,#ffb100,#ff5100,#ef0200,#9a0000,#520000,#1e0000,#040000,#040000,#200000,#540000,#9d0000,#f20300,#ff4f00)"></i><i style="background:linear-gradient(#fffffb,#fffff4,#ffffc7,#ffff75,#fff515,#fa0,#ff4b00,#e70400,#950000,#4e0000,#1c0000,#030000,#060000,#230000,#590000,#a30000,#f40800,#ff5c00,#fb0,#fffd1e,#ffff87,#ffffd3,#fffffa,#fffff8,#ffffcd,#ffff7e,#fffc13,#ffb100,#ff5200,#ef0200,#9a0000,#520000,#1e0000,#040000,#040000,#200000,#540000,#9d0000,#f20300,#ff4f00)"></i><i style="background:linear-gradient(#ffffef,#ffffbf,#ffff6a,#ffef10,#ffa000,#ff4100,#df0300,#8d0000,#490000,#190000,#030000,#070000,#270000,#5e0000,#a90000,#f60c00,#ff6200,#ffc100,#fffe25,#ffff8d,#ffffd7,#fffffb,#fffff7,#ffffca,#ffff79,#fffb10,#ffae00,#ff4e00,#ed0100,#980000,#500000,#1d0000,#030000,#040000,#200000,#500,#9d0000,#f20300,#ff4f00)"></i><i style="background:linear-gradient(#ffffa9,#ffff51,#ffe107,#ff8b00,#fd2e00,#cf0100,#7e0000,#3e0000,#130000,#020000,#0b0000,#2f0000,#690000,#b60000,#fb1600,#ff7000,#ffcd00,#ff3,#ffff98,#ffd,#fffffc,#fffff4,#ffffc4,#ffff70,#fff80a,#ffa600,#ff4700,#e80100,#930000,#4d0000,#1c0000,#030000,#050000,#210000,#560000,#9e0000,#f30300,#ff4f00)"></i><i style="background:linear-gradient(#fff82b,#ffc601,#ff6a00,#f41800,#b40000,#680000,#2e0000,#0c0000,#020000,#130000,#3c0000,#7c0000,#c00,#fe2800,#ff8500,#ffdf02,#ffff49,#ffffa8,#ffffe5,#fffffd,#ffe,#ffffb9,#ffff62,#fff005,#ff9b00,#ff3d00,#df0000,#8c0000,#480000,#190000,#020000,#060000,#230000,#580000,#a00000,#f40300,#ff4f00)"></i><i style="background:linear-gradient(#ff9400,#fe3c00,#d80500,#890000,#460000,#180000,#030000,#090000,#2a0000,#620000,#ae0000,#f51200,#ff6700,#ffc500,#fffd2a,#ffff90,#ffffd8,#fffffb,#fffff5,#ffffc8,#ffff76,#fff90f,#ffab00,#ff4c00,#eb0100,#960000,#4f0000,#1d0000,#030000,#040000,#200000,#500,#9e0000,#f30200,#ff5000)"></i><i style="background:linear-gradient(#eb1300,#ac0000,#620000,#2b0000,#0b0000,#030000,#160000,#410000,#820000,#d10100,#fe2f00,#ff8c00,#ffe205,#ffff4f,#ffffac,#ffffe7,#fffffd,#ffffec,#ffffb5,#ffff5d,#ffed04,#ff9700,#ff3900,#d00,#8a0000,#470000,#180000,#020000,#060000,#230000,#580000,#a10000,#f40200,#ff5000)"></i><i style="background:linear-gradient(#730000,#390000,#100,#030000,#100000,#350000,#710000,#c00000,#f92000,#ff7900,#ffd401,#fffe3c,#ffff9d,#ffffdf,#fffffc,#fffff1,#ffffbf,#ffff6a,#fff30a,#ffa200,#ff4300,#e40100,#900000,#4b0000,#1b0000,#030000,#050000,#200,#560000,#9f0000,#f40200,#ff5000)"></i><i style="background:linear-gradient(#170000,#050000,#0c0000,#2d0000,#600,#b20000,#f21900,#ff6a00,#ffc700,#fffc30,#ffff92,#ffffd9,#fffffa,#fffff4,#ffffc6,#ffff73,#fff611,#ffa900,#ff4a00,#e90200,#950000,#4e0000,#1c0000,#030000,#040000,#210000,#500,#9e0000,#f40100,#ff5000)"></i><i style="background:linear-gradient(#0b0000,#290000,#5f0000,#a90000,#ec1500,#ff6100,#ffbf00,#fff82a,#ffff89,#ffffd4,#fffff9,#fffff5,#ffffca,#ffff79,#fff816,#ffae00,#ff4f00,#ec0300,#900,#510000,#1e0000,#030000,#040000,#200000,#540000,#9d0000,#f40100,#ff5100)"></i><i style="background:linear-gradient(#5f0000,#a60000,#e81600,#ff5d00,#fb0,#fff52a,#ffff86,#ffffd1,#fffff7,#fffff5,#ffffcb,#ffff7c,#fff719,#ffb000,#ff5100,#ed0400,#9a0000,#520000,#1e0000,#040000,#040000,#200000,#540000,#9d0000,#f40100,#ff5100)"></i><i style="background:linear-gradient(#e91b00,#ff6000,#ffbc01,#fff42f,#ffff87,#ffffd1,#fffff7,#fffff4,#ffffc9,#ffff79,#fff51a,#ffaf00,#ff5000,#eb0500,#900,#510000,#1e0000,#040000,#040000,#200000,#540000,#9d0000,#f40000,#ff5100)"></i><i style="background:linear-gradient(#ffc408,#fff439,#ffff8e,#ffffd5,#fffff7,#fffff1,#ffffc3,#ffff72,#fff118,#ffa900,#ff4a00,#e60500,#960000,#4f0000,#1d0000,#030000,#050000,#210000,#500,#9e0000,#f50000,#ff5200)"></i><i style="background:linear-gradient(#ffff9f,#ffffdc,#fffff7,#ffffeb,#ffffb8,#ffff64,#ffe913,#ff9e00,#ff4000,#df0400,#8f0000,#4a0000,#1a0000,#030000,#050000,#200,#570000,#9f0000,#f60000,#ff5200)"></i><i style="background:linear-gradient(#fffff5,#ffffe0,#ffffa6,#fffe4d,#ffdb0e,#ff8d00,#fd3200,#d40100,#840000,#430000,#170000,#020000,#070000,#250000,#5a0000,#a20000,#f70100,#ff5200)"></i><i style="background:linear-gradient(#ffff85,#fff23a,#ffc606,#ff7200,#f32400,#c10000,#760000,#3a0000,#120000,#010000,#090000,#290000,#5f0000,#a60000,#f90100,#ff5300)"></i><i style="background:linear-gradient(#ffa000,#fc4800,#d90e00,#930000,#4e0000,#1d0000,#040000,#060000,#200,#560000,#9f0000,#f50000,#ff5300)"></i><i style="background:linear-gradient(#be0700,#7a0000,#3e0000,#150000,#030000,#0a0000,#290000,#5e0000,#a50000,#f80100,#ff5300)"></i><i style="background:linear-gradient(#280000,#0c0000,#050000,#130000,#360000,#6b0000,#b00000,#fb0400,#ff5400)"></i><i style="background:linear-gradient(#100,#2e0000,#620000,#a80000,#f60400,#ff5400)"></i><i style="background:linear-gradient(#8d0000,#c80000,#fa1200,#f50)"></i><i style="background:linear-gradient(#f60,#ff5e00,#f50)"></i><i style="background:linear-gradient(#fffb58,#ffe814,#ffa800,#f50)"></i><i style="background:linear-gradient(#ffffef,#ffffd5,#ffff9e,#ffff4f,#ffed06,#ffa600,#ff5600)"></i><i style="background:linear-gradient(#ffffab,#ffffe2,#fffff9,#ffffec,#ffffbc,#ffff6c,#fff90b,#ffae00,#ff5600)"></i><i style="background:linear-gradient(#ffbe0a,#fff238,#ffff8b,#ffffd3,#fffff8,#fffff5,#ffffcb,#ffff7c,#fffe12,#ffb300,#ff5700)"></i><i style="background:linear-gradient(#d61300,#fa4300,#ff9800,#ffe013,#ffff54,#ffffac,#ffffe5,#fffffc,#fffff0,#ffffbf,#ffff6f,#fffc09,#ffaf00,#ff5700)"></i><i style="background:linear-gradient(#3e0000,#780000,#c20200,#f32900,#ff7a00,#ffd103,#fffe3a,#ff9,#ffffdc,#fffffc,#fffff4,#ffffc7,#ffff78,#fffe0d,#ffb200,#ff5700)"></i><i style="background:linear-gradient(#070000,#0d0000,#2d0000,#640000,#ae0000,#ef1700,#ff6500,#ffc200,#fffb29,#ffff8c,#ffffd5,#fffffa,#fffff7,#ffffcd,#ffff7e,#ff1,#ffb300,#ff5800)"></i><i style="background:linear-gradient(#530000,#200,#080000,#080000,#240000,#580000,#a00000,#ea0e00,#ff5700,#ffb600,#fff91e,#ffff83,#ffffd1,#fffff9,#fffff9,#ffffd0,#ffff82,#ffff14,#ffb500,#ff5800)"></i><i style="background:linear-gradient(#e51800,#ab0000,#630000,#2c0000,#0c0000,#040000,#150000,#3e0000,#7c0000,#ca0000,#fd2600,#ff8000,#ffd900,#ffff3f,#ffff9f,#ffffe0,#fffffd,#fffff4,#ffffc6,#ffff76,#fffe0c,#ffb100,#ff5800)"></i><i style="background:linear-gradient(#ffbf03,#ff6b00,#ee2000,#b70000,#6c0000,#320000,#0e0000,#030000,#100,#380000,#750000,#c20000,#fc1f00,#ff7900,#ffd300,#ffff38,#ffff9a,#ffd,#fffffc,#fffff5,#ffffc8,#ffff78,#fffe0e,#ffb200,#ff5900)"></i><i style="background:linear-gradient(#ffff8c,#fff63a,#ffc905,#ff7100,#f22100,#bc0000,#6f0000,#340000,#0f0000,#020000,#0f0000,#350000,#710000,#be0000,#fc1b00,#ff7600,#ffd100,#ffff35,#ffff98,#ffffdc,#fffffc,#fffff6,#ffffc9,#ffff79,#fffe0e,#ffb200,#ff5900)"></i><i style="background:linear-gradient(#fffff5,#ffffd4,#ffff90,#fff837,#ffca03,#ff7100,#f41f00,#b00,#6f0000,#300,#0e0000,#020000,#0f0000,#350000,#710000,#bf0000,#fd1b00,#ff7600,#ffd100,#ffff35,#ffff98,#ffffdc,#fffffc,#fffff6,#ffffc9,#ffff79,#fffe0e,#ffb200,#ff5900)"></i><i style="background:linear-gradient(#ffffcf,#fffff4,#fffff4,#ffffcb,#ffff7d,#fff322,#ffb300,#ff5400,#e80b00,#9c0000,#540000,#200000,#050000,#050000,#200000,#500,#9d0000,#ef0600,#ff5600,#ffb500,#fffd18,#ffff82,#ffffd1,#fffff9,#fffff9,#ffffd0,#ffff82,#ffff15,#ffb500,#ff5a00)"></i><i style="background:linear-gradient(#fffb3d,#ffff96,#ffffda,#fffff9,#ffffef,#ffffbf,#ffff6a,#ffed14,#ffa200,#ff4300,#e00400,#8f0000,#4a0000,#1a0000,#030000,#070000,#250000,#5c0000,#a60000,#f50900,#ff5e00,#ffbd00,#fffe1f,#ff8,#ffffd4,#fffffa,#fffff8,#ffffce,#ffff80,#ffff13,#ffb400,#ff5a00)"></i><i style="background:linear-gradient(#ff9500,#ffe00e,#ffff54,#ffffaf,#ffffe8,#fffffb,#ffffe7,#ffffad,#ffff51,#ffe206,#ff8c00,#fe2f00,#d10000,#800000,#3f0000,#140000,#020000,#0a0000,#2c0000,#650000,#b10000,#fa0f00,#ff6900,#ffc600,#ffff28,#ffff90,#ffffd8,#fffffb,#fffff7,#ffc,#ffff7d,#fffe11,#ffb300,#ff5a00)"></i><i style="background:linear-gradient(#ed1300,#ff5a00,#ffb900,#fff725,#ffff84,#ffffd1,#fffff7,#fffff6,#ffc,#ffff7c,#fff71b,#ffb100,#ff5100,#eb0600,#9a0000,#520000,#1e0000,#040000,#050000,#210000,#500,#9e0000,#f20500,#ff5700,#ffb600,#fffe18,#ffff83,#ffffd1,#fffff9,#fffff9,#ffffd0,#ffff82,#ffff15,#ffb500,#ff5a00)"></i><i style="background:linear-gradient(#840000,#cf0200,#fd2f00,#ff8b00,#ffe107,#ffff50,#ffffac,#ffffe7,#fffffc,#ffffea,#ffffb0,#ffff56,#ffe605,#ff9000,#ff3100,#d40000,#820000,#400000,#140000,#010000,#090000,#2a0000,#630000,#af0000,#fb0d00,#ff6700,#ffc400,#ffff27,#ffff8f,#ffffd7,#fffffb,#fffff7,#ffc,#ffff7d,#fffe12,#ffb300,#ff5b00)"></i><i style="background:linear-gradient(#300000,#670000,#b30000,#f61700,#ff6d00,#ffca00,#fffd32,#ffff95,#ffffdb,#fffffb,#fffff3,#ffffc2,#ffff6e,#fff40e,#ffa400,#ff4500,#e40200,#910000,#4b0000,#1a0000,#030000,#060000,#240000,#5a0000,#a50000,#f60600,#ff5d00,#ffbc00,#fffe1e,#ff8,#ffffd4,#fffffa,#fffff8,#ffffcf,#ffff80,#fffe14,#ffb400,#ff5b00)"></i><i style="background:linear-gradient(#070000,#230000,#580000,#a20000,#ee0c00,#ff5a00,#ffb900,#fffb20,#ffff86,#ffffd2,#fffff9,#fffff7,#ffffcd,#ffff7d,#fffa17,#ffb100,#ff5100,#ed0400,#9a0000,#520000,#1e0000,#040000,#040000,#200000,#500,#9e0000,#f20400,#ff5700,#ffb600,#fffe18,#ffff83,#ffffd1,#fffff9,#fffff9,#ffffd0,#ffff82,#fffe15,#ffb500,#ff5b00)"></i><i style="background:linear-gradient(#040000,#040000,#1d0000,#4e0000,#930000,#e30400,#f40,#ffa200,#fff10c,#ffff68,#ffffbe,#fffff0,#fffffd,#ffffe2,#ffffa2,#ffff42,#ffdb00,#ff8000,#fe2200,#c60000,#700,#390000,#100000,#010000,#0b0000,#2f0000,#6a0000,#b70000,#fd1200,#ff6f00,#ffcb00,#ffff2f,#ffff94,#ffffda,#fffffc,#fffff6,#ffffca,#ffff7b,#fffd12,#ffb200,#ff5b00)"></i><i style="background:linear-gradient(#1d0000,#050000,#040000,#1d0000,#4e0000,#930000,#e40300,#f40,#ffa200,#fff30b,#ffff69,#ffffbe,#fffff1,#fffffd,#ffffe2,#ffffa2,#ffff42,#ffdb00,#ff8000,#f20,#c60000,#700,#380000,#100000,#010000,#0b0000,#300000,#6a0000,#b70000,#fd1200,#ff6f00,#ffcb00,#ffff2f,#ffff94,#ffffda,#fffffc,#fffff6,#ffffca,#ffff7b,#fffd12,#ffb200,#ff5b00)"></i><i style="background:linear-gradient(#460000,#1a0000,#030000,#070000,#250000,#5c0000,#a70000,#f60a00,#ff6100,#ffc000,#fffe24,#ffff8c,#ffffd6,#fffffb,#fffff6,#ffffca,#ffff79,#fffa11,#ffad00,#ff4d00,#eb0200,#960000,#4f0000,#1d0000,#030000,#050000,#210000,#570000,#a00000,#f40400,#ff5900,#ffb800,#fffe1a,#ffff85,#ffffd2,#fffffa,#fffff9,#ffffcf,#ffff81,#fffe15,#ffb400,#ff5c00)"></i><i style="background:linear-gradient(#750000,#3b0000,#100,#010000,#0c0000,#310000,#6d0000,#b00,#fd1800,#ff7600,#ffd300,#ffff3a,#ffff9e,#ffffe1,#fffffd,#fffff1,#ffffbe,#ffff68,#fff406,#ff9e00,#ff3f00,#e00000,#8c0000,#470000,#180000,#020000,#070000,#260000,#5d0000,#a80000,#f80800,#ff6000,#ffbe00,#ffff20,#ffff8a,#ffffd5,#fffffa,#fffff8,#ffffce,#ffff7f,#fffd14,#ffb400,#ff5c00)"></i><i style="background:linear-gradient(#a30000,#5e0000,#270000,#080000,#020000,#160000,#430000,#860000,#d80000,#ff3600,#ff9400,#ffec02,#ffff5b,#ffffb5,#ffffed,#fffffe,#ffffe8,#ffffac,#ffff4f,#ffe400,#ff8900,#ff2b00,#ce0000,#7d0000,#3d0000,#120000,#010000,#0a0000,#2c0000,#600,#b20000,#fc0e00,#ff6a00,#ffc700,#ffff2a,#ffff91,#ffffd8,#fffffb,#fffff7,#ffffcb,#ffff7c,#fffd13,#ffb300,#ff5c00)"></i><i style="background:linear-gradient(#c90000,#7d0000,#3d0000,#120000,#010000,#0b0000,#2f0000,#6a0000,#b80000,#fe1500,#ff7300,#ffd000,#ffff37,#ffff9b,#ffffdf,#fffffd,#fffff2,#ffffc0,#ffff6b,#fff507,#ffa000,#ff4100,#e20000,#8d0000,#480000,#190000,#020000,#060000,#250000,#5c0000,#a70000,#f80700,#ff5f00,#ffbd00,#ffff1f,#ffff89,#ffffd4,#fffffa,#fffff8,#ffffce,#ffff7f,#fffd15,#ffb400,#ff5c00)"></i><i style="background:linear-gradient(#e50000,#950000,#4e0000,#1c0000,#030000,#050000,#200,#580000,#a30000,#f50600,#ff5c00,#fb0,#ffff1d,#ff8,#ffffd4,#fffffa,#fffff8,#ffffcd,#ffff7d,#fffc12,#ffb000,#ff5000,#ee0200,#900,#510000,#1e0000,#030000,#040000,#200000,#500,#9f0000,#f30400,#ff5700,#ffb700,#fffe18,#ffff84,#ffffd1,#fffff9,#fffff9,#ffffd0,#ffff81,#fffe16,#ffb400,#ff5c00)"></i><i style="background:linear-gradient(#f50000,#a50000,#5c0000,#250000,#070000,#020000,#170000,#450000,#800,#db0000,#ff3800,#ff9700,#ffef02,#ffff5e,#ffffb7,#ffe,#fffffe,#ffffe7,#ffa,#ffff4c,#ffe200,#f80,#ff2900,#cd0000,#7c0000,#3c0000,#120000,#010000,#0a0000,#2d0000,#670000,#b30000,#fc0f00,#ff6b00,#ffc800,#ffff2b,#ffff91,#ffffd9,#fffffb,#fffff7,#ffffcb,#ffff7c,#fffc13,#ffb300,#ff5c00)"></i></div>
<svg width="550" height="520" viewBox="0 0 550 520">
<defs><linearGradient id="cbg" x1="0" y1="1" x2="0" y2="0"><stop offset="0" stop-color="#fff"/><stop offset=".25" stop-color="#ff0"/><stop offset=".625" stop-color="#f00"/><stop offset="1" stop-color="#000"/></linearGradient></defs>
<path d="M17.3 109.1L89 126.2" class="ax"/>
<path d="M89 126.2L126.7 97.5" class="ax"/>
<path d="M17.3 109.1L16.8 59.5" class="ax"/>
<path d="M17.3 109.1L18.8 108.2" class="ax"/>
<path d="M36.2 113.6L37.6 112.7" class="ax"/>
<path d="M55.9 118.3L57.2 117.4" class="ax"/>
<path d="M76.3 123.2L77.6 122.2" class="ax"/>
<path d="M89 126.2L87.3 125.8" class="ax"/>
<path d="M109 111L107.4 110.6" class="ax"/>
<path d="M126.7 97.5L125.1 97.2" class="ax"/>
<path d="M17.3 109.1h1.3" class="ax"/>
<path d="M17.1 84.5h1.3" class="ax"/>
<path d="M16.8 59.5h1.3" class="ax"/>
<text x="13.2" y="117.1" class="tk" text-anchor="middle">0</text>
<text x="30.5" y="122" class="tk" text-anchor="middle">50</text>
<text x="48.4" y="127" class="tk" text-anchor="middle">100</text>
<text x="68.3" y="131.4" class="tk" text-anchor="middle">150</text>
<text x="94.3" y="132.9" class="tk" text-anchor="middle">0</text>
<text x="115.8" y="118.4" class="tk" text-anchor="middle">50</text>
<text x="135.6" y="105" class="tk" text-anchor="middle">100</text>
<text x="15.1" y="110.7" class="tk" text-anchor="end">0</text>
<text x="14.9" y="86.1" class="tk" text-anchor="end">0.5</text>
<text x="13" y="61.1" class="tk" text-anchor="end">1</text>
<text transform="translate(48.7 139.3) rotate(12.5)" class="al" text-anchor="middle"><tspan class="ph">ϕ</tspan> (degree)</text>
<text transform="translate(118.5 128.3) rotate(-36)" class="al" text-anchor="middle">P<tspan dx=".6" dy="1.7" font-size="5.6">in</tspan><tspan dy="-1.7"> (W)</tspan></text>
<text x="72.5" y="37.6" class="ti" text-anchor="middle">L = 100 m</text>
<rect x="141.2" y="17.7" width="6.6" height="124.2" fill="url(#cbg)" stroke="#555" stroke-width=".4"/>
<text x="149.7" y="144.3" class="cbt">0</text>
<text x="149.7" y="119.5" class="cbt">0.2</text>
<path d="M147.8 117.1h-1.2" stroke="#333" stroke-width=".4"/>
<text x="149.7" y="94.6" class="cbt">0.4</text>
<path d="M147.8 92.2h-1.2" stroke="#333" stroke-width=".4"/>
<text x="149.7" y="69.8" class="cbt">0.6</text>
<path d="M147.8 67.4h-1.2" stroke="#333" stroke-width=".4"/>
<text x="149.7" y="44.9" class="cbt">0.8</text>
<path d="M147.8 42.5h-1.2" stroke="#333" stroke-width=".4"/>
<text x="149.7" y="20.1" class="cbt">1</text>
<text transform="translate(168.3 80.5) rotate(-90)" class="cbl" text-anchor="middle">Transmission</text>
<text x="64.3" y="167.5" class="pl" text-anchor="middle">a)</text>
<path d="M17.3 280.1L89 297.2" class="ax"/>
<path d="M89 297.2L126.7 268.5" class="ax"/>
<path d="M17.3 280.1L16.8 230.5" class="ax"/>
<path d="M17.3 280.1L18.8 279.2" class="ax"/>
<path d="M36.2 284.6L37.6 283.7" class="ax"/>
<path d="M55.9 289.3L57.2 288.4" class="ax"/>
<path d="M76.3 294.2L77.6 293.2" class="ax"/>
<path d="M89 297.2L87.3 296.8" class="ax"/>
<path d="M109 282L107.4 281.6" class="ax"/>
<path d="M126.7 268.5L125.1 268.2" class="ax"/>
<path d="M17.3 280.1h1.3" class="ax"/>
<path d="M17.1 255.5h1.3" class="ax"/>
<path d="M16.8 230.5h1.3" class="ax"/>
<text x="13.2" y="288.1" class="tk" text-anchor="middle">0</text>
<text x="30.5" y="293" class="tk" text-anchor="middle">50</text>
<text x="48.4" y="298" class="tk" text-anchor="middle">100</text>
<text x="68.3" y="302.4" class="tk" text-anchor="middle">150</text>
<text x="94.3" y="303.9" class="tk" text-anchor="middle">0</text>
<text x="115.8" y="289.4" class="tk" text-anchor="middle">50</text>
<text x="135.6" y="276" class="tk" text-anchor="middle">100</text>
<text x="15.1" y="281.7" class="tk" text-anchor="end">0</text>
<text x="14.9" y="257.1" class="tk" text-anchor="end">0.5</text>
<text x="13" y="232.1" class="tk" text-anchor="end">1</text>
<text transform="translate(48.7 310.3) rotate(12.5)" class="al" text-anchor="middle"><tspan class="ph">ϕ</tspan> (degree)</text>
<text transform="translate(118.5 299.3) rotate(-36)" class="al" text-anchor="middle">P<tspan dx=".6" dy="1.7" font-size="5.6">in</tspan><tspan dy="-1.7"> (W)</tspan></text>
<text x="72.5" y="208.6" class="ti" text-anchor="middle">L = 300 m</text>
<rect x="141.2" y="188.7" width="6.6" height="124.2" fill="url(#cbg)" stroke="#555" stroke-width=".4"/>
<text x="149.7" y="315.3" class="cbt">0</text>
<text x="149.7" y="290.5" class="cbt">0.2</text>
<path d="M147.8 288.1h-1.2" stroke="#333" stroke-width=".4"/>
<text x="149.7" y="265.6" class="cbt">0.4</text>
<path d="M147.8 263.2h-1.2" stroke="#333" stroke-width=".4"/>
<text x="149.7" y="240.8" class="cbt">0.6</text>
<path d="M147.8 238.4h-1.2" stroke="#333" stroke-width=".4"/>
<text x="149.7" y="215.9" class="cbt">0.8</text>
<path d="M147.8 213.5h-1.2" stroke="#333" stroke-width=".4"/>
<text x="149.7" y="191.1" class="cbt">1</text>
<text transform="translate(168.3 251.5) rotate(-90)" class="cbl" text-anchor="middle">Transmission</text>
<text x="65.7" y="338.5" class="pl" text-anchor="middle">d)</text>
<path d="M17.3 456.3L89 473.4" class="ax"/>
<path d="M89 473.4L126.7 444.7" class="ax"/>
<path d="M17.3 456.3L16.8 406.7" class="ax"/>
<path d="M17.3 456.3L18.8 455.4" class="ax"/>
<path d="M36.2 460.8L37.6 459.9" class="ax"/>
<path d="M55.9 465.5L57.2 464.6" class="ax"/>
<path d="M76.3 470.4L77.6 469.4" class="ax"/>
<path d="M89 473.4L87.3 473" class="ax"/>
<path d="M109 458.2L107.4 457.8" class="ax"/>
<path d="M126.7 444.7L125.1 444.4" class="ax"/>
<path d="M17.3 456.3h1.3" class="ax"/>
<path d="M17.1 431.7h1.3" class="ax"/>
<path d="M16.8 406.7h1.3" class="ax"/>
<text x="13.2" y="464.3" class="tk" text-anchor="middle">0</text>
<text x="30.5" y="469.2" class="tk" text-anchor="middle">50</text>
<text x="48.4" y="474.2" class="tk" text-anchor="middle">100</text>
<text x="68.3" y="478.6" class="tk" text-anchor="middle">150</text>
<text x="94.3" y="480.1" class="tk" text-anchor="middle">0</text>
<text x="115.8" y="465.6" class="tk" text-anchor="middle">50</text>
<text x="135.6" y="452.2" class="tk" text-anchor="middle">100</text>
<text x="15.1" y="457.9" class="tk" text-anchor="end">0</text>
<text x="14.9" y="433.3" class="tk" text-anchor="end">0.5</text>
<text x="13" y="408.3" class="tk" text-anchor="end">1</text>
<text transform="translate(48.7 486.5) rotate(12.5)" class="al" text-anchor="middle"><tspan class="ph">ϕ</tspan> (degree)</text>
<text transform="translate(118.5 475.5) rotate(-36)" class="al" text-anchor="middle">P<tspan dx=".6" dy="1.7" font-size="5.6">in</tspan><tspan dy="-1.7"> (W)</tspan></text>
<text x="72.5" y="384.8" class="ti" text-anchor="middle">L = 500 m</text>
<rect x="141.2" y="364.9" width="6.6" height="124.2" fill="url(#cbg)" stroke="#555" stroke-width=".4"/>
<text x="149.7" y="491.5" class="cbt">0</text>
<text x="149.7" y="466.7" class="cbt">0.2</text>
<path d="M147.8 464.3h-1.2" stroke="#333" stroke-width=".4"/>
<text x="149.7" y="441.8" class="cbt">0.4</text>
<path d="M147.8 439.4h-1.2" stroke="#333" stroke-width=".4"/>
<text x="149.7" y="417" class="cbt">0.6</text>
<path d="M147.8 414.6h-1.2" stroke="#333" stroke-width=".4"/>
<text x="149.7" y="392.1" class="cbt">0.8</text>
<path d="M147.8 389.7h-1.2" stroke="#333" stroke-width=".4"/>
<text x="149.7" y="367.3" class="cbt">1</text>
<text transform="translate(168.3 427.7) rotate(-90)" class="cbl" text-anchor="middle">Transmission</text>
<text x="65.7" y="515" class="pl" text-anchor="middle">g)</text>
<rect x="213.8" y="17.7" width="111.5" height="123.5" fill="none" stroke="#303030" stroke-width=".7"/>
<path d="M213.8 141.2v-1.2M213.8 17.7v1.2" class="ax2"/>
<text x="213.8" y="149.1" class="tk" text-anchor="middle">0</text>
<path d="M244.8 141.2v-1.2M244.8 17.7v1.2" class="ax2"/>
<text x="244.8" y="149.1" class="tk" text-anchor="middle">50</text>
<path d="M275.7 141.2v-1.2M275.7 17.7v1.2" class="ax2"/>
<text x="275.7" y="149.1" class="tk" text-anchor="middle">100</text>
<path d="M306.7 141.2v-1.2M306.7 17.7v1.2" class="ax2"/>
<text x="306.7" y="149.1" class="tk" text-anchor="middle">150</text>
<path d="M213.8 141.2h1.2M325.3 141.2h-1.2" class="ax2"/>
<text x="212" y="143.3" class="tk" text-anchor="end">0</text>
<path d="M213.8 116.5h1.2M325.3 116.5h-1.2" class="ax2"/>
<text x="212" y="118.6" class="tk" text-anchor="end">20</text>
<path d="M213.8 91.8h1.2M325.3 91.8h-1.2" class="ax2"/>
<text x="212" y="93.9" class="tk" text-anchor="end">40</text>
<path d="M213.8 67.1h1.2M325.3 67.1h-1.2" class="ax2"/>
<text x="212" y="69.2" class="tk" text-anchor="end">60</text>
<path d="M213.8 42.4h1.2M325.3 42.4h-1.2" class="ax2"/>
<text x="212" y="44.5" class="tk" text-anchor="end">80</text>
<path d="M213.8 17.7h1.2M325.3 17.7h-1.2" class="ax2"/>
<text x="212" y="19.8" class="tk" text-anchor="end">100</text>
<text x="269.6" y="157.2" class="al" text-anchor="middle"><tspan class="ph">ϕ</tspan> (degree)</text>
<text transform="translate(195.4 79.4) rotate(-90)" class="al" text-anchor="middle">P<tspan dx=".6" dy="1.7" font-size="5.6">in</tspan><tspan dy="-1.7"> (W)</tspan></text>
<text x="269.6" y="15.4" class="ti" text-anchor="middle">L = 100 m</text>
<rect x="328" y="17.7" width="7.1" height="123.5" fill="url(#cbg)" stroke="#555" stroke-width=".4"/>
<text x="337" y="143.6" class="cbt">0</text>
<text x="337" y="118.9" class="cbt">0.2</text>
<path d="M335.1 116.5h-1.2" stroke="#333" stroke-width=".4"/>
<text x="337" y="94.2" class="cbt">0.4</text>
<path d="M335.1 91.8h-1.2" stroke="#333" stroke-width=".4"/>
<text x="337" y="69.5" class="cbt">0.6</text>
<path d="M335.1 67.1h-1.2" stroke="#333" stroke-width=".4"/>
<text x="337" y="44.8" class="cbt">0.8</text>
<path d="M335.1 42.4h-1.2" stroke="#333" stroke-width=".4"/>
<text x="337" y="20.1" class="cbt">1</text>
<text transform="translate(355.8 80.1) rotate(-90)" class="cbl" text-anchor="middle">Transmission</text>
<text x="269.3" y="167.5" class="pl" text-anchor="middle">b)</text>
<rect x="213.8" y="188.6" width="111.5" height="123.5" fill="none" stroke="#303030" stroke-width=".7"/>
<path d="M213.8 312.1v-1.2M213.8 188.6v1.2" class="ax2"/>
<text x="213.8" y="320" class="tk" text-anchor="middle">0</text>
<path d="M244.8 312.1v-1.2M244.8 188.6v1.2" class="ax2"/>
<text x="244.8" y="320" class="tk" text-anchor="middle">50</text>
<path d="M275.7 312.1v-1.2M275.7 188.6v1.2" class="ax2"/>
<text x="275.7" y="320" class="tk" text-anchor="middle">100</text>
<path d="M306.7 312.1v-1.2M306.7 188.6v1.2" class="ax2"/>
<text x="306.7" y="320" class="tk" text-anchor="middle">150</text>
<path d="M213.8 312.1h1.2M325.3 312.1h-1.2" class="ax2"/>
<text x="212" y="314.2" class="tk" text-anchor="end">0</text>
<path d="M213.8 287.4h1.2M325.3 287.4h-1.2" class="ax2"/>
<text x="212" y="289.5" class="tk" text-anchor="end">20</text>
<path d="M213.8 262.7h1.2M325.3 262.7h-1.2" class="ax2"/>
<text x="212" y="264.8" class="tk" text-anchor="end">40</text>
<path d="M213.8 238h1.2M325.3 238h-1.2" class="ax2"/>
<text x="212" y="240.1" class="tk" text-anchor="end">60</text>
<path d="M213.8 213.3h1.2M325.3 213.3h-1.2" class="ax2"/>
<text x="212" y="215.4" class="tk" text-anchor="end">80</text>
<path d="M213.8 188.6h1.2M325.3 188.6h-1.2" class="ax2"/>
<text x="212" y="190.7" class="tk" text-anchor="end">100</text>
<text x="269.6" y="328.1" class="al" text-anchor="middle"><tspan class="ph">ϕ</tspan> (degree)</text>
<text transform="translate(195.4 250.4) rotate(-90)" class="al" text-anchor="middle">P<tspan dx=".6" dy="1.7" font-size="5.6">in</tspan><tspan dy="-1.7"> (W)</tspan></text>
<text x="269.6" y="186.3" class="ti" text-anchor="middle">L = 300 m</text>
<rect x="328" y="188.6" width="7.1" height="123.5" fill="url(#cbg)" stroke="#555" stroke-width=".4"/>
<text x="337" y="314.5" class="cbt">0</text>
<text x="337" y="289.8" class="cbt">0.2</text>
<path d="M335.1 287.4h-1.2" stroke="#333" stroke-width=".4"/>
<text x="337" y="265.1" class="cbt">0.4</text>
<path d="M335.1 262.7h-1.2" stroke="#333" stroke-width=".4"/>
<text x="337" y="240.4" class="cbt">0.6</text>
<path d="M335.1 238h-1.2" stroke="#333" stroke-width=".4"/>
<text x="337" y="215.7" class="cbt">0.8</text>
<path d="M335.1 213.3h-1.2" stroke="#333" stroke-width=".4"/>
<text x="337" y="191" class="cbt">1</text>
<text transform="translate(355.8 251.1) rotate(-90)" class="cbl" text-anchor="middle">Transmission</text>
<text x="270" y="338.9" class="pl" text-anchor="middle">e)</text>
<rect x="213.8" y="364.9" width="111.5" height="123.5" fill="none" stroke="#303030" stroke-width=".7"/>
<path d="M213.8 488.4v-1.2M213.8 364.9v1.2" class="ax2"/>
<text x="213.8" y="496.3" class="tk" text-anchor="middle">0</text>
<path d="M244.8 488.4v-1.2M244.8 364.9v1.2" class="ax2"/>
<text x="244.8" y="496.3" class="tk" text-anchor="middle">50</text>
<path d="M275.7 488.4v-1.2M275.7 364.9v1.2" class="ax2"/>
<text x="275.7" y="496.3" class="tk" text-anchor="middle">100</text>
<path d="M306.7 488.4v-1.2M306.7 364.9v1.2" class="ax2"/>
<text x="306.7" y="496.3" class="tk" text-anchor="middle">150</text>
<path d="M213.8 488.4h1.2M325.3 488.4h-1.2" class="ax2"/>
<text x="212" y="490.5" class="tk" text-anchor="end">0</text>
<path d="M213.8 463.7h1.2M325.3 463.7h-1.2" class="ax2"/>
<text x="212" y="465.8" class="tk" text-anchor="end">20</text>
<path d="M213.8 439h1.2M325.3 439h-1.2" class="ax2"/>
<text x="212" y="441.1" class="tk" text-anchor="end">40</text>
<path d="M213.8 414.3h1.2M325.3 414.3h-1.2" class="ax2"/>
<text x="212" y="416.4" class="tk" text-anchor="end">60</text>
<path d="M213.8 389.6h1.2M325.3 389.6h-1.2" class="ax2"/>
<text x="212" y="391.7" class="tk" text-anchor="end">80</text>
<path d="M213.8 364.9h1.2M325.3 364.9h-1.2" class="ax2"/>
<text x="212" y="367" class="tk" text-anchor="end">100</text>
<text x="269.6" y="504.4" class="al" text-anchor="middle"><tspan class="ph">ϕ</tspan> (degree)</text>
<text transform="translate(195.4 426.6) rotate(-90)" class="al" text-anchor="middle">P<tspan dx=".6" dy="1.7" font-size="5.6">in</tspan><tspan dy="-1.7"> (W)</tspan></text>
<text x="269.6" y="362.6" class="ti" text-anchor="middle">L = 500 m</text>
<rect x="328" y="364.9" width="7.1" height="123.5" fill="url(#cbg)" stroke="#555" stroke-width=".4"/>
<text x="337" y="490.8" class="cbt">0</text>
<text x="337" y="466.1" class="cbt">0.2</text>
<path d="M335.1 463.7h-1.2" stroke="#333" stroke-width=".4"/>
<text x="337" y="441.4" class="cbt">0.4</text>
<path d="M335.1 439h-1.2" stroke="#333" stroke-width=".4"/>
<text x="337" y="416.7" class="cbt">0.6</text>
<path d="M335.1 414.3h-1.2" stroke="#333" stroke-width=".4"/>
<text x="337" y="392" class="cbt">0.8</text>
<path d="M335.1 389.6h-1.2" stroke="#333" stroke-width=".4"/>
<text x="337" y="367.3" class="cbt">1</text>
<text transform="translate(355.8 427.3) rotate(-90)" class="cbl" text-anchor="middle">Transmission</text>
<text x="270.6" y="515" class="pl" text-anchor="middle">h)</text>
<clipPath id="cp1"><rect x="393.6" y="12.5" width="146.6" height="131"/></clipPath>
<rect x="394.6" y="13.1" width="144.6" height="129.6" fill="none" stroke="#2b2b2b" stroke-width="1.05"/>
<path d="M394.6 142.7v-1.5M394.6 13.1v1.5" class="ax3"/>
<text x="394.6" y="150.3" class="tk t2" text-anchor="middle">0</text>
<path d="M410.7 142.7v-1.5M410.7 13.1v1.5" class="ax3"/>
<text x="410.7" y="150.3" class="tk t2" text-anchor="middle">20</text>
<path d="M426.7 142.7v-1.5M426.7 13.1v1.5" class="ax3"/>
<text x="426.7" y="150.3" class="tk t2" text-anchor="middle">40</text>
<path d="M442.8 142.7v-1.5M442.8 13.1v1.5" class="ax3"/>
<text x="442.8" y="150.3" class="tk t2" text-anchor="middle">60</text>
<path d="M458.9 142.7v-1.5M458.9 13.1v1.5" class="ax3"/>
<text x="458.9" y="150.3" class="tk t2" text-anchor="middle">80</text>
<path d="M474.9 142.7v-1.5M474.9 13.1v1.5" class="ax3"/>
<text x="474.9" y="150.3" class="tk t2" text-anchor="middle">100</text>
<path d="M491 142.7v-1.5M491 13.1v1.5" class="ax3"/>
<text x="491" y="150.3" class="tk t2" text-anchor="middle">120</text>
<path d="M507.1 142.7v-1.5M507.1 13.1v1.5" class="ax3"/>
<text x="507.1" y="150.3" class="tk t2" text-anchor="middle">140</text>
<path d="M523.1 142.7v-1.5M523.1 13.1v1.5" class="ax3"/>
<text x="523.1" y="150.3" class="tk t2" text-anchor="middle">160</text>
<path d="M539.2 142.7v-1.5M539.2 13.1v1.5" class="ax3"/>
<text x="539.2" y="150.3" class="tk t2" text-anchor="middle">180</text>
<path d="M394.6 142.7h1.5M539.2 142.7h-1.5" class="ax3"/>
<text x="392.2" y="144.7" class="tk t2" text-anchor="end">0</text>
<path d="M394.6 126.5h1.5M539.2 126.5h-1.5" class="ax3"/>
<text x="392.2" y="128.5" class="tk t2" text-anchor="end">0.5</text>
<path d="M394.6 110.3h1.5M539.2 110.3h-1.5" class="ax3"/>
<text x="392.2" y="112.3" class="tk t2" text-anchor="end">1</text>
<path d="M394.6 94.1h1.5M539.2 94.1h-1.5" class="ax3"/>
<text x="392.2" y="96.1" class="tk t2" text-anchor="end">1.5</text>
<path d="M394.6 77.9h1.5M539.2 77.9h-1.5" class="ax3"/>
<text x="392.2" y="79.9" class="tk t2" text-anchor="end">2</text>
<path d="M394.6 61.7h1.5M539.2 61.7h-1.5" class="ax3"/>
<text x="392.2" y="63.7" class="tk t2" text-anchor="end">2.5</text>
<path d="M394.6 45.5h1.5M539.2 45.5h-1.5" class="ax3"/>
<text x="392.2" y="47.5" class="tk t2" text-anchor="end">3</text>
<path d="M394.6 29.3h1.5M539.2 29.3h-1.5" class="ax3"/>
<text x="392.2" y="31.3" class="tk t2" text-anchor="end">3.5</text>
<path d="M394.6 13.1h1.5M539.2 13.1h-1.5" class="ax3"/>
<text x="392.2" y="15.1" class="tk t2" text-anchor="end">4</text>
<path d="M394.6 142.3 403.9 142.3 404.2 142.2 411.1 142.2 411.4 142.1 414.9 142.1 415.2 142 417.2 142 417.5 141.9 418.9 141.9 419.2 141.8 420.4 141.8 420.7 141.7 421.3 141.7 421.5 141.6 422.1 141.6 422.4 141.5 423 141.5 423.3 141.4 423.6 141.4 423.9 141.3 424.2 141.2 424.4 141.2 424.7 141.1 425 141 425.3 140.9 425.6 140.8 425.9 140.7 426.2 140.6 426.5 140.5 426.8 140.3 427.1 140.1 427.3 139.9 427.6 139.6 427.9 139.3 428.2 138.9 428.5 138.5 428.8 137.8 429.1 137 429.4 135.8 429.7 133.9 430 130.8 430.2 124 430.5 99 430.8 11.5 431.1 116.5 431.4 128.1 431.7 132.6 432 135 432.3 136.4 432.6 137.4 432.9 138.2 433.1 138.7 433.4 139.1 433.7 139.5 434 139.8 434.3 140 434.6 140.2 434.9 140.4 435.2 140.5 435.5 140.7 435.7 140.8 436 140.9 436.3 141 436.6 141.1 436.9 141.1 437.2 141.2 437.5 141.3 437.8 141.3 438.1 141.4 438.4 141.4 438.6 141.5 438.9 141.5 439.2 141.6 439.8 141.6 440.1 141.7 441 141.7 441.3 141.8 442.4 141.8 442.7 141.9 444.2 141.9 444.4 142 446.5 142 446.8 142.1 450.2 142.1 450.5 142.2 457.5 142.2 457.8 142.3 476 142.3 476.3 142.2 483.3 142.2 483.6 142.1 487 142.1 487.3 142 489.4 142 489.6 141.9 491.1 141.9 491.4 141.8 492.5 141.8 492.8 141.7 493.7 141.7 494 141.6 494.6 141.6 494.9 141.5 495.2 141.5 495.4 141.4 495.7 141.4 496 141.3 496.3 141.3 496.6 141.2 496.9 141.1 497.2 141.1 497.5 141 497.8 140.9 498.1 140.8 498.3 140.7 498.6 140.5 498.9 140.4 499.2 140.2 499.5 140 499.8 139.8 500.1 139.5 500.4 139.1 500.7 138.7 500.9 138.2 501.2 137.4 501.5 136.4 501.8 135 502.1 132.6 502.4 128.1 502.7 116.5 503 11.5 503.3 99 503.6 124 503.8 130.8 504.1 133.9 504.4 135.8 504.7 137 505 137.8 505.3 138.5 505.6 138.9 505.9 139.3 506.2 139.6 506.5 139.9 506.7 140.1 507 140.3 507.3 140.5 507.6 140.6 507.9 140.7 508.2 140.8 508.5 140.9 508.8 141 509.1 141.1 509.4 141.2 509.6 141.2 509.9 141.3 510.2 141.4 510.5 141.4 510.8 141.5 511.4 141.5 511.7 141.6 512.3 141.6 512.5 141.7 513.1 141.7 513.4 141.8 514.6 141.8 514.9 141.9 516.3 141.9 516.6 142 518.6 142 518.9 142.1 522.4 142.1 522.7 142.2 529.6 142.2 529.9 142.3 539.2 142.3" fill="none" stroke="#d95319" stroke-width=".82" stroke-linejoin="round" clip-path="url(#cp1)"/>
<text x="466.9" y="157.9" class="al" text-anchor="middle"><tspan class="ph">ϕ</tspan> (degree)</text>
<text transform="translate(381.9 77.9) rotate(-90)" class="al" text-anchor="middle" xml:space="preserve">Switching power  (W)</text>
<text x="394.9" y="10.9" class="ex">×<tspan dx=".5">10</tspan><tspan dy="-2.1" font-size="4">4</tspan></text>
<text x="465.5" y="167.5" class="pl" text-anchor="middle">c)</text>
<clipPath id="cp2"><rect x="394.5" y="182.5" width="146.9" height="131"/></clipPath>
<rect x="395.5" y="183.1" width="144.9" height="129.6" fill="none" stroke="#2b2b2b" stroke-width="1.05"/>
<path d="M395.5 312.7v-1.5M395.5 183.1v1.5" class="ax3"/>
<text x="395.5" y="320.3" class="tk t2" text-anchor="middle">0</text>
<path d="M411.6 312.7v-1.5M411.6 183.1v1.5" class="ax3"/>
<text x="411.6" y="320.3" class="tk t2" text-anchor="middle">20</text>
<path d="M427.7 312.7v-1.5M427.7 183.1v1.5" class="ax3"/>
<text x="427.7" y="320.3" class="tk t2" text-anchor="middle">40</text>
<path d="M443.8 312.7v-1.5M443.8 183.1v1.5" class="ax3"/>
<text x="443.8" y="320.3" class="tk t2" text-anchor="middle">60</text>
<path d="M459.9 312.7v-1.5M459.9 183.1v1.5" class="ax3"/>
<text x="459.9" y="320.3" class="tk t2" text-anchor="middle">80</text>
<path d="M476 312.7v-1.5M476 183.1v1.5" class="ax3"/>
<text x="476" y="320.3" class="tk t2" text-anchor="middle">100</text>
<path d="M492.1 312.7v-1.5M492.1 183.1v1.5" class="ax3"/>
<text x="492.1" y="320.3" class="tk t2" text-anchor="middle">120</text>
<path d="M508.2 312.7v-1.5M508.2 183.1v1.5" class="ax3"/>
<text x="508.2" y="320.3" class="tk t2" text-anchor="middle">140</text>
<path d="M524.3 312.7v-1.5M524.3 183.1v1.5" class="ax3"/>
<text x="524.3" y="320.3" class="tk t2" text-anchor="middle">160</text>
<path d="M540.4 312.7v-1.5M540.4 183.1v1.5" class="ax3"/>
<text x="540.4" y="320.3" class="tk t2" text-anchor="middle">180</text>
<path d="M395.5 312.7h1.5M540.4 312.7h-1.5" class="ax3"/>
<text x="393.1" y="314.7" class="tk t2" text-anchor="end">0</text>
<path d="M395.5 296.5h1.5M540.4 296.5h-1.5" class="ax3"/>
<text x="393.1" y="298.5" class="tk t2" text-anchor="end">0.5</text>
<path d="M395.5 280.3h1.5M540.4 280.3h-1.5" class="ax3"/>
<text x="393.1" y="282.3" class="tk t2" text-anchor="end">1</text>
<path d="M395.5 264.1h1.5M540.4 264.1h-1.5" class="ax3"/>
<text x="393.1" y="266.1" class="tk t2" text-anchor="end">1.5</text>
<path d="M395.5 247.9h1.5M540.4 247.9h-1.5" class="ax3"/>
<text x="393.1" y="249.9" class="tk t2" text-anchor="end">2</text>
<path d="M395.5 231.7h1.5M540.4 231.7h-1.5" class="ax3"/>
<text x="393.1" y="233.7" class="tk t2" text-anchor="end">2.5</text>
<path d="M395.5 215.5h1.5M540.4 215.5h-1.5" class="ax3"/>
<text x="393.1" y="217.5" class="tk t2" text-anchor="end">3</text>
<path d="M395.5 199.3h1.5M540.4 199.3h-1.5" class="ax3"/>
<text x="393.1" y="201.3" class="tk t2" text-anchor="end">3.5</text>
<path d="M395.5 183.1h1.5M540.4 183.1h-1.5" class="ax3"/>
<text x="393.1" y="185.1" class="tk t2" text-anchor="end">4</text>
<path d="M395.5 312.6 404.8 312.6 405.1 312.5 418.1 312.5 418.4 312.4 422.2 312.4 422.5 312.3 424.5 312.3 424.8 312.2 425.7 312.2 426 312.1 426.6 312.1 426.9 312 427.4 312 427.7 311.9 428 311.8 428.3 311.8 428.6 311.7 428.9 311.6 429.2 311.4 429.5 311.3 429.8 311.1 430.1 310.8 430.3 310.4 430.6 309.8 430.9 308.7 431.2 306.5 431.5 298.1 431.8 269 432.1 304 432.4 307.8 432.7 309.3 433 310.1 433.2 310.6 433.5 310.9 433.8 311.2 434.1 311.4 434.4 311.5 434.7 311.6 435 311.7 435.3 311.8 435.6 311.9 435.9 311.9 436.2 312 436.4 312 436.7 312.1 437.3 312.1 437.6 312.2 438.8 312.2 439.1 312.3 440.8 312.3 441.1 312.4 445.2 312.4 445.4 312.5 458.5 312.5 458.8 312.6 477.1 312.6 477.4 312.5 490.5 312.5 490.7 312.4 494.8 312.4 495.1 312.3 496.8 312.3 497.1 312.2 498.3 312.2 498.6 312.1 499.2 312.1 499.5 312 499.7 312 500 311.9 500.3 311.9 500.6 311.8 500.9 311.7 501.2 311.6 501.5 311.5 501.8 311.4 502.1 311.2 502.4 310.9 502.7 310.6 502.9 310.1 503.2 309.3 503.5 307.8 503.8 304 504.1 269 504.4 298.1 504.7 306.5 505 308.7 505.3 309.8 505.6 310.4 505.8 310.8 506.1 311.1 506.4 311.3 506.7 311.4 507 311.6 507.3 311.7 507.6 311.8 507.9 311.8 508.2 311.9 508.5 312 509 312 509.3 312.1 509.9 312.1 510.2 312.2 511.1 312.2 511.4 312.3 513.4 312.3 513.7 312.4 517.5 312.4 517.8 312.5 530.8 312.5 531.1 312.6 540.4 312.6" fill="none" stroke="#d95319" stroke-width=".82" stroke-linejoin="round" clip-path="url(#cp2)"/>
<text x="467.9" y="327.9" class="al" text-anchor="middle"><tspan class="ph">ϕ</tspan> (degree)</text>
<text transform="translate(381.9 247.9) rotate(-90)" class="al" text-anchor="middle" xml:space="preserve">Switching power  (W)</text>
<text x="395.8" y="180.9" class="ex">×<tspan dx=".5">10</tspan><tspan dy="-2.1" font-size="4">4</tspan></text>
<text x="465.5" y="338" class="pl" text-anchor="middle">f)</text>
<clipPath id="cp3"><rect x="392.2" y="357.1" width="147" height="131.4"/></clipPath>
<rect x="393.2" y="357.7" width="145" height="130" fill="none" stroke="#2b2b2b" stroke-width="1.05"/>
<path d="M393.2 487.7v-1.5M393.2 357.7v1.5" class="ax3"/>
<text x="393.2" y="495.3" class="tk t2" text-anchor="middle">0</text>
<path d="M409.3 487.7v-1.5M409.3 357.7v1.5" class="ax3"/>
<text x="409.3" y="495.3" class="tk t2" text-anchor="middle">20</text>
<path d="M425.4 487.7v-1.5M425.4 357.7v1.5" class="ax3"/>
<text x="425.4" y="495.3" class="tk t2" text-anchor="middle">40</text>
<path d="M441.5 487.7v-1.5M441.5 357.7v1.5" class="ax3"/>
<text x="441.5" y="495.3" class="tk t2" text-anchor="middle">60</text>
<path d="M457.6 487.7v-1.5M457.6 357.7v1.5" class="ax3"/>
<text x="457.6" y="495.3" class="tk t2" text-anchor="middle">80</text>
<path d="M473.8 487.7v-1.5M473.8 357.7v1.5" class="ax3"/>
<text x="473.8" y="495.3" class="tk t2" text-anchor="middle">100</text>
<path d="M489.9 487.7v-1.5M489.9 357.7v1.5" class="ax3"/>
<text x="489.9" y="495.3" class="tk t2" text-anchor="middle">120</text>
<path d="M506 487.7v-1.5M506 357.7v1.5" class="ax3"/>
<text x="506" y="495.3" class="tk t2" text-anchor="middle">140</text>
<path d="M522.1 487.7v-1.5M522.1 357.7v1.5" class="ax3"/>
<text x="522.1" y="495.3" class="tk t2" text-anchor="middle">160</text>
<path d="M538.2 487.7v-1.5M538.2 357.7v1.5" class="ax3"/>
<text x="538.2" y="495.3" class="tk t2" text-anchor="middle">180</text>
<path d="M393.2 487.7h1.5M538.2 487.7h-1.5" class="ax3"/>
<text x="390.8" y="489.7" class="tk t2" text-anchor="end">0</text>
<path d="M393.2 471.4h1.5M538.2 471.4h-1.5" class="ax3"/>
<text x="390.8" y="473.4" class="tk t2" text-anchor="end">0.5</text>
<path d="M393.2 455.2h1.5M538.2 455.2h-1.5" class="ax3"/>
<text x="390.8" y="457.2" class="tk t2" text-anchor="end">1</text>
<path d="M393.2 438.9h1.5M538.2 438.9h-1.5" class="ax3"/>
<text x="390.8" y="440.9" class="tk t2" text-anchor="end">1.5</text>
<path d="M393.2 422.7h1.5M538.2 422.7h-1.5" class="ax3"/>
<text x="390.8" y="424.7" class="tk t2" text-anchor="end">2</text>
<path d="M393.2 406.4h1.5M538.2 406.4h-1.5" class="ax3"/>
<text x="390.8" y="408.4" class="tk t2" text-anchor="end">2.5</text>
<path d="M393.2 390.2h1.5M538.2 390.2h-1.5" class="ax3"/>
<text x="390.8" y="392.2" class="tk t2" text-anchor="end">3</text>
<path d="M393.2 373.9h1.5M538.2 373.9h-1.5" class="ax3"/>
<text x="390.8" y="375.9" class="tk t2" text-anchor="end">3.5</text>
<path d="M393.2 357.7h1.5M538.2 357.7h-1.5" class="ax3"/>
<text x="390.8" y="359.7" class="tk t2" text-anchor="end">4</text>
<path d="M393.2 487.6 415.9 487.6 416.2 487.5 421.4 487.5 421.7 487.4 423.7 487.4 424 487.3 425.2 487.3 425.5 487.2 425.7 487.2 426 487.1 426.3 487.1 426.6 487 426.9 486.9 427.2 486.8 427.5 486.7 427.8 486.6 428.1 486.3 428.4 485.9 428.7 485.3 428.9 483.9 429.2 478.9 429.5 461.4 429.8 482.4 430.1 484.8 430.4 485.7 430.7 486.2 431 486.4 431.3 486.6 431.6 486.8 431.8 486.9 432.1 487 432.4 487.1 432.7 487.1 433 487.2 433.6 487.2 433.9 487.3 434.8 487.3 435 487.4 437.1 487.4 437.4 487.5 442.9 487.5 443.2 487.6 488.2 487.6 488.5 487.5 494 487.5 494.3 487.4 496.4 487.4 496.6 487.3 497.5 487.3 497.8 487.2 498.4 487.2 498.7 487.1 499 487.1 499.3 487 499.6 486.9 499.8 486.8 500.1 486.6 500.4 486.4 500.7 486.2 501 485.7 501.3 484.8 501.6 482.4 501.9 461.4 502.2 478.9 502.5 483.9 502.7 485.3 503 485.9 503.3 486.3 503.6 486.6 503.9 486.7 504.2 486.8 504.5 486.9 504.8 487 505.1 487.1 505.4 487.1 505.7 487.2 505.9 487.2 506.2 487.3 507.4 487.3 507.7 487.4 509.7 487.4 510 487.5 515.2 487.5 515.5 487.6 538.2 487.6" fill="none" stroke="#d95319" stroke-width=".82" stroke-linejoin="round" clip-path="url(#cp3)"/>
<text x="465.7" y="502.9" class="al" text-anchor="middle"><tspan class="ph">ϕ</tspan> (degree)</text>
<text transform="translate(381.9 422.7) rotate(-90)" class="al" text-anchor="middle" xml:space="preserve">Switching power  (W)</text>
<text x="393.5" y="355.5" class="ex">×<tspan dx=".5">10</tspan><tspan dy="-2.1" font-size="4">4</tspan></text>
<text x="465.5" y="515.2" class="pl" text-anchor="middle">i)</text>
</svg>
</div>
</body></html>
